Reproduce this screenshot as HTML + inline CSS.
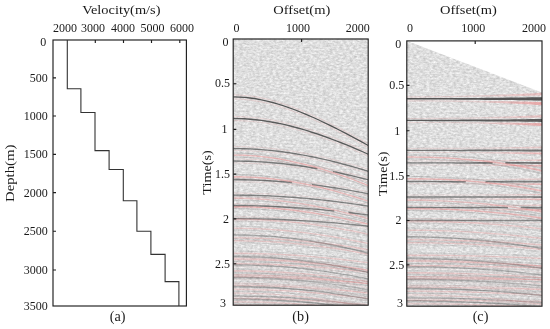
<!DOCTYPE html>
<html><head><meta charset="utf-8"><title>Velocity model and gathers</title>
<style>html,body{margin:0;padding:0;background:#fff;width:550px;height:329px;overflow:hidden}svg{display:block}</style>
</head><body>
<svg width="550" height="329" viewBox="0 0 550 329">
<defs>
<filter id="nz" x="0" y="0" width="100%" height="100%" color-interpolation-filters="sRGB">
<feTurbulence type="fractalNoise" baseFrequency="0.3 0.55" numOctaves="3" seed="3"/>
<feColorMatrix type="matrix" values="0.282 0 0 0 0.730  0.282 0 0 0 0.730  0.282 0 0 0 0.730  0 0 0 0 1"/>
</filter>
<linearGradient id="pg" gradientUnits="userSpaceOnUse" x1="478" y1="0" x2="542" y2="0"><stop offset="0" stop-color="#f07070" stop-opacity="0"/><stop offset="1" stop-color="#f07070" stop-opacity="1"/></linearGradient>
</defs>
<rect width="550" height="329" fill="#fff"/>
<clipPath id="cb"><rect x="233.3" y="38.8" width="134.7" height="266.4"/></clipPath>
<g clip-path="url(#cb)">
<rect x="233.3" y="38.8" width="134.7" height="266.4" filter="url(#nz)"/>
<polygon points="233.3,94.4 238.9,94.5 244.5,94.9 250.1,95.5 255.8,96.3 261.4,97.3 267,98.5 272.6,100 278.2,101.6 283.8,103.4 289.4,105.3 295,107.4 300.6,109.6 306.3,111.9 311.9,114.4 317.5,116.9 323.1,119.5 328.7,122.2 334.3,125 339.9,127.8 345.6,130.8 351.2,133.7 356.8,136.7 362.4,139.8 368,142.9 368,144 362.4,140.9 356.8,137.8 351.2,134.8 345.6,131.9 339.9,128.9 334.3,126.1 328.7,123.3 323.1,120.6 317.5,118 311.9,115.5 306.3,113 300.6,110.7 295,108.5 289.4,106.4 283.8,104.5 278.2,102.7 272.6,101.1 267,99.6 261.4,98.4 255.8,97.4 250.1,96.6 244.5,96 238.9,95.6 233.3,95.5" fill="rgba(238,118,118,0.16)"/>
<polygon points="233.3,98.4 238.9,98.5 244.5,98.9 250.1,99.5 255.8,100.3 261.4,101.3 267,102.5 272.6,104 278.2,105.6 283.8,107.4 289.4,109.3 295,111.4 300.6,113.6 306.3,115.9 311.9,118.4 317.5,120.9 323.1,123.5 328.7,126.2 334.3,129 339.9,131.8 345.6,134.8 351.2,137.7 356.8,140.7 362.4,143.8 368,146.9 368,148 362.4,144.9 356.8,141.8 351.2,138.8 345.6,135.9 339.9,132.9 334.3,130.1 328.7,127.3 323.1,124.6 317.5,122 311.9,119.5 306.3,117 300.6,114.7 295,112.5 289.4,110.4 283.8,108.5 278.2,106.7 272.6,105.1 267,103.6 261.4,102.4 255.8,101.4 250.1,100.6 244.5,100 238.9,99.6 233.3,99.5" fill="rgba(238,118,118,0.16)"/>
<polygon points="233.3,96.2 238.9,96.4 244.5,96.7 250.1,97.3 255.8,98.1 261.4,99.2 267,100.4 272.6,101.8 278.2,103.4 283.8,105.2 289.4,107.2 295,109.2 300.6,111.4 306.3,113.8 311.9,116.2 317.5,118.7 323.1,121.4 328.7,124.1 334.3,126.8 339.9,129.7 345.6,132.6 351.2,135.6 356.8,138.6 362.4,141.6 368,144.7 368,146.1 362.4,143 356.8,140 351.2,137 345.6,134 339.9,131.1 334.3,128.2 328.7,125.5 323.1,122.8 317.5,120.1 311.9,117.6 306.3,115.2 300.6,112.8 295,110.6 289.4,108.6 283.8,106.6 278.2,104.8 272.6,103.2 267,101.8 261.4,100.6 255.8,99.5 250.1,98.7 244.5,98.1 238.9,97.8 233.3,97.6" fill="rgba(60,60,60,0.85)"/>
<polygon points="233.3,116 238.9,116.1 244.5,116.3 250.1,116.7 255.8,117.2 261.4,117.9 267,118.7 272.6,119.6 278.2,120.7 283.8,121.9 289.4,123.2 295,124.7 300.6,126.2 306.3,127.9 311.9,129.6 317.5,131.5 323.1,133.4 328.7,135.4 334.3,137.5 339.9,139.7 345.6,142 351.2,144.3 356.8,146.6 362.4,149.1 368,151.6 368,152.7 362.4,150.2 356.8,147.7 351.2,145.4 345.6,143.1 339.9,140.8 334.3,138.6 328.7,136.5 323.1,134.5 317.5,132.6 311.9,130.7 306.3,129 300.6,127.3 295,125.8 289.4,124.3 283.8,123 278.2,121.8 272.6,120.7 267,119.8 261.4,119 255.8,118.3 250.1,117.8 244.5,117.4 238.9,117.2 233.3,117.1" fill="rgba(238,118,118,0.15)"/>
<polygon points="233.3,120 238.9,120.1 244.5,120.3 250.1,120.7 255.8,121.2 261.4,121.9 267,122.7 272.6,123.6 278.2,124.7 283.8,125.9 289.4,127.2 295,128.7 300.6,130.2 306.3,131.9 311.9,133.6 317.5,135.5 323.1,137.4 328.7,139.4 334.3,141.5 339.9,143.7 345.6,146 351.2,148.3 356.8,150.6 362.4,153.1 368,155.6 368,156.7 362.4,154.2 356.8,151.7 351.2,149.4 345.6,147.1 339.9,144.8 334.3,142.6 328.7,140.5 323.1,138.5 317.5,136.6 311.9,134.7 306.3,133 300.6,131.3 295,129.8 289.4,128.3 283.8,127 278.2,125.8 272.6,124.7 267,123.8 261.4,123 255.8,122.3 250.1,121.8 244.5,121.4 238.9,121.2 233.3,121.1" fill="rgba(238,118,118,0.15)"/>
<polygon points="233.3,117.8 238.9,117.9 244.5,118.1 250.1,118.5 255.8,119 261.4,119.7 267,120.5 272.6,121.5 278.2,122.5 283.8,123.7 289.4,125.1 295,126.5 300.6,128.1 306.3,129.7 311.9,131.5 317.5,133.3 323.1,135.3 328.7,137.3 334.3,139.4 339.9,141.6 345.6,143.8 351.2,146.1 356.8,148.5 362.4,150.9 368,153.4 368,154.8 362.4,152.3 356.8,149.9 351.2,147.5 345.6,145.2 339.9,143 334.3,140.8 328.7,138.7 323.1,136.7 317.5,134.7 311.9,132.9 306.3,131.1 300.6,129.5 295,127.9 289.4,126.5 283.8,125.1 278.2,123.9 272.6,122.9 267,121.9 261.4,121.1 255.8,120.4 250.1,119.9 244.5,119.5 238.9,119.3 233.3,119.2" fill="rgba(60,60,60,0.81)"/>
<polygon points="233.3,146 238.9,146 244.5,146.1 250.1,146.4 255.8,146.7 261.4,147 267,147.5 272.6,148.1 278.2,148.7 283.8,149.4 289.4,150.2 295,151.1 300.6,152.1 306.3,153.1 311.9,154.2 317.5,155.4 323.1,156.6 328.7,157.9 334.3,159.3 339.9,160.7 345.6,162.2 351.2,163.7 356.8,165.3 362.4,167 368,168.7 368,169.8 362.4,168.1 356.8,166.4 351.2,164.8 345.6,163.3 339.9,161.8 334.3,160.4 328.7,159 323.1,157.7 317.5,156.5 311.9,155.3 306.3,154.2 300.6,153.2 295,152.2 289.4,151.3 283.8,150.5 278.2,149.8 272.6,149.2 267,148.6 261.4,148.1 255.8,147.8 250.1,147.5 244.5,147.2 238.9,147.1 233.3,147.1" fill="rgba(238,118,118,0.12)"/>
<polygon points="233.3,150 238.9,150 244.5,150.1 250.1,150.4 255.8,150.7 261.4,151 267,151.5 272.6,152.1 278.2,152.7 283.8,153.4 289.4,154.2 295,155.1 300.6,156.1 306.3,157.1 311.9,158.2 317.5,159.4 323.1,160.6 328.7,161.9 334.3,163.3 339.9,164.7 345.6,166.2 351.2,167.7 356.8,169.3 362.4,171 368,172.7 368,173.8 362.4,172.1 356.8,170.4 351.2,168.8 345.6,167.3 339.9,165.8 334.3,164.4 328.7,163 323.1,161.7 317.5,160.5 311.9,159.3 306.3,158.2 300.6,157.2 295,156.2 289.4,155.3 283.8,154.5 278.2,153.8 272.6,153.2 267,152.6 261.4,152.1 255.8,151.8 250.1,151.5 244.5,151.2 238.9,151.1 233.3,151.1" fill="rgba(238,118,118,0.12)"/>
<polygon points="233.3,147.8 238.9,147.9 244.5,148 250.1,148.2 255.8,148.5 261.4,148.9 267,149.4 272.6,149.9 278.2,150.6 283.8,151.3 289.4,152.1 295,153 300.6,153.9 306.3,154.9 311.9,156 317.5,157.2 323.1,158.4 328.7,159.7 334.3,161.1 339.9,162.5 345.6,164 351.2,165.6 356.8,167.2 362.4,168.8 368,170.5 368,171.9 362.4,170.2 356.8,168.6 351.2,167 345.6,165.4 339.9,163.9 334.3,162.5 328.7,161.1 323.1,159.8 317.5,158.6 311.9,157.4 306.3,156.3 300.6,155.3 295,154.4 289.4,153.5 283.8,152.7 278.2,152 272.6,151.3 267,150.8 261.4,150.3 255.8,149.9 250.1,149.6 244.5,149.4 238.9,149.3 233.3,149.2" fill="rgba(60,60,60,0.65)"/>
<polygon points="233.3,158.5 238.9,158.5 244.5,158.6 250.1,158.8 255.8,159 261.4,159.3 267,159.7 272.6,160.2 278.2,160.7 283.8,161.3 289.4,161.9 295,162.6 300.6,163.4 306.3,164.3 311.9,165.2 317.5,166.1 323.1,167.1 328.7,168.2 334.3,169.4 339.9,170.5 345.6,171.8 351.2,173.1 356.8,174.4 362.4,175.8 368,177.2 368,178.3 362.4,176.9 356.8,175.5 351.2,174.2 345.6,172.9 339.9,171.6 334.3,170.5 328.7,169.3 323.1,168.2 317.5,167.2 311.9,166.3 306.3,165.4 300.6,164.5 295,163.7 289.4,163 283.8,162.4 278.2,161.8 272.6,161.3 267,160.8 261.4,160.4 255.8,160.1 250.1,159.9 244.5,159.7 238.9,159.6 233.3,159.6" fill="rgba(238,118,118,0.12)"/>
<polygon points="233.3,162.5 238.9,162.5 244.5,162.6 250.1,162.8 255.8,163 261.4,163.3 267,163.7 272.6,164.2 278.2,164.7 283.8,165.3 289.4,165.9 295,166.6 300.6,167.4 306.3,168.3 311.9,169.2 317.5,170.1 323.1,171.1 328.7,172.2 334.3,173.4 339.9,174.5 345.6,175.8 351.2,177.1 356.8,178.4 362.4,179.8 368,181.2 368,182.3 362.4,180.9 356.8,179.5 351.2,178.2 345.6,176.9 339.9,175.6 334.3,174.5 328.7,173.3 323.1,172.2 317.5,171.2 311.9,170.3 306.3,169.4 300.6,168.5 295,167.7 289.4,167 283.8,166.4 278.2,165.8 272.6,165.3 267,164.8 261.4,164.4 255.8,164.1 250.1,163.9 244.5,163.7 238.9,163.6 233.3,163.6" fill="rgba(238,118,118,0.12)"/>
<polygon points="233.3,160.3 238.9,160.4 244.5,160.5 250.1,160.6 255.8,160.9 261.4,161.2 267,161.6 272.6,162 278.2,162.5 283.8,163.1 289.4,163.8 295,164.5 300.6,165.3 306.3,166.1 311.9,167 317.5,168 317.5,169.4 311.9,168.4 306.3,167.5 300.6,166.7 295,165.9 289.4,165.2 283.8,164.5 278.2,163.9 272.6,163.4 267,163 261.4,162.6 255.8,162.3 250.1,162 244.5,161.9 238.9,161.8 233.3,161.7" fill="rgba(60,60,60,0.63)"/>
<polygon points="332.9,170.9 338.5,172.1 344.1,173.3 349.8,174.6 355.4,175.9 361,177.3 366.6,178.7 368,179.1 368,180.5 366.6,180.1 361,178.7 355.4,177.3 349.8,176 344.1,174.7 338.5,173.5 332.9,172.3" fill="rgba(60,60,60,0.63)"/>
<polygon points="233.3,177.2 238.9,177.2 244.5,177.3 250.1,177.4 255.8,177.6 261.4,177.8 267,178.1 272.6,178.4 278.2,178.8 283.8,179.2 289.4,179.7 295,180.2 300.6,180.8 306.3,181.4 311.9,182.1 317.5,182.8 323.1,183.6 328.7,184.4 334.3,185.2 339.9,186.1 345.6,187 351.2,188 356.8,189 362.4,190.1 368,191.2 368,192.3 362.4,191.2 356.8,190.1 351.2,189.1 345.6,188.1 339.9,187.2 334.3,186.3 328.7,185.5 323.1,184.7 317.5,183.9 311.9,183.2 306.3,182.5 300.6,181.9 295,181.3 289.4,180.8 283.8,180.3 278.2,179.9 272.6,179.5 267,179.2 261.4,178.9 255.8,178.7 250.1,178.5 244.5,178.4 238.9,178.3 233.3,178.3" fill="rgba(238,118,118,0.11)"/>
<polygon points="233.3,181.2 238.9,181.2 244.5,181.3 250.1,181.4 255.8,181.6 261.4,181.8 267,182.1 272.6,182.4 278.2,182.8 283.8,183.2 289.4,183.7 295,184.2 300.6,184.8 306.3,185.4 311.9,186.1 317.5,186.8 323.1,187.6 328.7,188.4 334.3,189.2 339.9,190.1 345.6,191 351.2,192 356.8,193 362.4,194.1 368,195.2 368,196.3 362.4,195.2 356.8,194.1 351.2,193.1 345.6,192.1 339.9,191.2 334.3,190.3 328.7,189.5 323.1,188.7 317.5,187.9 311.9,187.2 306.3,186.5 300.6,185.9 295,185.3 289.4,184.8 283.8,184.3 278.2,183.9 272.6,183.5 267,183.2 261.4,182.9 255.8,182.7 250.1,182.5 244.5,182.4 238.9,182.3 233.3,182.3" fill="rgba(238,118,118,0.11)"/>
<polygon points="233.3,179 238.9,179.1 244.5,179.1 250.1,179.3 255.8,179.4 261.4,179.7 267,180 272.6,180.3 278.2,180.7 283.8,181.1 289.4,181.6 292.2,181.8 292.2,183.2 289.4,183 283.8,182.5 278.2,182.1 272.6,181.7 267,181.4 261.4,181.1 255.8,180.8 250.1,180.7 244.5,180.5 238.9,180.5 233.3,180.4" fill="rgba(60,60,60,0.59)"/>
<polygon points="311.9,183.9 317.5,184.7 323.1,185.4 328.7,186.2 334.3,187.1 339.9,187.9 345.6,188.9 351.2,189.9 356.8,190.9 362.4,191.9 368,193 368,194.4 362.4,193.3 356.8,192.3 351.2,191.3 345.6,190.3 339.9,189.3 334.3,188.5 328.7,187.6 323.1,186.8 317.5,186.1 311.9,185.3" fill="rgba(60,60,60,0.59)"/>
<polygon points="233.3,192.6 238.9,192.6 244.5,192.7 250.1,192.8 255.8,192.9 261.4,193.1 267,193.3 272.6,193.5 278.2,193.8 283.8,194.2 289.4,194.5 295,195 300.6,195.4 306.3,195.9 311.9,196.4 317.5,197 323.1,197.6 328.7,198.2 334.3,198.9 339.9,199.6 345.6,200.3 351.2,201.1 356.8,201.9 362.4,202.7 368,203.6 368,204.7 362.4,203.8 356.8,203 351.2,202.2 345.6,201.4 339.9,200.7 334.3,200 328.7,199.3 323.1,198.7 317.5,198.1 311.9,197.5 306.3,197 300.6,196.5 295,196.1 289.4,195.6 283.8,195.3 278.2,194.9 272.6,194.6 267,194.4 261.4,194.2 255.8,194 250.1,193.9 244.5,193.8 238.9,193.7 233.3,193.7" fill="rgba(238,118,118,0.11)"/>
<polygon points="233.3,196.6 238.9,196.6 244.5,196.7 250.1,196.8 255.8,196.9 261.4,197.1 267,197.3 272.6,197.5 278.2,197.8 283.8,198.2 289.4,198.5 295,199 300.6,199.4 306.3,199.9 311.9,200.4 317.5,201 323.1,201.6 328.7,202.2 334.3,202.9 339.9,203.6 345.6,204.3 351.2,205.1 356.8,205.9 362.4,206.7 368,207.6 368,208.7 362.4,207.8 356.8,207 351.2,206.2 345.6,205.4 339.9,204.7 334.3,204 328.7,203.3 323.1,202.7 317.5,202.1 311.9,201.5 306.3,201 300.6,200.5 295,200.1 289.4,199.6 283.8,199.3 278.2,198.9 272.6,198.6 267,198.4 261.4,198.2 255.8,198 250.1,197.9 244.5,197.8 238.9,197.7 233.3,197.7" fill="rgba(238,118,118,0.11)"/>
<polygon points="233.3,194.4 238.9,194.4 244.5,194.5 250.1,194.6 255.8,194.7 261.4,194.9 267,195.1 272.6,195.4 278.2,195.7 283.8,196 289.4,196.4 295,196.8 300.6,197.3 306.3,197.7 311.9,198.3 317.5,198.8 323.1,199.4 328.7,200.1 334.3,200.7 339.9,201.4 345.6,202.2 351.2,202.9 356.8,203.7 362.4,204.6 368,205.4 368,206.8 362.4,206 356.8,205.1 351.2,204.3 345.6,203.6 339.9,202.8 334.3,202.1 328.7,201.5 323.1,200.8 317.5,200.2 311.9,199.7 306.3,199.1 300.6,198.7 295,198.2 289.4,197.8 283.8,197.4 278.2,197.1 272.6,196.8 267,196.5 261.4,196.3 255.8,196.1 250.1,196 244.5,195.9 238.9,195.8 233.3,195.8" fill="rgba(60,60,60,0.59)"/>
<polygon points="233.3,203.1 238.9,203.1 244.5,203.2 250.1,203.3 255.8,203.4 261.4,203.5 267,203.7 272.6,203.9 278.2,204.2 283.8,204.5 289.4,204.8 295,205.1 300.6,205.5 306.3,205.9 311.9,206.3 317.5,206.8 323.1,207.3 328.7,207.9 334.3,208.4 339.9,209 345.6,209.6 351.2,210.3 356.8,211 362.4,211.7 368,212.4 368,213.5 362.4,212.8 356.8,212.1 351.2,211.4 345.6,210.7 339.9,210.1 334.3,209.5 328.7,209 323.1,208.4 317.5,207.9 311.9,207.4 306.3,207 300.6,206.6 295,206.2 289.4,205.9 283.8,205.6 278.2,205.3 272.6,205 267,204.8 261.4,204.6 255.8,204.5 250.1,204.4 244.5,204.3 238.9,204.2 233.3,204.2" fill="rgba(238,118,118,0.11)"/>
<polygon points="233.3,207.1 238.9,207.1 244.5,207.2 250.1,207.3 255.8,207.4 261.4,207.5 267,207.7 272.6,207.9 278.2,208.2 283.8,208.5 289.4,208.8 295,209.1 300.6,209.5 306.3,209.9 311.9,210.3 317.5,210.8 323.1,211.3 328.7,211.9 334.3,212.4 339.9,213 345.6,213.6 351.2,214.3 356.8,215 362.4,215.7 368,216.4 368,217.5 362.4,216.8 356.8,216.1 351.2,215.4 345.6,214.7 339.9,214.1 334.3,213.5 328.7,213 323.1,212.4 317.5,211.9 311.9,211.4 306.3,211 300.6,210.6 295,210.2 289.4,209.9 283.8,209.6 278.2,209.3 272.6,209 267,208.8 261.4,208.6 255.8,208.5 250.1,208.4 244.5,208.3 238.9,208.2 233.3,208.2" fill="rgba(238,118,118,0.11)"/>
<polygon points="233.3,205 238.9,205 244.5,205 250.1,205.1 255.8,205.2 261.4,205.4 267,205.6 272.6,205.8 278.2,206 283.8,206.3 289.4,206.6 295,207 300.6,207.3 306.3,207.8 311.9,208.2 317.5,208.7 323.1,209.2 328.7,209.7 334.3,210.3 334.3,211.7 328.7,211.1 323.1,210.6 317.5,210.1 311.9,209.6 306.3,209.2 300.6,208.7 295,208.4 289.4,208 283.8,207.7 278.2,207.4 272.6,207.2 267,207 261.4,206.8 255.8,206.6 250.1,206.5 244.5,206.4 238.9,206.4 233.3,206.4" fill="rgba(60,60,60,0.59)"/>
<polygon points="348.4,211.8 354,212.5 359.6,213.2 365.2,213.9 368,214.3 368,215.7 365.2,215.3 359.6,214.6 354,213.9 348.4,213.2" fill="rgba(60,60,60,0.59)"/>
<polygon points="233.3,216.1 238.9,216.1 244.5,216.1 250.1,216.2 255.8,216.3 261.4,216.4 267,216.6 272.6,216.7 278.2,216.9 283.8,217.2 289.4,217.4 295,217.7 300.6,218 306.3,218.3 311.9,218.7 317.5,219.1 323.1,219.5 328.7,219.9 334.3,220.4 339.9,220.9 345.6,221.4 351.2,221.9 356.8,222.5 362.4,223.1 368,223.7 368,224.8 362.4,224.2 356.8,223.6 351.2,223 345.6,222.5 339.9,222 334.3,221.5 328.7,221 323.1,220.6 317.5,220.2 311.9,219.8 306.3,219.4 300.6,219.1 295,218.8 289.4,218.5 283.8,218.3 278.2,218 272.6,217.8 267,217.7 261.4,217.5 255.8,217.4 250.1,217.3 244.5,217.2 238.9,217.2 233.3,217.2" fill="rgba(238,118,118,0.10)"/>
<polygon points="233.3,220.1 238.9,220.1 244.5,220.1 250.1,220.2 255.8,220.3 261.4,220.4 267,220.6 272.6,220.7 278.2,220.9 283.8,221.2 289.4,221.4 295,221.7 300.6,222 306.3,222.3 311.9,222.7 317.5,223.1 323.1,223.5 328.7,223.9 334.3,224.4 339.9,224.9 345.6,225.4 351.2,225.9 356.8,226.5 362.4,227.1 368,227.7 368,228.8 362.4,228.2 356.8,227.6 351.2,227 345.6,226.5 339.9,226 334.3,225.5 328.7,225 323.1,224.6 317.5,224.2 311.9,223.8 306.3,223.4 300.6,223.1 295,222.8 289.4,222.5 283.8,222.3 278.2,222 272.6,221.8 267,221.7 261.4,221.5 255.8,221.4 250.1,221.3 244.5,221.2 238.9,221.2 233.3,221.2" fill="rgba(238,118,118,0.10)"/>
<polygon points="233.3,217.9 238.9,217.9 244.5,218 250.1,218 255.8,218.1 261.4,218.3 267,218.4 272.6,218.6 278.2,218.8 283.8,219 289.4,219.3 295,219.5 300.6,219.9 306.3,220.2 311.9,220.5 317.5,220.9 323.1,221.3 328.7,221.8 334.3,222.2 339.9,222.7 345.6,223.2 351.2,223.8 356.8,224.3 362.4,224.9 368,225.5 368,226.9 362.4,226.3 356.8,225.7 351.2,225.2 345.6,224.6 339.9,224.1 334.3,223.6 328.7,223.2 323.1,222.7 317.5,222.3 311.9,221.9 306.3,221.6 300.6,221.3 295,220.9 289.4,220.7 283.8,220.4 278.2,220.2 272.6,220 267,219.8 261.4,219.7 255.8,219.5 250.1,219.4 244.5,219.4 238.9,219.3 233.3,219.3" fill="rgba(60,60,60,0.54)"/>
<polygon points="233.3,152.5 238.9,152.6 244.5,152.8 250.1,153.1 255.8,153.5 261.4,154 267,154.7 272.6,155.4 278.2,156.3 283.8,157.3 289.4,158.4 295,159.5 300.6,160.8 306.3,162.2 311.9,163.7 317.5,165.3 323.1,166.9 328.7,168.7 334.3,170.5 339.9,172.4 345.6,174.4 351.2,176.4 356.8,178.5 362.4,180.7 368,182.9 368,184 362.4,181.8 356.8,179.6 351.2,177.5 345.6,175.5 339.9,173.5 334.3,171.6 328.7,169.8 323.1,168 317.5,166.4 311.9,164.8 306.3,163.3 300.6,161.9 295,160.6 289.4,159.5 283.8,158.4 278.2,157.4 272.6,156.5 267,155.8 261.4,155.1 255.8,154.6 250.1,154.2 244.5,153.9 238.9,153.7 233.3,153.6" fill="rgba(60,60,60,0.17)"/>
<polygon points="233.3,156.5 238.9,156.6 244.5,156.8 250.1,157.1 255.8,157.5 261.4,158 267,158.7 272.6,159.4 278.2,160.3 283.8,161.3 289.4,162.4 295,163.5 300.6,164.8 306.3,166.2 311.9,167.7 317.5,169.3 323.1,170.9 328.7,172.7 334.3,174.5 339.9,176.4 345.6,178.4 351.2,180.4 356.8,182.5 362.4,184.7 368,186.9 368,188 362.4,185.8 356.8,183.6 351.2,181.5 345.6,179.5 339.9,177.5 334.3,175.6 328.7,173.8 323.1,172 317.5,170.4 311.9,168.8 306.3,167.3 300.6,165.9 295,164.6 289.4,163.5 283.8,162.4 278.2,161.4 272.6,160.5 267,159.8 261.4,159.1 255.8,158.6 250.1,158.2 244.5,157.9 238.9,157.7 233.3,157.6" fill="rgba(60,60,60,0.17)"/>
<polygon points="233.3,154.4 238.9,154.4 244.5,154.6 250.1,154.9 255.8,155.3 261.4,155.9 267,156.5 272.6,157.3 278.2,158.1 283.8,159.1 289.4,160.2 295,161.4 300.6,162.7 306.3,164.1 311.9,165.5 317.5,167.1 323.1,168.8 328.7,170.5 334.3,172.3 339.9,174.2 345.6,176.2 351.2,178.2 356.8,180.4 362.4,182.5 368,184.8 368,186.2 362.4,183.9 356.8,181.8 351.2,179.6 345.6,177.6 339.9,175.6 334.3,173.7 328.7,171.9 323.1,170.2 317.5,168.5 311.9,166.9 306.3,165.5 300.6,164.1 295,162.8 289.4,161.6 283.8,160.5 278.2,159.5 272.6,158.7 267,157.9 261.4,157.3 255.8,156.7 250.1,156.3 244.5,156 238.9,155.8 233.3,155.8" fill="rgba(238,118,118,0.38)"/>
<polygon points="233.3,174.1 238.9,174.2 244.5,174.3 250.1,174.5 255.8,174.9 261.4,175.3 267,175.8 272.6,176.4 278.2,177.1 283.8,177.8 289.4,178.7 295,179.6 300.6,180.6 306.3,181.7 311.9,182.9 317.5,184.2 323.1,185.5 328.7,186.9 334.3,188.4 339.9,189.9 345.6,191.5 351.2,193.2 356.8,194.9 362.4,196.7 368,198.6 368,199.7 362.4,197.8 356.8,196 351.2,194.3 345.6,192.6 339.9,191 334.3,189.5 328.7,188 323.1,186.6 317.5,185.3 311.9,184 306.3,182.8 300.6,181.7 295,180.7 289.4,179.8 283.8,178.9 278.2,178.2 272.6,177.5 267,176.9 261.4,176.4 255.8,176 250.1,175.6 244.5,175.4 238.9,175.3 233.3,175.2" fill="rgba(60,60,60,0.17)"/>
<polygon points="233.3,178.1 238.9,178.2 244.5,178.3 250.1,178.5 255.8,178.9 261.4,179.3 267,179.8 272.6,180.4 278.2,181.1 283.8,181.8 289.4,182.7 295,183.6 300.6,184.6 306.3,185.7 311.9,186.9 317.5,188.2 323.1,189.5 328.7,190.9 334.3,192.4 339.9,193.9 345.6,195.5 351.2,197.2 356.8,198.9 362.4,200.7 368,202.6 368,203.7 362.4,201.8 356.8,200 351.2,198.3 345.6,196.6 339.9,195 334.3,193.5 328.7,192 323.1,190.6 317.5,189.3 311.9,188 306.3,186.8 300.6,185.7 295,184.7 289.4,183.8 283.8,182.9 278.2,182.2 272.6,181.5 267,180.9 261.4,180.4 255.8,180 250.1,179.6 244.5,179.4 238.9,179.3 233.3,179.2" fill="rgba(60,60,60,0.17)"/>
<polygon points="233.3,176 238.9,176 244.5,176.2 250.1,176.4 255.8,176.7 261.4,177.1 267,177.6 272.6,178.2 278.2,178.9 283.8,179.7 289.4,180.5 295,181.5 300.6,182.5 306.3,183.6 311.9,184.8 317.5,186 323.1,187.4 328.7,188.8 334.3,190.2 339.9,191.8 345.6,193.4 351.2,195.1 356.8,196.8 362.4,198.6 368,200.4 368,201.8 362.4,200 356.8,198.2 351.2,196.5 345.6,194.8 339.9,193.2 334.3,191.6 328.7,190.2 323.1,188.8 317.5,187.4 311.9,186.2 306.3,185 300.6,183.9 295,182.9 289.4,181.9 283.8,181.1 278.2,180.3 272.6,179.6 267,179 261.4,178.5 255.8,178.1 250.1,177.8 244.5,177.6 238.9,177.4 233.3,177.4" fill="rgba(238,118,118,0.38)"/>
<polygon points="233.3,204.1 238.9,204.1 244.5,204.2 250.1,204.4 255.8,204.6 261.4,204.9 267,205.2 272.6,205.7 278.2,206.1 283.8,206.7 289.4,207.3 295,207.9 300.6,208.6 306.3,209.4 311.9,210.2 317.5,211.1 323.1,212.1 328.7,213.1 334.3,214.1 339.9,215.2 345.6,216.4 351.2,217.6 356.8,218.9 362.4,220.2 368,221.6 368,222.7 362.4,221.3 356.8,220 351.2,218.7 345.6,217.5 339.9,216.3 334.3,215.2 328.7,214.2 323.1,213.2 317.5,212.2 311.9,211.3 306.3,210.5 300.6,209.7 295,209 289.4,208.4 283.8,207.8 278.2,207.2 272.6,206.8 267,206.3 261.4,206 255.8,205.7 250.1,205.5 244.5,205.3 238.9,205.2 233.3,205.2" fill="rgba(60,60,60,0.17)"/>
<polygon points="233.3,208.1 238.9,208.1 244.5,208.2 250.1,208.4 255.8,208.6 261.4,208.9 267,209.2 272.6,209.7 278.2,210.1 283.8,210.7 289.4,211.3 295,211.9 300.6,212.6 306.3,213.4 311.9,214.2 317.5,215.1 323.1,216.1 328.7,217.1 334.3,218.1 339.9,219.2 345.6,220.4 351.2,221.6 356.8,222.9 362.4,224.2 368,225.6 368,226.7 362.4,225.3 356.8,224 351.2,222.7 345.6,221.5 339.9,220.3 334.3,219.2 328.7,218.2 323.1,217.2 317.5,216.2 311.9,215.3 306.3,214.5 300.6,213.7 295,213 289.4,212.4 283.8,211.8 278.2,211.2 272.6,210.8 267,210.3 261.4,210 255.8,209.7 250.1,209.5 244.5,209.3 238.9,209.2 233.3,209.2" fill="rgba(60,60,60,0.17)"/>
<polygon points="233.3,206 238.9,206 244.5,206.1 250.1,206.2 255.8,206.5 261.4,206.7 267,207.1 272.6,207.5 278.2,208 283.8,208.5 289.4,209.1 295,209.8 300.6,210.5 306.3,211.3 311.9,212.1 317.5,213 323.1,213.9 328.7,214.9 334.3,216 339.9,217.1 345.6,218.3 351.2,219.5 356.8,220.7 362.4,222.1 368,223.4 368,224.8 362.4,223.5 356.8,222.1 351.2,220.9 345.6,219.7 339.9,218.5 334.3,217.4 328.7,216.3 323.1,215.3 317.5,214.4 311.9,213.5 306.3,212.7 300.6,211.9 295,211.2 289.4,210.5 283.8,209.9 278.2,209.4 272.6,208.9 267,208.5 261.4,208.1 255.8,207.9 250.1,207.6 244.5,207.5 238.9,207.4 233.3,207.4" fill="rgba(238,118,118,0.38)"/>
<polygon points="233.3,216.6 238.9,216.6 244.5,216.7 250.1,216.9 255.8,217 261.4,217.3 267,217.6 272.6,217.9 278.2,218.3 283.8,218.8 289.4,219.3 295,219.9 300.6,220.5 306.3,221.1 311.9,221.9 317.5,222.6 323.1,223.4 328.7,224.3 334.3,225.2 339.9,226.2 345.6,227.2 351.2,228.2 356.8,229.3 362.4,230.4 368,231.6 368,232.7 362.4,231.5 356.8,230.4 351.2,229.3 345.6,228.3 339.9,227.3 334.3,226.3 328.7,225.4 323.1,224.5 317.5,223.7 311.9,223 306.3,222.2 300.6,221.6 295,221 289.4,220.4 283.8,219.9 278.2,219.4 272.6,219 267,218.7 261.4,218.4 255.8,218.1 250.1,218 244.5,217.8 238.9,217.7 233.3,217.7" fill="rgba(60,60,60,0.11)"/>
<polygon points="233.3,220.6 238.9,220.6 244.5,220.7 250.1,220.9 255.8,221 261.4,221.3 267,221.6 272.6,221.9 278.2,222.3 283.8,222.8 289.4,223.3 295,223.9 300.6,224.5 306.3,225.1 311.9,225.9 317.5,226.6 323.1,227.4 328.7,228.3 334.3,229.2 339.9,230.2 345.6,231.2 351.2,232.2 356.8,233.3 362.4,234.4 368,235.6 368,236.7 362.4,235.5 356.8,234.4 351.2,233.3 345.6,232.3 339.9,231.3 334.3,230.3 328.7,229.4 323.1,228.5 317.5,227.7 311.9,227 306.3,226.2 300.6,225.6 295,225 289.4,224.4 283.8,223.9 278.2,223.4 272.6,223 267,222.7 261.4,222.4 255.8,222.1 250.1,222 244.5,221.8 238.9,221.7 233.3,221.7" fill="rgba(60,60,60,0.11)"/>
<polygon points="233.3,218.5 238.9,218.5 244.5,218.6 250.1,218.7 255.8,218.9 261.4,219.1 267,219.4 272.6,219.8 278.2,220.2 283.8,220.6 289.4,221.2 295,221.7 300.6,222.3 306.3,223 311.9,223.7 317.5,224.5 323.1,225.3 328.7,226.1 334.3,227 339.9,228 345.6,229 351.2,230.1 356.8,231.1 362.4,232.3 368,233.5 368,234.9 362.4,233.7 356.8,232.5 351.2,231.5 345.6,230.4 339.9,229.4 334.3,228.4 328.7,227.5 323.1,226.7 317.5,225.9 311.9,225.1 306.3,224.4 300.6,223.7 295,223.1 289.4,222.6 283.8,222 278.2,221.6 272.6,221.2 267,220.8 261.4,220.5 255.8,220.3 250.1,220.1 244.5,220 238.9,219.9 233.3,219.9" fill="rgba(238,118,118,0.24)"/>
<polygon points="233.3,235.3 238.9,235.4 244.5,235.4 250.1,235.5 255.8,235.7 261.4,235.9 267,236.1 272.6,236.4 278.2,236.7 283.8,237 289.4,237.4 295,237.9 300.6,238.3 306.3,238.8 311.9,239.4 317.5,240 323.1,240.6 328.7,241.3 334.3,242 339.9,242.8 345.6,243.6 351.2,244.4 356.8,245.2 362.4,246.1 368,247.1 368,248.2 362.4,247.2 356.8,246.3 351.2,245.5 345.6,244.7 339.9,243.9 334.3,243.1 328.7,242.4 323.1,241.7 317.5,241.1 311.9,240.5 306.3,239.9 300.6,239.4 295,239 289.4,238.5 283.8,238.1 278.2,237.8 272.6,237.5 267,237.2 261.4,237 255.8,236.8 250.1,236.6 244.5,236.5 238.9,236.5 233.3,236.4" fill="rgba(60,60,60,0.11)"/>
<polygon points="233.3,239.3 238.9,239.4 244.5,239.4 250.1,239.5 255.8,239.7 261.4,239.9 267,240.1 272.6,240.4 278.2,240.7 283.8,241 289.4,241.4 295,241.9 300.6,242.3 306.3,242.8 311.9,243.4 317.5,244 323.1,244.6 328.7,245.3 334.3,246 339.9,246.8 345.6,247.6 351.2,248.4 356.8,249.2 362.4,250.1 368,251.1 368,252.2 362.4,251.2 356.8,250.3 351.2,249.5 345.6,248.7 339.9,247.9 334.3,247.1 328.7,246.4 323.1,245.7 317.5,245.1 311.9,244.5 306.3,243.9 300.6,243.4 295,243 289.4,242.5 283.8,242.1 278.2,241.8 272.6,241.5 267,241.2 261.4,241 255.8,240.8 250.1,240.6 244.5,240.5 238.9,240.5 233.3,240.4" fill="rgba(60,60,60,0.11)"/>
<polygon points="233.3,237.2 238.9,237.2 244.5,237.3 250.1,237.4 255.8,237.5 261.4,237.7 267,237.9 272.6,238.2 278.2,238.5 283.8,238.9 289.4,239.3 295,239.7 300.6,240.2 306.3,240.7 311.9,241.3 317.5,241.8 323.1,242.5 328.7,243.2 334.3,243.9 339.9,244.6 345.6,245.4 351.2,246.2 356.8,247.1 362.4,248 368,248.9 368,250.3 362.4,249.4 356.8,248.5 351.2,247.6 345.6,246.8 339.9,246 334.3,245.3 328.7,244.6 323.1,243.9 317.5,243.2 311.9,242.7 306.3,242.1 300.6,241.6 295,241.1 289.4,240.7 283.8,240.3 278.2,239.9 272.6,239.6 267,239.3 261.4,239.1 255.8,238.9 250.1,238.8 244.5,238.7 238.9,238.6 233.3,238.6" fill="rgba(238,118,118,0.24)"/>
<polygon points="233.3,250.7 238.9,250.7 244.5,250.8 250.1,250.9 255.8,251 261.4,251.1 267,251.3 272.6,251.6 278.2,251.8 283.8,252.1 289.4,252.4 295,252.8 300.6,253.2 306.3,253.6 311.9,254 317.5,254.5 323.1,255 328.7,255.6 334.3,256.2 339.9,256.8 345.6,257.4 351.2,258.1 356.8,258.8 362.4,259.5 368,260.3 368,261.4 362.4,260.6 356.8,259.9 351.2,259.2 345.6,258.5 339.9,257.9 334.3,257.3 328.7,256.7 323.1,256.1 317.5,255.6 311.9,255.1 306.3,254.7 300.6,254.3 295,253.9 289.4,253.5 283.8,253.2 278.2,252.9 272.6,252.7 267,252.4 261.4,252.2 255.8,252.1 250.1,252 244.5,251.9 238.9,251.8 233.3,251.8" fill="rgba(60,60,60,0.11)"/>
<polygon points="233.3,254.7 238.9,254.7 244.5,254.8 250.1,254.9 255.8,255 261.4,255.1 267,255.3 272.6,255.6 278.2,255.8 283.8,256.1 289.4,256.4 295,256.8 300.6,257.2 306.3,257.6 311.9,258 317.5,258.5 323.1,259 328.7,259.6 334.3,260.2 339.9,260.8 345.6,261.4 351.2,262.1 356.8,262.8 362.4,263.5 368,264.3 368,265.4 362.4,264.6 356.8,263.9 351.2,263.2 345.6,262.5 339.9,261.9 334.3,261.3 328.7,260.7 323.1,260.1 317.5,259.6 311.9,259.1 306.3,258.7 300.6,258.3 295,257.9 289.4,257.5 283.8,257.2 278.2,256.9 272.6,256.7 267,256.4 261.4,256.2 255.8,256.1 250.1,256 244.5,255.9 238.9,255.8 233.3,255.8" fill="rgba(60,60,60,0.11)"/>
<polygon points="233.3,252.6 238.9,252.6 244.5,252.6 250.1,252.7 255.8,252.8 261.4,253 267,253.2 272.6,253.4 278.2,253.7 283.8,253.9 289.4,254.3 295,254.6 300.6,255 306.3,255.4 311.9,255.9 317.5,256.4 323.1,256.9 328.7,257.4 334.3,258 339.9,258.6 345.6,259.3 351.2,259.9 356.8,260.6 362.4,261.4 368,262.1 368,263.5 362.4,262.8 356.8,262 351.2,261.3 345.6,260.7 339.9,260 334.3,259.4 328.7,258.8 323.1,258.3 317.5,257.8 311.9,257.3 306.3,256.8 300.6,256.4 295,256 289.4,255.7 283.8,255.3 278.2,255.1 272.6,254.8 267,254.6 261.4,254.4 255.8,254.2 250.1,254.1 244.5,254 238.9,254 233.3,254" fill="rgba(238,118,118,0.24)"/>
<polygon points="233.3,261.2 238.9,261.3 244.5,261.3 250.1,261.4 255.8,261.5 261.4,261.6 267,261.8 272.6,262 278.2,262.2 283.8,262.4 289.4,262.7 295,263 300.6,263.3 306.3,263.7 311.9,264.1 317.5,264.5 323.1,265 328.7,265.4 334.3,265.9 339.9,266.5 345.6,267 351.2,267.6 356.8,268.2 362.4,268.9 368,269.5 368,270.6 362.4,270 356.8,269.3 351.2,268.7 345.6,268.1 339.9,267.6 334.3,267 328.7,266.5 323.1,266.1 317.5,265.6 311.9,265.2 306.3,264.8 300.6,264.4 295,264.1 289.4,263.8 283.8,263.5 278.2,263.3 272.6,263.1 267,262.9 261.4,262.7 255.8,262.6 250.1,262.5 244.5,262.4 238.9,262.4 233.3,262.4" fill="rgba(60,60,60,0.11)"/>
<polygon points="233.3,265.2 238.9,265.3 244.5,265.3 250.1,265.4 255.8,265.5 261.4,265.6 267,265.8 272.6,266 278.2,266.2 283.8,266.4 289.4,266.7 295,267 300.6,267.3 306.3,267.7 311.9,268.1 317.5,268.5 323.1,269 328.7,269.4 334.3,269.9 339.9,270.5 345.6,271 351.2,271.6 356.8,272.2 362.4,272.9 368,273.5 368,274.6 362.4,274 356.8,273.3 351.2,272.7 345.6,272.1 339.9,271.6 334.3,271 328.7,270.5 323.1,270.1 317.5,269.6 311.9,269.2 306.3,268.8 300.6,268.4 295,268.1 289.4,267.8 283.8,267.5 278.2,267.3 272.6,267.1 267,266.9 261.4,266.7 255.8,266.6 250.1,266.5 244.5,266.4 238.9,266.4 233.3,266.4" fill="rgba(60,60,60,0.11)"/>
<polygon points="233.3,263.1 238.9,263.1 244.5,263.2 250.1,263.2 255.8,263.3 261.4,263.5 267,263.6 272.6,263.8 278.2,264 283.8,264.3 289.4,264.6 295,264.9 300.6,265.2 306.3,265.6 311.9,265.9 317.5,266.4 323.1,266.8 328.7,267.3 334.3,267.8 339.9,268.3 345.6,268.9 351.2,269.5 356.8,270.1 362.4,270.7 368,271.4 368,272.8 362.4,272.1 356.8,271.5 351.2,270.9 345.6,270.3 339.9,269.7 334.3,269.2 328.7,268.7 323.1,268.2 317.5,267.8 311.9,267.3 306.3,267 300.6,266.6 295,266.3 289.4,266 283.8,265.7 278.2,265.4 272.6,265.2 267,265 261.4,264.9 255.8,264.7 250.1,264.6 244.5,264.6 238.9,264.5 233.3,264.5" fill="rgba(238,118,118,0.24)"/>
<polygon points="233.3,274.2 238.9,274.2 244.5,274.3 250.1,274.3 255.8,274.4 261.4,274.5 267,274.6 272.6,274.8 278.2,275 283.8,275.2 289.4,275.4 295,275.7 300.6,275.9 306.3,276.2 311.9,276.6 317.5,276.9 323.1,277.3 328.7,277.7 334.3,278.1 339.9,278.5 345.6,279 351.2,279.5 356.8,280 362.4,280.5 368,281.1 368,282.2 362.4,281.6 356.8,281.1 351.2,280.6 345.6,280.1 339.9,279.6 334.3,279.2 328.7,278.8 323.1,278.4 317.5,278 311.9,277.7 306.3,277.3 300.6,277 295,276.8 289.4,276.5 283.8,276.3 278.2,276.1 272.6,275.9 267,275.7 261.4,275.6 255.8,275.5 250.1,275.4 244.5,275.4 238.9,275.3 233.3,275.3" fill="rgba(60,60,60,0.10)"/>
<polygon points="233.3,278.2 238.9,278.2 244.5,278.3 250.1,278.3 255.8,278.4 261.4,278.5 267,278.6 272.6,278.8 278.2,279 283.8,279.2 289.4,279.4 295,279.7 300.6,279.9 306.3,280.2 311.9,280.6 317.5,280.9 323.1,281.3 328.7,281.7 334.3,282.1 339.9,282.5 345.6,283 351.2,283.5 356.8,284 362.4,284.5 368,285.1 368,286.2 362.4,285.6 356.8,285.1 351.2,284.6 345.6,284.1 339.9,283.6 334.3,283.2 328.7,282.8 323.1,282.4 317.5,282 311.9,281.7 306.3,281.3 300.6,281 295,280.8 289.4,280.5 283.8,280.3 278.2,280.1 272.6,279.9 267,279.7 261.4,279.6 255.8,279.5 250.1,279.4 244.5,279.4 238.9,279.3 233.3,279.3" fill="rgba(60,60,60,0.10)"/>
<polygon points="233.3,276.1 238.9,276.1 244.5,276.1 250.1,276.2 255.8,276.3 261.4,276.4 267,276.5 272.6,276.7 278.2,276.8 283.8,277 289.4,277.3 295,277.5 300.6,277.8 306.3,278.1 311.9,278.4 317.5,278.8 323.1,279.1 328.7,279.5 334.3,280 339.9,280.4 345.6,280.9 351.2,281.3 356.8,281.9 362.4,282.4 368,282.9 368,284.3 362.4,283.8 356.8,283.3 351.2,282.7 345.6,282.3 339.9,281.8 334.3,281.4 328.7,280.9 323.1,280.5 317.5,280.2 311.9,279.8 306.3,279.5 300.6,279.2 295,278.9 289.4,278.7 283.8,278.4 278.2,278.2 272.6,278.1 267,277.9 261.4,277.8 255.8,277.7 250.1,277.6 244.5,277.5 238.9,277.5 233.3,277.5" fill="rgba(238,118,118,0.23)"/>
<polygon points="233.3,195.7 238.9,195.8 244.5,195.9 250.1,196.1 255.8,196.3 261.4,196.7 267,197.1 272.6,197.6 278.2,198.1 283.8,198.8 289.4,199.5 295,200.2 300.6,201.1 306.3,202 311.9,203 317.5,204 323.1,205.1 328.7,206.3 334.3,207.5 339.9,208.8 345.6,210.2 351.2,211.6 356.8,213.1 362.4,214.6 368,216.2 368,217.3 362.4,215.7 356.8,214.2 351.2,212.7 345.6,211.3 339.9,209.9 334.3,208.6 328.7,207.4 323.1,206.2 317.5,205.1 311.9,204.1 306.3,203.1 300.6,202.2 295,201.3 289.4,200.6 283.8,199.9 278.2,199.2 272.6,198.7 267,198.2 261.4,197.8 255.8,197.4 250.1,197.2 244.5,197 238.9,196.9 233.3,196.8" fill="rgba(60,60,60,0.14)"/>
<polygon points="233.3,199.7 238.9,199.8 244.5,199.9 250.1,200.1 255.8,200.3 261.4,200.7 267,201.1 272.6,201.6 278.2,202.1 283.8,202.8 289.4,203.5 295,204.2 300.6,205.1 306.3,206 311.9,207 317.5,208 323.1,209.1 328.7,210.3 334.3,211.5 339.9,212.8 345.6,214.2 351.2,215.6 356.8,217.1 362.4,218.6 368,220.2 368,221.3 362.4,219.7 356.8,218.2 351.2,216.7 345.6,215.3 339.9,213.9 334.3,212.6 328.7,211.4 323.1,210.2 317.5,209.1 311.9,208.1 306.3,207.1 300.6,206.2 295,205.3 289.4,204.6 283.8,203.9 278.2,203.2 272.6,202.7 267,202.2 261.4,201.8 255.8,201.4 250.1,201.2 244.5,201 238.9,200.9 233.3,200.8" fill="rgba(60,60,60,0.14)"/>
<polygon points="233.3,197.6 238.9,197.6 244.5,197.7 250.1,197.9 255.8,198.2 261.4,198.5 267,198.9 272.6,199.4 278.2,200 283.8,200.6 289.4,201.3 295,202.1 300.6,202.9 306.3,203.8 311.9,204.8 317.5,205.9 323.1,207 328.7,208.1 334.3,209.4 339.9,210.7 345.6,212 351.2,213.4 356.8,214.9 362.4,216.4 368,218 368,219.4 362.4,217.8 356.8,216.3 351.2,214.8 345.6,213.4 339.9,212.1 334.3,210.8 328.7,209.5 323.1,208.4 317.5,207.3 311.9,206.2 306.3,205.2 300.6,204.3 295,203.5 289.4,202.7 283.8,202 278.2,201.4 272.6,200.8 267,200.3 261.4,199.9 255.8,199.6 250.1,199.3 244.5,199.1 238.9,199 233.3,199" fill="rgba(238,118,118,0.31)"/>
<polygon points="233.3,225.7 238.9,225.7 244.5,225.8 250.1,225.9 255.8,226.1 261.4,226.4 267,226.7 272.6,227 278.2,227.5 283.8,227.9 289.4,228.4 295,229 300.6,229.6 306.3,230.3 311.9,231 317.5,231.8 323.1,232.6 328.7,233.5 334.3,234.4 339.9,235.4 345.6,236.4 351.2,237.5 356.8,238.6 362.4,239.8 368,241 368,242.1 362.4,240.9 356.8,239.7 351.2,238.6 345.6,237.5 339.9,236.5 334.3,235.5 328.7,234.6 323.1,233.7 317.5,232.9 311.9,232.1 306.3,231.4 300.6,230.7 295,230.1 289.4,229.5 283.8,229 278.2,228.6 272.6,228.1 267,227.8 261.4,227.5 255.8,227.2 250.1,227 244.5,226.9 238.9,226.8 233.3,226.8" fill="rgba(60,60,60,0.11)"/>
<polygon points="233.3,229.7 238.9,229.7 244.5,229.8 250.1,229.9 255.8,230.1 261.4,230.4 267,230.7 272.6,231 278.2,231.5 283.8,231.9 289.4,232.4 295,233 300.6,233.6 306.3,234.3 311.9,235 317.5,235.8 323.1,236.6 328.7,237.5 334.3,238.4 339.9,239.4 345.6,240.4 351.2,241.5 356.8,242.6 362.4,243.8 368,245 368,246.1 362.4,244.9 356.8,243.7 351.2,242.6 345.6,241.5 339.9,240.5 334.3,239.5 328.7,238.6 323.1,237.7 317.5,236.9 311.9,236.1 306.3,235.4 300.6,234.7 295,234.1 289.4,233.5 283.8,233 278.2,232.6 272.6,232.1 267,231.8 261.4,231.5 255.8,231.2 250.1,231 244.5,230.9 238.9,230.8 233.3,230.8" fill="rgba(60,60,60,0.11)"/>
<polygon points="233.3,227.6 238.9,227.6 244.5,227.7 250.1,227.8 255.8,228 261.4,228.2 267,228.5 272.6,228.9 278.2,229.3 283.8,229.8 289.4,230.3 295,230.9 300.6,231.5 306.3,232.2 311.9,232.9 317.5,233.7 323.1,234.5 328.7,235.4 334.3,236.3 339.9,237.3 345.6,238.3 351.2,239.4 356.8,240.5 362.4,241.6 368,242.8 368,244.2 362.4,243 356.8,241.9 351.2,240.8 345.6,239.7 339.9,238.7 334.3,237.7 328.7,236.8 323.1,235.9 317.5,235.1 311.9,234.3 306.3,233.6 300.6,232.9 295,232.3 289.4,231.7 283.8,231.2 278.2,230.7 272.6,230.3 267,229.9 261.4,229.6 255.8,229.4 250.1,229.2 244.5,229.1 238.9,229 233.3,228.9" fill="rgba(238,118,118,0.24)"/>
<polygon points="233.3,238.2 238.9,238.2 244.5,238.3 250.1,238.4 255.8,238.6 261.4,238.8 267,239.1 272.6,239.4 278.2,239.7 283.8,240.1 289.4,240.6 295,241.1 300.6,241.6 306.3,242.2 311.9,242.9 317.5,243.5 323.1,244.3 328.7,245 334.3,245.8 339.9,246.7 345.6,247.6 351.2,248.5 356.8,249.5 362.4,250.5 368,251.6 368,252.7 362.4,251.6 356.8,250.6 351.2,249.6 345.6,248.7 339.9,247.8 334.3,246.9 328.7,246.1 323.1,245.4 317.5,244.6 311.9,244 306.3,243.3 300.6,242.7 295,242.2 289.4,241.7 283.8,241.2 278.2,240.8 272.6,240.5 267,240.2 261.4,239.9 255.8,239.7 250.1,239.5 244.5,239.4 238.9,239.3 233.3,239.3" fill="rgba(60,60,60,0.11)"/>
<polygon points="233.3,242.2 238.9,242.2 244.5,242.3 250.1,242.4 255.8,242.6 261.4,242.8 267,243.1 272.6,243.4 278.2,243.7 283.8,244.1 289.4,244.6 295,245.1 300.6,245.6 306.3,246.2 311.9,246.9 317.5,247.5 323.1,248.3 328.7,249 334.3,249.8 339.9,250.7 345.6,251.6 351.2,252.5 356.8,253.5 362.4,254.5 368,255.6 368,256.7 362.4,255.6 356.8,254.6 351.2,253.6 345.6,252.7 339.9,251.8 334.3,250.9 328.7,250.1 323.1,249.4 317.5,248.6 311.9,248 306.3,247.3 300.6,246.7 295,246.2 289.4,245.7 283.8,245.2 278.2,244.8 272.6,244.5 267,244.2 261.4,243.9 255.8,243.7 250.1,243.5 244.5,243.4 238.9,243.3 233.3,243.3" fill="rgba(60,60,60,0.11)"/>
<polygon points="233.3,240.1 238.9,240.1 244.5,240.2 250.1,240.3 255.8,240.4 261.4,240.7 267,240.9 272.6,241.2 278.2,241.6 283.8,242 289.4,242.4 295,242.9 300.6,243.5 306.3,244.1 311.9,244.7 317.5,245.4 323.1,246.1 328.7,246.9 334.3,247.7 339.9,248.5 345.6,249.4 351.2,250.4 356.8,251.3 362.4,252.4 368,253.4 368,254.8 362.4,253.8 356.8,252.7 351.2,251.8 345.6,250.8 339.9,249.9 334.3,249.1 328.7,248.3 323.1,247.5 317.5,246.8 311.9,246.1 306.3,245.5 300.6,244.9 295,244.3 289.4,243.8 283.8,243.4 278.2,243 272.6,242.6 267,242.3 261.4,242.1 255.8,241.8 250.1,241.7 244.5,241.6 238.9,241.5 233.3,241.5" fill="rgba(238,118,118,0.24)"/>
<polygon points="233.3,256.9 238.9,256.9 244.5,257 250.1,257.1 255.8,257.2 261.4,257.4 267,257.6 272.6,257.9 278.2,258.1 283.8,258.5 289.4,258.8 295,259.2 300.6,259.7 306.3,260.1 311.9,260.6 317.5,261.2 323.1,261.8 328.7,262.4 334.3,263 339.9,263.7 345.6,264.4 351.2,265.2 356.8,266 362.4,266.8 368,267.6 368,268.7 362.4,267.9 356.8,267.1 351.2,266.3 345.6,265.5 339.9,264.8 334.3,264.1 328.7,263.5 323.1,262.9 317.5,262.3 311.9,261.7 306.3,261.2 300.6,260.8 295,260.3 289.4,259.9 283.8,259.6 278.2,259.2 272.6,259 267,258.7 261.4,258.5 255.8,258.3 250.1,258.2 244.5,258.1 238.9,258 233.3,258" fill="rgba(60,60,60,0.11)"/>
<polygon points="233.3,260.9 238.9,260.9 244.5,261 250.1,261.1 255.8,261.2 261.4,261.4 267,261.6 272.6,261.9 278.2,262.1 283.8,262.5 289.4,262.8 295,263.2 300.6,263.7 306.3,264.1 311.9,264.6 317.5,265.2 323.1,265.8 328.7,266.4 334.3,267 339.9,267.7 345.6,268.4 351.2,269.2 356.8,270 362.4,270.8 368,271.6 368,272.7 362.4,271.9 356.8,271.1 351.2,270.3 345.6,269.5 339.9,268.8 334.3,268.1 328.7,267.5 323.1,266.9 317.5,266.3 311.9,265.7 306.3,265.2 300.6,264.8 295,264.3 289.4,263.9 283.8,263.6 278.2,263.2 272.6,263 267,262.7 261.4,262.5 255.8,262.3 250.1,262.2 244.5,262.1 238.9,262 233.3,262" fill="rgba(60,60,60,0.11)"/>
<polygon points="233.3,258.8 238.9,258.8 244.5,258.9 250.1,259 255.8,259.1 261.4,259.3 267,259.5 272.6,259.7 278.2,260 283.8,260.3 289.4,260.7 295,261.1 300.6,261.5 306.3,262 311.9,262.5 317.5,263 323.1,263.6 328.7,264.2 334.3,264.9 339.9,265.5 345.6,266.3 351.2,267 356.8,267.8 362.4,268.6 368,269.5 368,270.9 362.4,270 356.8,269.2 351.2,268.4 345.6,267.7 339.9,266.9 334.3,266.3 328.7,265.6 323.1,265 317.5,264.4 311.9,263.9 306.3,263.4 300.6,262.9 295,262.5 289.4,262.1 283.8,261.7 278.2,261.4 272.6,261.1 267,260.9 261.4,260.7 255.8,260.5 250.1,260.4 244.5,260.3 238.9,260.2 233.3,260.2" fill="rgba(238,118,118,0.24)"/>
<polygon points="233.3,272.3 238.9,272.3 244.5,272.4 250.1,272.5 255.8,272.6 261.4,272.7 267,272.9 272.6,273.1 278.2,273.3 283.8,273.6 289.4,273.9 295,274.2 300.6,274.6 306.3,275 311.9,275.4 317.5,275.8 323.1,276.3 328.7,276.8 334.3,277.3 339.9,277.9 345.6,278.5 351.2,279.1 356.8,279.8 362.4,280.5 368,281.2 368,282.3 362.4,281.6 356.8,280.9 351.2,280.2 345.6,279.6 339.9,279 334.3,278.4 328.7,277.9 323.1,277.4 317.5,276.9 311.9,276.5 306.3,276.1 300.6,275.7 295,275.3 289.4,275 283.8,274.7 278.2,274.4 272.6,274.2 267,274 261.4,273.8 255.8,273.7 250.1,273.6 244.5,273.5 238.9,273.4 233.3,273.4" fill="rgba(60,60,60,0.10)"/>
<polygon points="233.3,276.3 238.9,276.3 244.5,276.4 250.1,276.5 255.8,276.6 261.4,276.7 267,276.9 272.6,277.1 278.2,277.3 283.8,277.6 289.4,277.9 295,278.2 300.6,278.6 306.3,279 311.9,279.4 317.5,279.8 323.1,280.3 328.7,280.8 334.3,281.3 339.9,281.9 345.6,282.5 351.2,283.1 356.8,283.8 362.4,284.5 368,285.2 368,286.3 362.4,285.6 356.8,284.9 351.2,284.2 345.6,283.6 339.9,283 334.3,282.4 328.7,281.9 323.1,281.4 317.5,280.9 311.9,280.5 306.3,280.1 300.6,279.7 295,279.3 289.4,279 283.8,278.7 278.2,278.4 272.6,278.2 267,278 261.4,277.8 255.8,277.7 250.1,277.6 244.5,277.5 238.9,277.4 233.3,277.4" fill="rgba(60,60,60,0.10)"/>
<polygon points="233.3,274.2 238.9,274.2 244.5,274.2 250.1,274.3 255.8,274.4 261.4,274.6 267,274.7 272.6,274.9 278.2,275.2 283.8,275.4 289.4,275.7 295,276.1 300.6,276.4 306.3,276.8 311.9,277.2 317.5,277.7 323.1,278.2 328.7,278.7 334.3,279.2 339.9,279.8 345.6,280.4 351.2,281 356.8,281.6 362.4,282.3 368,283 368,284.4 362.4,283.7 356.8,283 351.2,282.4 345.6,281.8 339.9,281.2 334.3,280.6 328.7,280.1 323.1,279.6 317.5,279.1 311.9,278.6 306.3,278.2 300.6,277.8 295,277.5 289.4,277.1 283.8,276.8 278.2,276.6 272.6,276.3 267,276.1 261.4,276 255.8,275.8 250.1,275.7 244.5,275.6 238.9,275.6 233.3,275.6" fill="rgba(238,118,118,0.23)"/>
<polygon points="233.3,282.9 238.9,282.9 244.5,282.9 250.1,283 255.8,283.1 261.4,283.2 267,283.3 272.6,283.5 278.2,283.7 283.8,284 289.4,284.2 295,284.5 300.6,284.8 306.3,285.1 311.9,285.5 317.5,285.9 323.1,286.3 328.7,286.8 334.3,287.2 339.9,287.7 345.6,288.3 351.2,288.8 356.8,289.4 362.4,290 368,290.6 368,291.7 362.4,291.1 356.8,290.5 351.2,289.9 345.6,289.4 339.9,288.8 334.3,288.3 328.7,287.9 323.1,287.4 317.5,287 311.9,286.6 306.3,286.2 300.6,285.9 295,285.6 289.4,285.3 283.8,285.1 278.2,284.8 272.6,284.6 267,284.4 261.4,284.3 255.8,284.2 250.1,284.1 244.5,284 238.9,284 233.3,284" fill="rgba(60,60,60,0.09)"/>
<polygon points="233.3,286.9 238.9,286.9 244.5,286.9 250.1,287 255.8,287.1 261.4,287.2 267,287.3 272.6,287.5 278.2,287.7 283.8,288 289.4,288.2 295,288.5 300.6,288.8 306.3,289.1 311.9,289.5 317.5,289.9 323.1,290.3 328.7,290.8 334.3,291.2 339.9,291.7 345.6,292.3 351.2,292.8 356.8,293.4 362.4,294 368,294.6 368,295.7 362.4,295.1 356.8,294.5 351.2,293.9 345.6,293.4 339.9,292.8 334.3,292.3 328.7,291.9 323.1,291.4 317.5,291 311.9,290.6 306.3,290.2 300.6,289.9 295,289.6 289.4,289.3 283.8,289.1 278.2,288.8 272.6,288.6 267,288.4 261.4,288.3 255.8,288.2 250.1,288.1 244.5,288 238.9,288 233.3,288" fill="rgba(60,60,60,0.09)"/>
<polygon points="233.3,284.7 238.9,284.7 244.5,284.8 250.1,284.8 255.8,284.9 261.4,285 267,285.2 272.6,285.4 278.2,285.6 283.8,285.8 289.4,286.1 295,286.3 300.6,286.7 306.3,287 311.9,287.4 317.5,287.8 323.1,288.2 328.7,288.6 334.3,289.1 339.9,289.6 345.6,290.1 351.2,290.6 356.8,291.2 362.4,291.8 368,292.4 368,293.8 362.4,293.2 356.8,292.6 351.2,292 345.6,291.5 339.9,291 334.3,290.5 328.7,290 323.1,289.6 317.5,289.2 311.9,288.8 306.3,288.4 300.6,288.1 295,287.7 289.4,287.5 283.8,287.2 278.2,287 272.6,286.8 267,286.6 261.4,286.4 255.8,286.3 250.1,286.2 244.5,286.2 238.9,286.1 233.3,286.1" fill="rgba(238,118,118,0.21)"/>
<polygon points="233.3,295.8 238.9,295.8 244.5,295.9 250.1,295.9 255.8,296 261.4,296.1 267,296.2 272.6,296.4 278.2,296.5 283.8,296.7 289.4,297 295,297.2 300.6,297.5 306.3,297.7 311.9,298 317.5,298.4 323.1,298.7 328.7,299.1 334.3,299.5 339.9,299.9 345.6,300.3 351.2,300.8 356.8,301.3 362.4,301.8 368,302.3 368,303.4 362.4,302.9 356.8,302.4 351.2,301.9 345.6,301.4 339.9,301 334.3,300.6 328.7,300.2 323.1,299.8 317.5,299.5 311.9,299.1 306.3,298.8 300.6,298.6 295,298.3 289.4,298.1 283.8,297.8 278.2,297.6 272.6,297.5 267,297.3 261.4,297.2 255.8,297.1 250.1,297 244.5,297 238.9,296.9 233.3,296.9" fill="rgba(60,60,60,0.08)"/>
<polygon points="233.3,299.8 238.9,299.8 244.5,299.9 250.1,299.9 255.8,300 261.4,300.1 267,300.2 272.6,300.4 278.2,300.5 283.8,300.7 289.4,301 295,301.2 300.6,301.5 306.3,301.7 311.9,302 317.5,302.4 323.1,302.7 328.7,303.1 334.3,303.5 339.9,303.9 345.6,304.3 351.2,304.8 356.8,305.3 362.4,305.8 368,306.3 368,307.4 362.4,306.9 356.8,306.4 351.2,305.9 345.6,305.4 339.9,305 334.3,304.6 328.7,304.2 323.1,303.8 317.5,303.5 311.9,303.1 306.3,302.8 300.6,302.6 295,302.3 289.4,302.1 283.8,301.8 278.2,301.6 272.6,301.5 267,301.3 261.4,301.2 255.8,301.1 250.1,301 244.5,301 238.9,300.9 233.3,300.9" fill="rgba(60,60,60,0.08)"/>
<polygon points="233.3,297.7 238.9,297.7 244.5,297.7 250.1,297.8 255.8,297.8 261.4,297.9 267,298.1 272.6,298.2 278.2,298.4 283.8,298.6 289.4,298.8 295,299 300.6,299.3 306.3,299.6 311.9,299.9 317.5,300.2 323.1,300.6 328.7,300.9 334.3,301.3 339.9,301.8 345.6,302.2 351.2,302.7 356.8,303.1 362.4,303.6 368,304.2 368,305.6 362.4,305 356.8,304.5 351.2,304.1 345.6,303.6 339.9,303.2 334.3,302.7 328.7,302.3 323.1,302 317.5,301.6 311.9,301.3 306.3,301 300.6,300.7 295,300.4 289.4,300.2 283.8,300 278.2,299.8 272.6,299.6 267,299.5 261.4,299.3 255.8,299.2 250.1,299.2 244.5,299.1 238.9,299.1 233.3,299.1" fill="rgba(238,118,118,0.19)"/>
<polygon points="233.3,255.7 238.9,255.7 244.5,255.8 250.1,255.9 255.8,256 261.4,256.2 267,256.5 272.6,256.7 278.2,257.1 283.8,257.4 289.4,257.8 295,258.3 300.6,258.8 306.3,259.3 311.9,259.9 317.5,260.5 323.1,261.2 328.7,261.9 334.3,262.6 339.9,263.4 345.6,264.2 351.2,265.1 356.8,266 362.4,266.9 368,267.9 368,269 362.4,268 356.8,267.1 351.2,266.2 345.6,265.3 339.9,264.5 334.3,263.7 328.7,263 323.1,262.3 317.5,261.6 311.9,261 306.3,260.4 300.6,259.9 295,259.4 289.4,258.9 283.8,258.5 278.2,258.2 272.6,257.8 267,257.6 261.4,257.3 255.8,257.1 250.1,257 244.5,256.9 238.9,256.8 233.3,256.8" fill="rgba(60,60,60,0.06)"/>
<polygon points="233.3,259.7 238.9,259.7 244.5,259.8 250.1,259.9 255.8,260 261.4,260.2 267,260.5 272.6,260.7 278.2,261.1 283.8,261.4 289.4,261.8 295,262.3 300.6,262.8 306.3,263.3 311.9,263.9 317.5,264.5 323.1,265.2 328.7,265.9 334.3,266.6 339.9,267.4 345.6,268.2 351.2,269.1 356.8,270 362.4,270.9 368,271.9 368,273 362.4,272 356.8,271.1 351.2,270.2 345.6,269.3 339.9,268.5 334.3,267.7 328.7,267 323.1,266.3 317.5,265.6 311.9,265 306.3,264.4 300.6,263.9 295,263.4 289.4,262.9 283.8,262.5 278.2,262.2 272.6,261.8 267,261.6 261.4,261.3 255.8,261.1 250.1,261 244.5,260.9 238.9,260.8 233.3,260.8" fill="rgba(60,60,60,0.06)"/>
<polygon points="233.3,257.5 238.9,257.5 244.5,257.6 250.1,257.7 255.8,257.9 261.4,258.1 267,258.3 272.6,258.6 278.2,258.9 283.8,259.3 289.4,259.7 295,260.1 300.6,260.6 306.3,261.2 311.9,261.7 317.5,262.4 323.1,263 328.7,263.7 334.3,264.5 339.9,265.2 345.6,266.1 351.2,266.9 356.8,267.8 362.4,268.8 368,269.7 368,271.1 362.4,270.2 356.8,269.2 351.2,268.3 345.6,267.5 339.9,266.6 334.3,265.9 328.7,265.1 323.1,264.4 317.5,263.8 311.9,263.1 306.3,262.6 300.6,262 295,261.5 289.4,261.1 283.8,260.7 278.2,260.3 272.6,260 267,259.7 261.4,259.5 255.8,259.3 250.1,259.1 244.5,259 238.9,258.9 233.3,258.9" fill="rgba(238,118,118,0.14)"/>
<polygon points="233.3,268.2 238.9,268.2 244.5,268.3 250.1,268.4 255.8,268.5 261.4,268.7 267,268.9 272.6,269.1 278.2,269.4 283.8,269.7 289.4,270.1 295,270.5 300.6,271 306.3,271.4 311.9,272 317.5,272.5 323.1,273.1 328.7,273.7 334.3,274.4 339.9,275.1 345.6,275.8 351.2,276.6 356.8,277.4 362.4,278.2 368,279.1 368,280.2 362.4,279.3 356.8,278.5 351.2,277.7 345.6,276.9 339.9,276.2 334.3,275.5 328.7,274.8 323.1,274.2 317.5,273.6 311.9,273.1 306.3,272.5 300.6,272.1 295,271.6 289.4,271.2 283.8,270.8 278.2,270.5 272.6,270.2 267,270 261.4,269.8 255.8,269.6 250.1,269.5 244.5,269.4 238.9,269.3 233.3,269.3" fill="rgba(60,60,60,0.11)"/>
<polygon points="233.3,272.2 238.9,272.2 244.5,272.3 250.1,272.4 255.8,272.5 261.4,272.7 267,272.9 272.6,273.1 278.2,273.4 283.8,273.7 289.4,274.1 295,274.5 300.6,275 306.3,275.4 311.9,276 317.5,276.5 323.1,277.1 328.7,277.7 334.3,278.4 339.9,279.1 345.6,279.8 351.2,280.6 356.8,281.4 362.4,282.2 368,283.1 368,284.2 362.4,283.3 356.8,282.5 351.2,281.7 345.6,280.9 339.9,280.2 334.3,279.5 328.7,278.8 323.1,278.2 317.5,277.6 311.9,277.1 306.3,276.5 300.6,276.1 295,275.6 289.4,275.2 283.8,274.8 278.2,274.5 272.6,274.2 267,274 261.4,273.8 255.8,273.6 250.1,273.5 244.5,273.4 238.9,273.3 233.3,273.3" fill="rgba(60,60,60,0.11)"/>
<polygon points="233.3,270 238.9,270 244.5,270.1 250.1,270.2 255.8,270.3 261.4,270.5 267,270.7 272.6,271 278.2,271.3 283.8,271.6 289.4,272 295,272.4 300.6,272.8 306.3,273.3 311.9,273.8 317.5,274.4 323.1,275 328.7,275.6 334.3,276.2 339.9,276.9 345.6,277.7 351.2,278.4 356.8,279.3 362.4,280.1 368,281 368,282.4 362.4,281.5 356.8,280.7 351.2,279.8 345.6,279.1 339.9,278.3 334.3,277.6 328.7,277 323.1,276.4 317.5,275.8 311.9,275.2 306.3,274.7 300.6,274.2 295,273.8 289.4,273.4 283.8,273 278.2,272.7 272.6,272.4 267,272.1 261.4,271.9 255.8,271.7 250.1,271.6 244.5,271.5 238.9,271.4 233.3,271.4" fill="rgba(238,118,118,0.24)"/>
<polygon points="233.3,286.9 238.9,286.9 244.5,287 250.1,287 255.8,287.2 261.4,287.3 267,287.5 272.6,287.7 278.2,287.9 283.8,288.2 289.4,288.5 295,288.8 300.6,289.2 306.3,289.6 311.9,290 317.5,290.5 323.1,291 328.7,291.5 334.3,292.1 339.9,292.6 345.6,293.2 351.2,293.9 356.8,294.6 362.4,295.3 368,296 368,297.1 362.4,296.4 356.8,295.7 351.2,295 345.6,294.3 339.9,293.7 334.3,293.2 328.7,292.6 323.1,292.1 317.5,291.6 311.9,291.1 306.3,290.7 300.6,290.3 295,289.9 289.4,289.6 283.8,289.3 278.2,289 272.6,288.8 267,288.6 261.4,288.4 255.8,288.3 250.1,288.1 244.5,288.1 238.9,288 233.3,288" fill="rgba(60,60,60,0.10)"/>
<polygon points="233.3,290.9 238.9,290.9 244.5,291 250.1,291 255.8,291.2 261.4,291.3 267,291.5 272.6,291.7 278.2,291.9 283.8,292.2 289.4,292.5 295,292.8 300.6,293.2 306.3,293.6 311.9,294 317.5,294.5 323.1,295 328.7,295.5 334.3,296.1 339.9,296.6 345.6,297.2 351.2,297.9 356.8,298.6 362.4,299.3 368,300 368,301.1 362.4,300.4 356.8,299.7 351.2,299 345.6,298.3 339.9,297.7 334.3,297.2 328.7,296.6 323.1,296.1 317.5,295.6 311.9,295.1 306.3,294.7 300.6,294.3 295,293.9 289.4,293.6 283.8,293.3 278.2,293 272.6,292.8 267,292.6 261.4,292.4 255.8,292.3 250.1,292.1 244.5,292.1 238.9,292 233.3,292" fill="rgba(60,60,60,0.10)"/>
<polygon points="233.3,288.8 238.9,288.8 244.5,288.8 250.1,288.9 255.8,289 261.4,289.2 267,289.3 272.6,289.5 278.2,289.8 283.8,290 289.4,290.4 295,290.7 300.6,291.1 306.3,291.5 311.9,291.9 317.5,292.3 323.1,292.8 328.7,293.4 334.3,293.9 339.9,294.5 345.6,295.1 351.2,295.7 356.8,296.4 362.4,297.1 368,297.8 368,299.2 362.4,298.5 356.8,297.8 351.2,297.1 345.6,296.5 339.9,295.9 334.3,295.3 328.7,294.8 323.1,294.2 317.5,293.7 311.9,293.3 306.3,292.9 300.6,292.5 295,292.1 289.4,291.8 283.8,291.4 278.2,291.2 272.6,290.9 267,290.7 261.4,290.6 255.8,290.4 250.1,290.3 244.5,290.2 238.9,290.2 233.3,290.1" fill="rgba(238,118,118,0.22)"/>
<polygon points="233.3,302.3 238.9,302.3 244.5,302.3 250.1,302.4 255.8,302.5 261.4,302.6 267,302.8 272.6,303 278.2,303.2 283.8,303.4 289.4,303.6 295,303.9 300.6,304.2 306.3,304.6 311.9,304.9 317.5,305.3 323.1,305.8 328.7,306.2 334.3,306.7 339.9,307.2 345.6,307.7 351.2,308.2 356.8,308.8 362.4,309.4 368,310 368,311.1 362.4,310.5 356.8,309.9 351.2,309.3 345.6,308.8 339.9,308.3 334.3,307.8 328.7,307.3 323.1,306.9 317.5,306.4 311.9,306 306.3,305.7 300.6,305.3 295,305 289.4,304.7 283.8,304.5 278.2,304.3 272.6,304.1 267,303.9 261.4,303.7 255.8,303.6 250.1,303.5 244.5,303.4 238.9,303.4 233.3,303.4" fill="rgba(60,60,60,0.09)"/>
<polygon points="233.3,306.3 238.9,306.3 244.5,306.3 250.1,306.4 255.8,306.5 261.4,306.6 267,306.8 272.6,307 278.2,307.2 283.8,307.4 289.4,307.6 295,307.9 300.6,308.2 306.3,308.6 311.9,308.9 317.5,309.3 323.1,309.8 328.7,310.2 334.3,310.7 339.9,311.2 345.6,311.7 351.2,312.2 356.8,312.8 362.4,313.4 368,314 368,315.1 362.4,314.5 356.8,313.9 351.2,313.3 345.6,312.8 339.9,312.3 334.3,311.8 328.7,311.3 323.1,310.9 317.5,310.4 311.9,310 306.3,309.7 300.6,309.3 295,309 289.4,308.7 283.8,308.5 278.2,308.3 272.6,308.1 267,307.9 261.4,307.7 255.8,307.6 250.1,307.5 244.5,307.4 238.9,307.4 233.3,307.4" fill="rgba(60,60,60,0.09)"/>
<polygon points="233.3,304.1 238.9,304.2 244.5,304.2 250.1,304.3 255.8,304.4 261.4,304.5 267,304.6 272.6,304.8 278.2,305 283.8,305.2 289.4,305.5 295,305.8 300.6,306.1 306.3,306.4 311.9,306.8 317.5,307.2 323.1,307.6 328.7,308 334.3,308.5 339.9,309 345.6,309.5 351.2,310.1 356.8,310.6 362.4,311.2 368,311.9 368,313.3 362.4,312.6 356.8,312 351.2,311.5 345.6,310.9 339.9,310.4 334.3,309.9 328.7,309.4 323.1,309 317.5,308.6 311.9,308.2 306.3,307.8 300.6,307.5 295,307.2 289.4,306.9 283.8,306.6 278.2,306.4 272.6,306.2 267,306 261.4,305.9 255.8,305.8 250.1,305.7 244.5,305.6 238.9,305.6 233.3,305.5" fill="rgba(238,118,118,0.19)"/>
<polygon points="233.3,312.8 238.9,312.8 244.5,312.9 250.1,312.9 255.8,313 261.4,313.1 267,313.3 272.6,313.4 278.2,313.6 283.8,313.8 289.4,314 295,314.3 300.6,314.6 306.3,314.8 311.9,315.2 317.5,315.5 323.1,315.9 328.7,316.3 334.3,316.7 339.9,317.1 345.6,317.6 351.2,318.1 356.8,318.6 362.4,319.1 368,319.7 368,320.8 362.4,320.2 356.8,319.7 351.2,319.2 345.6,318.7 339.9,318.2 334.3,317.8 328.7,317.4 323.1,317 317.5,316.6 311.9,316.3 306.3,315.9 300.6,315.7 295,315.4 289.4,315.1 283.8,314.9 278.2,314.7 272.6,314.5 267,314.4 261.4,314.2 255.8,314.1 250.1,314 244.5,314 238.9,313.9 233.3,313.9" fill="rgba(60,60,60,0.08)"/>
<polygon points="233.3,316.8 238.9,316.8 244.5,316.9 250.1,316.9 255.8,317 261.4,317.1 267,317.3 272.6,317.4 278.2,317.6 283.8,317.8 289.4,318 295,318.3 300.6,318.6 306.3,318.8 311.9,319.2 317.5,319.5 323.1,319.9 328.7,320.3 334.3,320.7 339.9,321.1 345.6,321.6 351.2,322.1 356.8,322.6 362.4,323.1 368,323.7 368,324.8 362.4,324.2 356.8,323.7 351.2,323.2 345.6,322.7 339.9,322.2 334.3,321.8 328.7,321.4 323.1,321 317.5,320.6 311.9,320.3 306.3,319.9 300.6,319.7 295,319.4 289.4,319.1 283.8,318.9 278.2,318.7 272.6,318.5 267,318.4 261.4,318.2 255.8,318.1 250.1,318 244.5,318 238.9,317.9 233.3,317.9" fill="rgba(60,60,60,0.08)"/>
<polygon points="233.3,314.7 238.9,314.7 244.5,314.7 250.1,314.8 255.8,314.9 261.4,315 267,315.1 272.6,315.3 278.2,315.4 283.8,315.6 289.4,315.9 295,316.1 300.6,316.4 306.3,316.7 311.9,317 317.5,317.4 323.1,317.7 328.7,318.1 334.3,318.5 339.9,319 345.6,319.5 351.2,319.9 356.8,320.4 362.4,321 368,321.5 368,322.9 362.4,322.4 356.8,321.8 351.2,321.3 345.6,320.9 339.9,320.4 334.3,319.9 328.7,319.5 323.1,319.1 317.5,318.8 311.9,318.4 306.3,318.1 300.6,317.8 295,317.5 289.4,317.3 283.8,317 278.2,316.8 272.6,316.7 267,316.5 261.4,316.4 255.8,316.3 250.1,316.2 244.5,316.1 238.9,316.1 233.3,316.1" fill="rgba(238,118,118,0.18)"/>
<polygon points="233.3,280.7 238.9,280.7 244.5,280.8 250.1,280.8 255.8,281 261.4,281.1 267,281.3 272.6,281.5 278.2,281.8 283.8,282.1 289.4,282.4 295,282.8 300.6,283.2 306.3,283.6 311.9,284.1 317.5,284.6 323.1,285.1 328.7,285.7 334.3,286.3 339.9,286.9 345.6,287.6 351.2,288.3 356.8,289 362.4,289.8 368,290.6 368,291.7 362.4,290.9 356.8,290.1 351.2,289.4 345.6,288.7 339.9,288 334.3,287.4 328.7,286.8 323.1,286.2 317.5,285.7 311.9,285.2 306.3,284.7 300.6,284.3 295,283.9 289.4,283.5 283.8,283.2 278.2,282.9 272.6,282.6 267,282.4 261.4,282.2 255.8,282.1 250.1,281.9 244.5,281.9 238.9,281.8 233.3,281.8" fill="rgba(60,60,60,0.05)"/>
<polygon points="233.3,284.7 238.9,284.7 244.5,284.8 250.1,284.8 255.8,285 261.4,285.1 267,285.3 272.6,285.5 278.2,285.8 283.8,286.1 289.4,286.4 295,286.8 300.6,287.2 306.3,287.6 311.9,288.1 317.5,288.6 323.1,289.1 328.7,289.7 334.3,290.3 339.9,290.9 345.6,291.6 351.2,292.3 356.8,293 362.4,293.8 368,294.6 368,295.7 362.4,294.9 356.8,294.1 351.2,293.4 345.6,292.7 339.9,292 334.3,291.4 328.7,290.8 323.1,290.2 317.5,289.7 311.9,289.2 306.3,288.7 300.6,288.3 295,287.9 289.4,287.5 283.8,287.2 278.2,286.9 272.6,286.6 267,286.4 261.4,286.2 255.8,286.1 250.1,285.9 244.5,285.9 238.9,285.8 233.3,285.8" fill="rgba(60,60,60,0.05)"/>
<polygon points="233.3,282.5 238.9,282.6 244.5,282.6 250.1,282.7 255.8,282.8 261.4,283 267,283.2 272.6,283.4 278.2,283.7 283.8,284 289.4,284.3 295,284.7 300.6,285.1 306.3,285.5 311.9,286 317.5,286.5 323.1,287 328.7,287.6 334.3,288.2 339.9,288.8 345.6,289.5 351.2,290.2 356.8,290.9 362.4,291.7 368,292.4 368,293.8 362.4,293.1 356.8,292.3 351.2,291.6 345.6,290.9 339.9,290.2 334.3,289.6 328.7,289 323.1,288.4 317.5,287.9 311.9,287.4 306.3,286.9 300.6,286.5 295,286.1 289.4,285.7 283.8,285.4 278.2,285.1 272.6,284.8 267,284.6 261.4,284.4 255.8,284.2 250.1,284.1 244.5,284 238.9,284 233.3,283.9" fill="rgba(238,118,118,0.11)"/>
<polygon points="233.3,299.4 238.9,299.4 244.5,299.5 250.1,299.5 255.8,299.6 261.4,299.8 267,299.9 272.6,300.1 278.2,300.4 283.8,300.6 289.4,300.9 295,301.2 300.6,301.5 306.3,301.9 311.9,302.3 317.5,302.7 323.1,303.2 328.7,303.6 334.3,304.1 339.9,304.7 345.6,305.2 351.2,305.8 356.8,306.5 362.4,307.1 368,307.8 368,308.9 362.4,308.2 356.8,307.6 351.2,306.9 345.6,306.3 339.9,305.8 334.3,305.2 328.7,304.7 323.1,304.3 317.5,303.8 311.9,303.4 306.3,303 300.6,302.6 295,302.3 289.4,302 283.8,301.7 278.2,301.5 272.6,301.2 267,301 261.4,300.9 255.8,300.7 250.1,300.6 244.5,300.6 238.9,300.5 233.3,300.5" fill="rgba(60,60,60,0.08)"/>
<polygon points="233.3,303.4 238.9,303.4 244.5,303.5 250.1,303.5 255.8,303.6 261.4,303.8 267,303.9 272.6,304.1 278.2,304.4 283.8,304.6 289.4,304.9 295,305.2 300.6,305.5 306.3,305.9 311.9,306.3 317.5,306.7 323.1,307.2 328.7,307.6 334.3,308.1 339.9,308.7 345.6,309.2 351.2,309.8 356.8,310.5 362.4,311.1 368,311.8 368,312.9 362.4,312.2 356.8,311.6 351.2,310.9 345.6,310.3 339.9,309.8 334.3,309.2 328.7,308.7 323.1,308.3 317.5,307.8 311.9,307.4 306.3,307 300.6,306.6 295,306.3 289.4,306 283.8,305.7 278.2,305.5 272.6,305.2 267,305 261.4,304.9 255.8,304.7 250.1,304.6 244.5,304.6 238.9,304.5 233.3,304.5" fill="rgba(60,60,60,0.08)"/>
<polygon points="233.3,301.3 238.9,301.3 244.5,301.3 250.1,301.4 255.8,301.5 261.4,301.6 267,301.8 272.6,302 278.2,302.2 283.8,302.5 289.4,302.7 295,303 300.6,303.4 306.3,303.7 311.9,304.1 317.5,304.6 323.1,305 328.7,305.5 334.3,306 339.9,306.5 345.6,307.1 351.2,307.7 356.8,308.3 362.4,309 368,309.6 368,311 362.4,310.4 356.8,309.7 351.2,309.1 345.6,308.5 339.9,307.9 334.3,307.4 328.7,306.9 323.1,306.4 317.5,306 311.9,305.5 306.3,305.1 300.6,304.8 295,304.4 289.4,304.1 283.8,303.9 278.2,303.6 272.6,303.4 267,303.2 261.4,303 255.8,302.9 250.1,302.8 244.5,302.7 238.9,302.7 233.3,302.7" fill="rgba(238,118,118,0.19)"/>
<polygon points="233.3,314.8 238.9,314.8 244.5,314.9 250.1,314.9 255.8,315 261.4,315.1 267,315.3 272.6,315.4 278.2,315.6 283.8,315.8 289.4,316.1 295,316.3 300.6,316.6 306.3,316.9 311.9,317.3 317.5,317.6 323.1,318 328.7,318.4 334.3,318.9 339.9,319.3 345.6,319.8 351.2,320.3 356.8,320.9 362.4,321.4 368,322 368,323.1 362.4,322.5 356.8,322 351.2,321.4 345.6,320.9 339.9,320.4 334.3,320 328.7,319.5 323.1,319.1 317.5,318.7 311.9,318.4 306.3,318 300.6,317.7 295,317.4 289.4,317.2 283.8,316.9 278.2,316.7 272.6,316.5 267,316.4 261.4,316.2 255.8,316.1 250.1,316 244.5,316 238.9,315.9 233.3,315.9" fill="rgba(60,60,60,0.07)"/>
<polygon points="233.3,318.8 238.9,318.8 244.5,318.9 250.1,318.9 255.8,319 261.4,319.1 267,319.3 272.6,319.4 278.2,319.6 283.8,319.8 289.4,320.1 295,320.3 300.6,320.6 306.3,320.9 311.9,321.3 317.5,321.6 323.1,322 328.7,322.4 334.3,322.9 339.9,323.3 345.6,323.8 351.2,324.3 356.8,324.9 362.4,325.4 368,326 368,327.1 362.4,326.5 356.8,326 351.2,325.4 345.6,324.9 339.9,324.4 334.3,324 328.7,323.5 323.1,323.1 317.5,322.7 311.9,322.4 306.3,322 300.6,321.7 295,321.4 289.4,321.2 283.8,320.9 278.2,320.7 272.6,320.5 267,320.4 261.4,320.2 255.8,320.1 250.1,320 244.5,320 238.9,319.9 233.3,319.9" fill="rgba(60,60,60,0.07)"/>
<polygon points="233.3,316.7 238.9,316.7 244.5,316.7 250.1,316.8 255.8,316.9 261.4,317 267,317.1 272.6,317.3 278.2,317.5 283.8,317.7 289.4,317.9 295,318.2 300.6,318.5 306.3,318.8 311.9,319.1 317.5,319.5 323.1,319.9 328.7,320.3 334.3,320.7 339.9,321.2 345.6,321.7 351.2,322.2 356.8,322.7 362.4,323.3 368,323.8 368,325.2 362.4,324.7 356.8,324.1 351.2,323.6 345.6,323.1 339.9,322.6 334.3,322.1 328.7,321.7 323.1,321.3 317.5,320.9 311.9,320.5 306.3,320.2 300.6,319.9 295,319.6 289.4,319.3 283.8,319.1 278.2,318.9 272.6,318.7 267,318.5 261.4,318.4 255.8,318.3 250.1,318.2 244.5,318.1 238.9,318.1 233.3,318.1" fill="rgba(238,118,118,0.17)"/>
<polygon points="233.3,232.3 238.9,232.3 244.5,232.4 250.1,232.6 255.8,232.8 261.4,233.1 267,233.5 272.6,233.9 278.2,234.4 283.8,235 289.4,235.6 295,236.3 300.6,237 306.3,237.8 311.9,238.7 317.5,239.6 323.1,240.6 328.7,241.7 334.3,242.8 339.9,244 345.6,245.2 351.2,246.5 356.8,247.8 362.4,249.2 368,250.6 368,251.7 362.4,250.3 356.8,248.9 351.2,247.6 345.6,246.3 339.9,245.1 334.3,243.9 328.7,242.8 323.1,241.7 317.5,240.7 311.9,239.8 306.3,238.9 300.6,238.1 295,237.4 289.4,236.7 283.8,236.1 278.2,235.5 272.6,235 267,234.6 261.4,234.2 255.8,233.9 250.1,233.7 244.5,233.5 238.9,233.4 233.3,233.4" fill="rgba(238,118,118,0.06)"/>
<polygon points="233.3,236.3 238.9,236.3 244.5,236.4 250.1,236.6 255.8,236.8 261.4,237.1 267,237.5 272.6,237.9 278.2,238.4 283.8,239 289.4,239.6 295,240.3 300.6,241 306.3,241.8 311.9,242.7 317.5,243.6 323.1,244.6 328.7,245.7 334.3,246.8 339.9,248 345.6,249.2 351.2,250.5 356.8,251.8 362.4,253.2 368,254.6 368,255.7 362.4,254.3 356.8,252.9 351.2,251.6 345.6,250.3 339.9,249.1 334.3,247.9 328.7,246.8 323.1,245.7 317.5,244.7 311.9,243.8 306.3,242.9 300.6,242.1 295,241.4 289.4,240.7 283.8,240.1 278.2,239.5 272.6,239 267,238.6 261.4,238.2 255.8,237.9 250.1,237.7 244.5,237.5 238.9,237.4 233.3,237.4" fill="rgba(238,118,118,0.06)"/>
<polygon points="233.3,234.1 238.9,234.2 244.5,234.3 250.1,234.4 255.8,234.7 261.4,235 267,235.3 272.6,235.7 278.2,236.2 283.8,236.8 289.4,237.4 295,238.1 300.6,238.9 306.3,239.7 311.9,240.5 317.5,241.5 323.1,242.5 328.7,243.5 334.3,244.6 339.9,245.8 345.6,247 351.2,248.3 356.8,249.6 362.4,251 368,252.5 368,253.9 362.4,252.4 356.8,251 351.2,249.7 345.6,248.4 339.9,247.2 334.3,246 328.7,244.9 323.1,243.9 317.5,242.9 311.9,241.9 306.3,241.1 300.6,240.3 295,239.5 289.4,238.8 283.8,238.2 278.2,237.6 272.6,237.1 267,236.7 261.4,236.4 255.8,236.1 250.1,235.8 244.5,235.7 238.9,235.6 233.3,235.5" fill="rgba(60,60,60,0.34)"/>
<polygon points="233.3,262.2 238.9,262.3 244.5,262.3 250.1,262.5 255.8,262.6 261.4,262.9 267,263.1 272.6,263.5 278.2,263.8 283.8,264.3 289.4,264.7 295,265.3 300.6,265.8 306.3,266.5 311.9,267.1 317.5,267.8 323.1,268.6 328.7,269.4 334.3,270.3 339.9,271.2 345.6,272.1 351.2,273.1 356.8,274.1 362.4,275.2 368,276.3 368,277.4 362.4,276.3 356.8,275.2 351.2,274.2 345.6,273.2 339.9,272.3 334.3,271.4 328.7,270.5 323.1,269.7 317.5,268.9 311.9,268.2 306.3,267.6 300.6,266.9 295,266.4 289.4,265.8 283.8,265.4 278.2,264.9 272.6,264.6 267,264.2 261.4,264 255.8,263.7 250.1,263.6 244.5,263.4 238.9,263.4 233.3,263.3" fill="rgba(238,118,118,0.06)"/>
<polygon points="233.3,266.2 238.9,266.3 244.5,266.3 250.1,266.5 255.8,266.6 261.4,266.9 267,267.1 272.6,267.5 278.2,267.8 283.8,268.3 289.4,268.7 295,269.3 300.6,269.8 306.3,270.5 311.9,271.1 317.5,271.8 323.1,272.6 328.7,273.4 334.3,274.3 339.9,275.2 345.6,276.1 351.2,277.1 356.8,278.1 362.4,279.2 368,280.3 368,281.4 362.4,280.3 356.8,279.2 351.2,278.2 345.6,277.2 339.9,276.3 334.3,275.4 328.7,274.5 323.1,273.7 317.5,272.9 311.9,272.2 306.3,271.6 300.6,270.9 295,270.4 289.4,269.8 283.8,269.4 278.2,268.9 272.6,268.6 267,268.2 261.4,268 255.8,267.7 250.1,267.6 244.5,267.4 238.9,267.4 233.3,267.3" fill="rgba(238,118,118,0.06)"/>
<polygon points="233.3,264.1 238.9,264.1 244.5,264.2 250.1,264.3 255.8,264.5 261.4,264.7 267,265 272.6,265.3 278.2,265.7 283.8,266.1 289.4,266.6 295,267.1 300.6,267.7 306.3,268.3 311.9,269 317.5,269.7 323.1,270.4 328.7,271.3 334.3,272.1 339.9,273 345.6,273.9 351.2,274.9 356.8,276 362.4,277 368,278.2 368,279.6 362.4,278.4 356.8,277.4 351.2,276.3 345.6,275.3 339.9,274.4 334.3,273.5 328.7,272.7 323.1,271.8 317.5,271.1 311.9,270.4 306.3,269.7 300.6,269.1 295,268.5 289.4,268 283.8,267.5 278.2,267.1 272.6,266.7 267,266.4 261.4,266.1 255.8,265.9 250.1,265.7 244.5,265.6 238.9,265.5 233.3,265.5" fill="rgba(60,60,60,0.32)"/>
<polygon points="233.3,274.8 238.9,274.8 244.5,274.8 250.1,274.9 255.8,275.1 261.4,275.3 267,275.5 272.6,275.8 278.2,276.2 283.8,276.5 289.4,277 295,277.4 300.6,277.9 306.3,278.5 311.9,279 317.5,279.7 323.1,280.3 328.7,281.1 334.3,281.8 339.9,282.6 345.6,283.4 351.2,284.3 356.8,285.2 362.4,286.2 368,287.2 368,288.3 362.4,287.3 356.8,286.3 351.2,285.4 345.6,284.5 339.9,283.7 334.3,282.9 328.7,282.2 323.1,281.4 317.5,280.8 311.9,280.1 306.3,279.6 300.6,279 295,278.5 289.4,278.1 283.8,277.6 278.2,277.3 272.6,276.9 267,276.6 261.4,276.4 255.8,276.2 250.1,276 244.5,275.9 238.9,275.9 233.3,275.9" fill="rgba(238,118,118,0.05)"/>
<polygon points="233.3,278.8 238.9,278.8 244.5,278.8 250.1,278.9 255.8,279.1 261.4,279.3 267,279.5 272.6,279.8 278.2,280.2 283.8,280.5 289.4,281 295,281.4 300.6,281.9 306.3,282.5 311.9,283 317.5,283.7 323.1,284.3 328.7,285.1 334.3,285.8 339.9,286.6 345.6,287.4 351.2,288.3 356.8,289.2 362.4,290.2 368,291.2 368,292.3 362.4,291.3 356.8,290.3 351.2,289.4 345.6,288.5 339.9,287.7 334.3,286.9 328.7,286.2 323.1,285.4 317.5,284.8 311.9,284.1 306.3,283.6 300.6,283 295,282.5 289.4,282.1 283.8,281.6 278.2,281.3 272.6,280.9 267,280.6 261.4,280.4 255.8,280.2 250.1,280 244.5,279.9 238.9,279.9 233.3,279.9" fill="rgba(238,118,118,0.05)"/>
<polygon points="233.3,276.6 238.9,276.6 244.5,276.7 250.1,276.8 255.8,277 261.4,277.2 267,277.4 272.6,277.7 278.2,278 283.8,278.4 289.4,278.8 295,279.3 300.6,279.8 306.3,280.3 311.9,280.9 317.5,281.5 323.1,282.2 328.7,282.9 334.3,283.7 339.9,284.4 345.6,285.3 351.2,286.2 356.8,287.1 362.4,288 368,289 368,290.4 362.4,289.4 356.8,288.5 351.2,287.6 345.6,286.7 339.9,285.8 334.3,285.1 328.7,284.3 323.1,283.6 317.5,282.9 311.9,282.3 306.3,281.7 300.6,281.2 295,280.7 289.4,280.2 283.8,279.8 278.2,279.4 272.6,279.1 267,278.8 261.4,278.6 255.8,278.4 250.1,278.2 244.5,278.1 238.9,278 233.3,278" fill="rgba(60,60,60,0.28)"/>
<polygon points="233.3,293.5 238.9,293.5 244.5,293.5 250.1,293.6 255.8,293.8 261.4,293.9 267,294.1 272.6,294.3 278.2,294.6 283.8,294.9 289.4,295.2 295,295.6 300.6,296 306.3,296.5 311.9,296.9 317.5,297.5 323.1,298 328.7,298.6 334.3,299.2 339.9,299.8 345.6,300.5 351.2,301.2 356.8,302 362.4,302.7 368,303.6 368,304.7 362.4,303.8 356.8,303.1 351.2,302.3 345.6,301.6 339.9,300.9 334.3,300.3 328.7,299.7 323.1,299.1 317.5,298.6 311.9,298 306.3,297.6 300.6,297.1 295,296.7 289.4,296.3 283.8,296 278.2,295.7 272.6,295.4 267,295.2 261.4,295 255.8,294.9 250.1,294.7 244.5,294.6 238.9,294.6 233.3,294.6" fill="rgba(238,118,118,0.05)"/>
<polygon points="233.3,297.5 238.9,297.5 244.5,297.5 250.1,297.6 255.8,297.8 261.4,297.9 267,298.1 272.6,298.3 278.2,298.6 283.8,298.9 289.4,299.2 295,299.6 300.6,300 306.3,300.5 311.9,300.9 317.5,301.5 323.1,302 328.7,302.6 334.3,303.2 339.9,303.8 345.6,304.5 351.2,305.2 356.8,306 362.4,306.7 368,307.6 368,308.7 362.4,307.8 356.8,307.1 351.2,306.3 345.6,305.6 339.9,304.9 334.3,304.3 328.7,303.7 323.1,303.1 317.5,302.6 311.9,302 306.3,301.6 300.6,301.1 295,300.7 289.4,300.3 283.8,300 278.2,299.7 272.6,299.4 267,299.2 261.4,299 255.8,298.9 250.1,298.7 244.5,298.6 238.9,298.6 233.3,298.6" fill="rgba(238,118,118,0.05)"/>
<polygon points="233.3,295.3 238.9,295.3 244.5,295.4 250.1,295.5 255.8,295.6 261.4,295.8 267,296 272.6,296.2 278.2,296.5 283.8,296.8 289.4,297.1 295,297.5 300.6,297.9 306.3,298.3 311.9,298.8 317.5,299.3 323.1,299.8 328.7,300.4 334.3,301 339.9,301.7 345.6,302.4 351.2,303.1 356.8,303.8 362.4,304.6 368,305.4 368,306.8 362.4,306 356.8,305.2 351.2,304.5 345.6,303.8 339.9,303.1 334.3,302.4 328.7,301.8 323.1,301.2 317.5,300.7 311.9,300.2 306.3,299.7 300.6,299.3 295,298.9 289.4,298.5 283.8,298.2 278.2,297.9 272.6,297.6 267,297.4 261.4,297.2 255.8,297 250.1,296.9 244.5,296.8 238.9,296.7 233.3,296.7" fill="rgba(60,60,60,0.25)"/>
<polygon points="233.3,308.9 238.9,308.9 244.5,308.9 250.1,309 255.8,309.1 261.4,309.2 267,309.4 272.6,309.6 278.2,309.8 283.8,310.1 289.4,310.3 295,310.7 300.6,311 306.3,311.4 311.9,311.8 317.5,312.2 323.1,312.6 328.7,313.1 334.3,313.6 339.9,314.2 345.6,314.7 351.2,315.3 356.8,316 362.4,316.6 368,317.3 368,318.4 362.4,317.7 356.8,317.1 351.2,316.4 345.6,315.8 339.9,315.3 334.3,314.7 328.7,314.2 323.1,313.7 317.5,313.3 311.9,312.9 306.3,312.5 300.6,312.1 295,311.8 289.4,311.4 283.8,311.2 278.2,310.9 272.6,310.7 267,310.5 261.4,310.3 255.8,310.2 250.1,310.1 244.5,310 238.9,310 233.3,310" fill="rgba(238,118,118,0.04)"/>
<polygon points="233.3,312.9 238.9,312.9 244.5,312.9 250.1,313 255.8,313.1 261.4,313.2 267,313.4 272.6,313.6 278.2,313.8 283.8,314.1 289.4,314.3 295,314.7 300.6,315 306.3,315.4 311.9,315.8 317.5,316.2 323.1,316.6 328.7,317.1 334.3,317.6 339.9,318.2 345.6,318.7 351.2,319.3 356.8,320 362.4,320.6 368,321.3 368,322.4 362.4,321.7 356.8,321.1 351.2,320.4 345.6,319.8 339.9,319.3 334.3,318.7 328.7,318.2 323.1,317.7 317.5,317.3 311.9,316.9 306.3,316.5 300.6,316.1 295,315.8 289.4,315.4 283.8,315.2 278.2,314.9 272.6,314.7 267,314.5 261.4,314.3 255.8,314.2 250.1,314.1 244.5,314 238.9,314 233.3,314" fill="rgba(238,118,118,0.04)"/>
<polygon points="233.3,310.7 238.9,310.7 244.5,310.8 250.1,310.8 255.8,310.9 261.4,311.1 267,311.2 272.6,311.4 278.2,311.7 283.8,311.9 289.4,312.2 295,312.5 300.6,312.8 306.3,313.2 311.9,313.6 317.5,314 323.1,314.5 328.7,315 334.3,315.5 339.9,316 345.6,316.6 351.2,317.2 356.8,317.8 362.4,318.5 368,319.1 368,320.5 362.4,319.9 356.8,319.2 351.2,318.6 345.6,318 339.9,317.4 334.3,316.9 328.7,316.4 323.1,315.9 317.5,315.4 311.9,315 306.3,314.6 300.6,314.2 295,313.9 289.4,313.6 283.8,313.3 278.2,313.1 272.6,312.8 267,312.6 261.4,312.5 255.8,312.3 250.1,312.2 244.5,312.2 238.9,312.1 233.3,312.1" fill="rgba(60,60,60,0.22)"/>
<polygon points="233.3,253.9 238.9,253.9 244.5,254 250.1,254.1 255.8,254.3 261.4,254.6 267,254.9 272.6,255.3 278.2,255.7 283.8,256.2 289.4,256.7 295,257.3 300.6,258 306.3,258.7 311.9,259.4 317.5,260.2 323.1,261.1 328.7,262 334.3,263 339.9,264 345.6,265.1 351.2,266.2 356.8,267.3 362.4,268.5 368,269.8 368,270.9 362.4,269.6 356.8,268.4 351.2,267.3 345.6,266.2 339.9,265.1 334.3,264.1 328.7,263.1 323.1,262.2 317.5,261.3 311.9,260.5 306.3,259.8 300.6,259.1 295,258.4 289.4,257.8 283.8,257.3 278.2,256.8 272.6,256.4 267,256 261.4,255.7 255.8,255.4 250.1,255.2 244.5,255.1 238.9,255 233.3,255" fill="rgba(238,118,118,0.06)"/>
<polygon points="233.3,257.9 238.9,257.9 244.5,258 250.1,258.1 255.8,258.3 261.4,258.6 267,258.9 272.6,259.3 278.2,259.7 283.8,260.2 289.4,260.7 295,261.3 300.6,262 306.3,262.7 311.9,263.4 317.5,264.2 323.1,265.1 328.7,266 334.3,267 339.9,268 345.6,269.1 351.2,270.2 356.8,271.3 362.4,272.5 368,273.8 368,274.9 362.4,273.6 356.8,272.4 351.2,271.3 345.6,270.2 339.9,269.1 334.3,268.1 328.7,267.1 323.1,266.2 317.5,265.3 311.9,264.5 306.3,263.8 300.6,263.1 295,262.4 289.4,261.8 283.8,261.3 278.2,260.8 272.6,260.4 267,260 261.4,259.7 255.8,259.4 250.1,259.2 244.5,259.1 238.9,259 233.3,259" fill="rgba(238,118,118,0.06)"/>
<polygon points="233.3,255.7 238.9,255.7 244.5,255.8 250.1,256 255.8,256.2 261.4,256.4 267,256.8 272.6,257.1 278.2,257.5 283.8,258 289.4,258.6 295,259.2 300.6,259.8 306.3,260.5 311.9,261.3 317.5,262.1 323.1,262.9 328.7,263.9 334.3,264.8 339.9,265.8 345.6,266.9 351.2,268 356.8,269.2 362.4,270.4 368,271.7 368,273.1 362.4,271.8 356.8,270.6 351.2,269.4 345.6,268.3 339.9,267.2 334.3,266.2 328.7,265.3 323.1,264.3 317.5,263.5 311.9,262.7 306.3,261.9 300.6,261.2 295,260.6 289.4,260 283.8,259.4 278.2,258.9 272.6,258.5 267,258.2 261.4,257.8 255.8,257.6 250.1,257.4 244.5,257.2 238.9,257.1 233.3,257.1" fill="rgba(60,60,60,0.31)"/>
<polygon points="233.3,283.8 238.9,283.9 244.5,283.9 250.1,284 255.8,284.2 261.4,284.4 267,284.6 272.6,284.9 278.2,285.3 283.8,285.7 289.4,286.1 295,286.5 300.6,287 306.3,287.6 311.9,288.2 317.5,288.8 323.1,289.5 328.7,290.2 334.3,291 339.9,291.8 345.6,292.7 351.2,293.5 356.8,294.5 362.4,295.4 368,296.4 368,297.5 362.4,296.5 356.8,295.6 351.2,294.6 345.6,293.8 339.9,292.9 334.3,292.1 328.7,291.3 323.1,290.6 317.5,289.9 311.9,289.3 306.3,288.7 300.6,288.1 295,287.6 289.4,287.2 283.8,286.8 278.2,286.4 272.6,286 267,285.7 261.4,285.5 255.8,285.3 250.1,285.1 244.5,285 238.9,285 233.3,284.9" fill="rgba(238,118,118,0.06)"/>
<polygon points="233.3,287.8 238.9,287.9 244.5,287.9 250.1,288 255.8,288.2 261.4,288.4 267,288.6 272.6,288.9 278.2,289.3 283.8,289.7 289.4,290.1 295,290.5 300.6,291 306.3,291.6 311.9,292.2 317.5,292.8 323.1,293.5 328.7,294.2 334.3,295 339.9,295.8 345.6,296.7 351.2,297.5 356.8,298.5 362.4,299.4 368,300.4 368,301.5 362.4,300.5 356.8,299.6 351.2,298.6 345.6,297.8 339.9,296.9 334.3,296.1 328.7,295.3 323.1,294.6 317.5,293.9 311.9,293.3 306.3,292.7 300.6,292.1 295,291.6 289.4,291.2 283.8,290.8 278.2,290.4 272.6,290 267,289.7 261.4,289.5 255.8,289.3 250.1,289.1 244.5,289 238.9,289 233.3,288.9" fill="rgba(238,118,118,0.06)"/>
<polygon points="233.3,285.7 238.9,285.7 244.5,285.8 250.1,285.9 255.8,286 261.4,286.3 267,286.5 272.6,286.8 278.2,287.1 283.8,287.5 289.4,287.9 295,288.4 300.6,288.9 306.3,289.5 311.9,290 317.5,290.7 323.1,291.4 328.7,292.1 334.3,292.9 339.9,293.7 345.6,294.5 351.2,295.4 356.8,296.3 362.4,297.3 368,298.3 368,299.7 362.4,298.7 356.8,297.7 351.2,296.8 345.6,295.9 339.9,295.1 334.3,294.3 328.7,293.5 323.1,292.8 317.5,292.1 311.9,291.4 306.3,290.9 300.6,290.3 295,289.8 289.4,289.3 283.8,288.9 278.2,288.5 272.6,288.2 267,287.9 261.4,287.7 255.8,287.4 250.1,287.3 244.5,287.2 238.9,287.1 233.3,287.1" fill="rgba(60,60,60,0.34)"/>
<polygon points="233.3,296.4 238.9,296.4 244.5,296.4 250.1,296.5 255.8,296.7 261.4,296.8 267,297.1 272.6,297.3 278.2,297.6 283.8,298 289.4,298.3 295,298.8 300.6,299.2 306.3,299.7 311.9,300.2 317.5,300.8 323.1,301.4 328.7,302.1 334.3,302.7 339.9,303.5 345.6,304.2 351.2,305 356.8,305.8 362.4,306.7 368,307.6 368,308.7 362.4,307.8 356.8,306.9 351.2,306.1 345.6,305.3 339.9,304.6 334.3,303.8 328.7,303.2 323.1,302.5 317.5,301.9 311.9,301.3 306.3,300.8 300.6,300.3 295,299.9 289.4,299.4 283.8,299.1 278.2,298.7 272.6,298.4 267,298.2 261.4,297.9 255.8,297.8 250.1,297.6 244.5,297.5 238.9,297.5 233.3,297.5" fill="rgba(238,118,118,0.06)"/>
<polygon points="233.3,300.4 238.9,300.4 244.5,300.4 250.1,300.5 255.8,300.7 261.4,300.8 267,301.1 272.6,301.3 278.2,301.6 283.8,302 289.4,302.3 295,302.8 300.6,303.2 306.3,303.7 311.9,304.2 317.5,304.8 323.1,305.4 328.7,306.1 334.3,306.7 339.9,307.5 345.6,308.2 351.2,309 356.8,309.8 362.4,310.7 368,311.6 368,312.7 362.4,311.8 356.8,310.9 351.2,310.1 345.6,309.3 339.9,308.6 334.3,307.8 328.7,307.2 323.1,306.5 317.5,305.9 311.9,305.3 306.3,304.8 300.6,304.3 295,303.9 289.4,303.4 283.8,303.1 278.2,302.7 272.6,302.4 267,302.2 261.4,301.9 255.8,301.8 250.1,301.6 244.5,301.5 238.9,301.5 233.3,301.5" fill="rgba(238,118,118,0.06)"/>
<polygon points="233.3,298.2 238.9,298.2 244.5,298.3 250.1,298.4 255.8,298.5 261.4,298.7 267,298.9 272.6,299.2 278.2,299.5 283.8,299.8 289.4,300.2 295,300.6 300.6,301.1 306.3,301.6 311.9,302.1 317.5,302.7 323.1,303.3 328.7,303.9 334.3,304.6 339.9,305.3 345.6,306.1 351.2,306.9 356.8,307.7 362.4,308.6 368,309.5 368,310.9 362.4,310 356.8,309.1 351.2,308.3 345.6,307.5 339.9,306.7 334.3,306 328.7,305.3 323.1,304.7 317.5,304.1 311.9,303.5 306.3,303 300.6,302.5 295,302 289.4,301.6 283.8,301.2 278.2,300.9 272.6,300.6 267,300.3 261.4,300.1 255.8,299.9 250.1,299.8 244.5,299.7 238.9,299.6 233.3,299.6" fill="rgba(60,60,60,0.34)"/>
<polygon points="233.3,315.1 238.9,315.1 244.5,315.1 250.1,315.2 255.8,315.3 261.4,315.5 267,315.7 272.6,315.9 278.2,316.1 283.8,316.4 289.4,316.7 295,317 300.6,317.4 306.3,317.8 311.9,318.3 317.5,318.7 323.1,319.2 328.7,319.8 334.3,320.3 339.9,320.9 345.6,321.6 351.2,322.2 356.8,322.9 362.4,323.6 368,324.4 368,325.5 362.4,324.7 356.8,324 351.2,323.3 345.6,322.7 339.9,322 334.3,321.4 328.7,320.9 323.1,320.3 317.5,319.8 311.9,319.4 306.3,318.9 300.6,318.5 295,318.1 289.4,317.8 283.8,317.5 278.2,317.2 272.6,317 267,316.8 261.4,316.6 255.8,316.4 250.1,316.3 244.5,316.2 238.9,316.2 233.3,316.2" fill="rgba(238,118,118,0.06)"/>
<polygon points="233.3,319.1 238.9,319.1 244.5,319.1 250.1,319.2 255.8,319.3 261.4,319.5 267,319.7 272.6,319.9 278.2,320.1 283.8,320.4 289.4,320.7 295,321 300.6,321.4 306.3,321.8 311.9,322.3 317.5,322.7 323.1,323.2 328.7,323.8 334.3,324.3 339.9,324.9 345.6,325.6 351.2,326.2 356.8,326.9 362.4,327.6 368,328.4 368,329.5 362.4,328.7 356.8,328 351.2,327.3 345.6,326.7 339.9,326 334.3,325.4 328.7,324.9 323.1,324.3 317.5,323.8 311.9,323.4 306.3,322.9 300.6,322.5 295,322.1 289.4,321.8 283.8,321.5 278.2,321.2 272.6,321 267,320.8 261.4,320.6 255.8,320.4 250.1,320.3 244.5,320.2 238.9,320.2 233.3,320.2" fill="rgba(238,118,118,0.06)"/>
<polygon points="233.3,316.9 238.9,316.9 244.5,317 250.1,317.1 255.8,317.2 261.4,317.3 267,317.5 272.6,317.7 278.2,318 283.8,318.2 289.4,318.6 295,318.9 300.6,319.3 306.3,319.7 311.9,320.1 317.5,320.6 323.1,321.1 328.7,321.6 334.3,322.2 339.9,322.8 345.6,323.4 351.2,324.1 356.8,324.8 362.4,325.5 368,326.2 368,327.6 362.4,326.9 356.8,326.2 351.2,325.5 345.6,324.8 339.9,324.2 334.3,323.6 328.7,323 323.1,322.5 317.5,322 311.9,321.5 306.3,321.1 300.6,320.7 295,320.3 289.4,320 283.8,319.6 278.2,319.4 272.6,319.1 267,318.9 261.4,318.7 255.8,318.6 250.1,318.5 244.5,318.4 238.9,318.3 233.3,318.3" fill="rgba(60,60,60,0.34)"/>
<polygon points="233.3,313.8 238.9,313.8 244.5,313.9 250.1,314 255.8,314.1 261.4,314.3 267,314.5 272.6,314.7 278.2,315 283.8,315.3 289.4,315.6 295,316 300.6,316.4 306.3,316.9 311.9,317.4 317.5,317.9 323.1,318.5 328.7,319.1 334.3,319.7 339.9,320.4 345.6,321.1 351.2,321.8 356.8,322.6 362.4,323.4 368,324.2 368,325.3 362.4,324.5 356.8,323.7 351.2,322.9 345.6,322.2 339.9,321.5 334.3,320.8 328.7,320.2 323.1,319.6 317.5,319 311.9,318.5 306.3,318 300.6,317.5 295,317.1 289.4,316.7 283.8,316.4 278.2,316.1 272.6,315.8 267,315.6 261.4,315.4 255.8,315.2 250.1,315.1 244.5,315 238.9,314.9 233.3,314.9" fill="rgba(238,118,118,0.04)"/>
<polygon points="233.3,317.8 238.9,317.8 244.5,317.9 250.1,318 255.8,318.1 261.4,318.3 267,318.5 272.6,318.7 278.2,319 283.8,319.3 289.4,319.6 295,320 300.6,320.4 306.3,320.9 311.9,321.4 317.5,321.9 323.1,322.5 328.7,323.1 334.3,323.7 339.9,324.4 345.6,325.1 351.2,325.8 356.8,326.6 362.4,327.4 368,328.2 368,329.3 362.4,328.5 356.8,327.7 351.2,326.9 345.6,326.2 339.9,325.5 334.3,324.8 328.7,324.2 323.1,323.6 317.5,323 311.9,322.5 306.3,322 300.6,321.5 295,321.1 289.4,320.7 283.8,320.4 278.2,320.1 272.6,319.8 267,319.6 261.4,319.4 255.8,319.2 250.1,319.1 244.5,319 238.9,318.9 233.3,318.9" fill="rgba(238,118,118,0.04)"/>
<polygon points="233.3,315.7 238.9,315.7 244.5,315.7 250.1,315.8 255.8,316 261.4,316.1 267,316.3 272.6,316.6 278.2,316.8 283.8,317.1 289.4,317.5 295,317.9 300.6,318.3 306.3,318.8 311.9,319.2 317.5,319.8 323.1,320.3 328.7,320.9 334.3,321.6 339.9,322.2 345.6,322.9 351.2,323.7 356.8,324.4 362.4,325.2 368,326.1 368,327.5 362.4,326.6 356.8,325.8 351.2,325.1 345.6,324.3 339.9,323.6 334.3,323 328.7,322.3 323.1,321.7 317.5,321.2 311.9,320.6 306.3,320.2 300.6,319.7 295,319.3 289.4,318.9 283.8,318.5 278.2,318.2 272.6,318 267,317.7 261.4,317.5 255.8,317.4 250.1,317.2 244.5,317.1 238.9,317.1 233.3,317.1" fill="rgba(60,60,60,0.22)"/>
<polygon points="233.3,275.5 238.9,275.5 244.5,275.6 250.1,275.7 255.8,275.9 261.4,276.1 267,276.4 272.6,276.7 278.2,277.1 283.8,277.5 289.4,278 295,278.5 300.6,279.1 306.3,279.7 311.9,280.4 317.5,281.1 323.1,281.8 328.7,282.6 334.3,283.5 339.9,284.4 345.6,285.3 351.2,286.3 356.8,287.4 362.4,288.4 368,289.6 368,290.7 362.4,289.5 356.8,288.5 351.2,287.4 345.6,286.4 339.9,285.5 334.3,284.6 328.7,283.7 323.1,282.9 317.5,282.2 311.9,281.5 306.3,280.8 300.6,280.2 295,279.6 289.4,279.1 283.8,278.6 278.2,278.2 272.6,277.8 267,277.5 261.4,277.2 255.8,277 250.1,276.8 244.5,276.7 238.9,276.6 233.3,276.6" fill="rgba(238,118,118,0.02)"/>
<polygon points="233.3,279.5 238.9,279.5 244.5,279.6 250.1,279.7 255.8,279.9 261.4,280.1 267,280.4 272.6,280.7 278.2,281.1 283.8,281.5 289.4,282 295,282.5 300.6,283.1 306.3,283.7 311.9,284.4 317.5,285.1 323.1,285.8 328.7,286.6 334.3,287.5 339.9,288.4 345.6,289.3 351.2,290.3 356.8,291.4 362.4,292.4 368,293.6 368,294.7 362.4,293.5 356.8,292.5 351.2,291.4 345.6,290.4 339.9,289.5 334.3,288.6 328.7,287.7 323.1,286.9 317.5,286.2 311.9,285.5 306.3,284.8 300.6,284.2 295,283.6 289.4,283.1 283.8,282.6 278.2,282.2 272.6,281.8 267,281.5 261.4,281.2 255.8,281 250.1,280.8 244.5,280.7 238.9,280.6 233.3,280.6" fill="rgba(238,118,118,0.02)"/>
<polygon points="233.3,277.3 238.9,277.3 244.5,277.4 250.1,277.5 255.8,277.7 261.4,277.9 267,278.2 272.6,278.6 278.2,278.9 283.8,279.4 289.4,279.8 295,280.3 300.6,280.9 306.3,281.5 311.9,282.2 317.5,282.9 323.1,283.7 328.7,284.5 334.3,285.3 339.9,286.2 345.6,287.2 351.2,288.2 356.8,289.2 362.4,290.3 368,291.4 368,292.8 362.4,291.7 356.8,290.6 351.2,289.6 345.6,288.6 339.9,287.6 334.3,286.7 328.7,285.9 323.1,285.1 317.5,284.3 311.9,283.6 306.3,282.9 300.6,282.3 295,281.7 289.4,281.2 283.8,280.8 278.2,280.3 272.6,280 267,279.6 261.4,279.3 255.8,279.1 250.1,278.9 244.5,278.8 238.9,278.7 233.3,278.7" fill="rgba(60,60,60,0.09)"/>
<polygon points="233.3,305.4 238.9,305.5 244.5,305.5 250.1,305.6 255.8,305.8 261.4,305.9 267,306.2 272.6,306.4 278.2,306.7 283.8,307.1 289.4,307.5 295,307.9 300.6,308.3 306.3,308.8 311.9,309.4 317.5,310 323.1,310.6 328.7,311.2 334.3,311.9 339.9,312.6 345.6,313.4 351.2,314.2 356.8,315.1 362.4,315.9 368,316.8 368,317.9 362.4,317 356.8,316.2 351.2,315.3 345.6,314.5 339.9,313.7 334.3,313 328.7,312.3 323.1,311.7 317.5,311.1 311.9,310.5 306.3,309.9 300.6,309.4 295,309 289.4,308.6 283.8,308.2 278.2,307.8 272.6,307.5 267,307.3 261.4,307 255.8,306.9 250.1,306.7 244.5,306.6 238.9,306.6 233.3,306.5" fill="rgba(238,118,118,0.04)"/>
<polygon points="233.3,309.4 238.9,309.5 244.5,309.5 250.1,309.6 255.8,309.8 261.4,309.9 267,310.2 272.6,310.4 278.2,310.7 283.8,311.1 289.4,311.5 295,311.9 300.6,312.3 306.3,312.8 311.9,313.4 317.5,314 323.1,314.6 328.7,315.2 334.3,315.9 339.9,316.6 345.6,317.4 351.2,318.2 356.8,319.1 362.4,319.9 368,320.8 368,321.9 362.4,321 356.8,320.2 351.2,319.3 345.6,318.5 339.9,317.7 334.3,317 328.7,316.3 323.1,315.7 317.5,315.1 311.9,314.5 306.3,313.9 300.6,313.4 295,313 289.4,312.6 283.8,312.2 278.2,311.8 272.6,311.5 267,311.3 261.4,311 255.8,310.9 250.1,310.7 244.5,310.6 238.9,310.6 233.3,310.5" fill="rgba(238,118,118,0.04)"/>
<polygon points="233.3,307.3 238.9,307.3 244.5,307.4 250.1,307.5 255.8,307.6 261.4,307.8 267,308 272.6,308.3 278.2,308.6 283.8,308.9 289.4,309.3 295,309.7 300.6,310.2 306.3,310.7 311.9,311.2 317.5,311.8 323.1,312.4 328.7,313.1 334.3,313.8 339.9,314.5 345.6,315.3 351.2,316.1 356.8,316.9 362.4,317.8 368,318.7 368,320.1 362.4,319.2 356.8,318.3 351.2,317.5 345.6,316.7 339.9,315.9 334.3,315.2 328.7,314.5 323.1,313.8 317.5,313.2 311.9,312.6 306.3,312.1 300.6,311.6 295,311.1 289.4,310.7 283.8,310.3 278.2,310 272.6,309.7 267,309.4 261.4,309.2 255.8,309 250.1,308.9 244.5,308.8 238.9,308.7 233.3,308.7" fill="rgba(60,60,60,0.22)"/>
<polygon points="233.3,268.8 238.9,268.8 244.5,268.9 250.1,269.1 255.8,269.3 261.4,269.6 267,269.9 272.6,270.3 278.2,270.7 283.8,271.2 289.4,271.8 295,272.4 300.6,273.1 306.3,273.8 311.9,274.6 317.5,275.4 323.1,276.3 328.7,277.3 334.3,278.3 339.9,279.3 345.6,280.5 351.2,281.6 356.8,282.8 362.4,284.1 368,285.4 368,286.5 362.4,285.2 356.8,283.9 351.2,282.7 345.6,281.6 339.9,280.4 334.3,279.4 328.7,278.4 323.1,277.4 317.5,276.5 311.9,275.7 306.3,274.9 300.6,274.2 295,273.5 289.4,272.9 283.8,272.3 278.2,271.8 272.6,271.4 267,271 261.4,270.7 255.8,270.4 250.1,270.2 244.5,270 238.9,269.9 233.3,269.9" fill="rgba(60,60,60,0.03)"/>
<polygon points="233.3,272.8 238.9,272.8 244.5,272.9 250.1,273.1 255.8,273.3 261.4,273.6 267,273.9 272.6,274.3 278.2,274.7 283.8,275.2 289.4,275.8 295,276.4 300.6,277.1 306.3,277.8 311.9,278.6 317.5,279.4 323.1,280.3 328.7,281.3 334.3,282.3 339.9,283.3 345.6,284.5 351.2,285.6 356.8,286.8 362.4,288.1 368,289.4 368,290.5 362.4,289.2 356.8,287.9 351.2,286.7 345.6,285.6 339.9,284.4 334.3,283.4 328.7,282.4 323.1,281.4 317.5,280.5 311.9,279.7 306.3,278.9 300.6,278.2 295,277.5 289.4,276.9 283.8,276.3 278.2,275.8 272.6,275.4 267,275 261.4,274.7 255.8,274.4 250.1,274.2 244.5,274 238.9,273.9 233.3,273.9" fill="rgba(60,60,60,0.03)"/>
<polygon points="233.3,270.7 238.9,270.7 244.5,270.8 250.1,270.9 255.8,271.1 261.4,271.4 267,271.7 272.6,272.1 278.2,272.6 283.8,273.1 289.4,273.6 295,274.2 300.6,274.9 306.3,275.6 311.9,276.4 317.5,277.3 323.1,278.2 328.7,279.1 334.3,280.1 339.9,281.2 345.6,282.3 351.2,283.5 356.8,284.7 362.4,285.9 368,287.3 368,288.7 362.4,287.3 356.8,286.1 351.2,284.9 345.6,283.7 339.9,282.6 334.3,281.5 328.7,280.5 323.1,279.6 317.5,278.7 311.9,277.8 306.3,277 300.6,276.3 295,275.6 289.4,275 283.8,274.5 278.2,274 272.6,273.5 267,273.1 261.4,272.8 255.8,272.5 250.1,272.3 244.5,272.2 238.9,272.1 233.3,272.1" fill="rgba(238,118,118,0.07)"/>
<polygon points="233.3,290.4 238.9,290.4 244.5,290.5 250.1,290.6 255.8,290.8 261.4,291.1 267,291.3 272.6,291.7 278.2,292.1 283.8,292.5 289.4,293 295,293.5 300.6,294.1 306.3,294.8 311.9,295.5 317.5,296.2 323.1,297 328.7,297.8 334.3,298.7 339.9,299.6 345.6,300.6 351.2,301.7 356.8,302.7 362.4,303.8 368,305 368,306.1 362.4,304.9 356.8,303.8 351.2,302.8 345.6,301.7 339.9,300.7 334.3,299.8 328.7,298.9 323.1,298.1 317.5,297.3 311.9,296.6 306.3,295.9 300.6,295.2 295,294.6 289.4,294.1 283.8,293.6 278.2,293.2 272.6,292.8 267,292.4 261.4,292.2 255.8,291.9 250.1,291.7 244.5,291.6 238.9,291.5 233.3,291.5" fill="rgba(60,60,60,0.08)"/>
<polygon points="233.3,294.4 238.9,294.4 244.5,294.5 250.1,294.6 255.8,294.8 261.4,295.1 267,295.3 272.6,295.7 278.2,296.1 283.8,296.5 289.4,297 295,297.5 300.6,298.1 306.3,298.8 311.9,299.5 317.5,300.2 323.1,301 328.7,301.8 334.3,302.7 339.9,303.6 345.6,304.6 351.2,305.7 356.8,306.7 362.4,307.8 368,309 368,310.1 362.4,308.9 356.8,307.8 351.2,306.8 345.6,305.7 339.9,304.7 334.3,303.8 328.7,302.9 323.1,302.1 317.5,301.3 311.9,300.6 306.3,299.9 300.6,299.2 295,298.6 289.4,298.1 283.8,297.6 278.2,297.2 272.6,296.8 267,296.4 261.4,296.2 255.8,295.9 250.1,295.7 244.5,295.6 238.9,295.5 233.3,295.5" fill="rgba(60,60,60,0.08)"/>
<polygon points="233.3,292.3 238.9,292.3 244.5,292.4 250.1,292.5 255.8,292.7 261.4,292.9 267,293.2 272.6,293.5 278.2,293.9 283.8,294.4 289.4,294.9 295,295.4 300.6,296 306.3,296.6 311.9,297.3 317.5,298.1 323.1,298.8 328.7,299.7 334.3,300.6 339.9,301.5 345.6,302.5 351.2,303.5 356.8,304.6 362.4,305.7 368,306.8 368,308.2 362.4,307.1 356.8,306 351.2,304.9 345.6,303.9 339.9,302.9 334.3,302 328.7,301.1 323.1,300.2 317.5,299.5 311.9,298.7 306.3,298 300.6,297.4 295,296.8 289.4,296.3 283.8,295.8 278.2,295.3 272.6,294.9 267,294.6 261.4,294.3 255.8,294.1 250.1,293.9 244.5,293.8 238.9,293.7 233.3,293.7" fill="rgba(238,118,118,0.17)"/>
<polygon points="233.3,312 238.9,312 244.5,312.1 250.1,312.2 255.8,312.4 261.4,312.6 267,312.8 272.6,313.1 278.2,313.5 283.8,313.9 289.4,314.3 295,314.8 300.6,315.3 306.3,315.9 311.9,316.5 317.5,317.2 323.1,317.9 328.7,318.6 334.3,319.4 339.9,320.2 345.6,321.1 351.2,322 356.8,323 362.4,324 368,325 368,326.1 362.4,325.1 356.8,324.1 351.2,323.1 345.6,322.2 339.9,321.3 334.3,320.5 328.7,319.7 323.1,319 317.5,318.3 311.9,317.6 306.3,317 300.6,316.4 295,315.9 289.4,315.4 283.8,315 278.2,314.6 272.6,314.2 267,313.9 261.4,313.7 255.8,313.5 250.1,313.3 244.5,313.2 238.9,313.1 233.3,313.1" fill="rgba(60,60,60,0.08)"/>
<polygon points="233.3,316 238.9,316 244.5,316.1 250.1,316.2 255.8,316.4 261.4,316.6 267,316.8 272.6,317.1 278.2,317.5 283.8,317.9 289.4,318.3 295,318.8 300.6,319.3 306.3,319.9 311.9,320.5 317.5,321.2 323.1,321.9 328.7,322.6 334.3,323.4 339.9,324.2 345.6,325.1 351.2,326 356.8,327 362.4,328 368,329 368,330.1 362.4,329.1 356.8,328.1 351.2,327.1 345.6,326.2 339.9,325.3 334.3,324.5 328.7,323.7 323.1,323 317.5,322.3 311.9,321.6 306.3,321 300.6,320.4 295,319.9 289.4,319.4 283.8,319 278.2,318.6 272.6,318.2 267,317.9 261.4,317.7 255.8,317.5 250.1,317.3 244.5,317.2 238.9,317.1 233.3,317.1" fill="rgba(60,60,60,0.08)"/>
<polygon points="233.3,313.9 238.9,313.9 244.5,314 250.1,314.1 255.8,314.2 261.4,314.4 267,314.7 272.6,315 278.2,315.3 283.8,315.7 289.4,316.2 295,316.6 300.6,317.2 306.3,317.7 311.9,318.4 317.5,319 323.1,319.7 328.7,320.5 334.3,321.3 339.9,322.1 345.6,323 351.2,323.9 356.8,324.8 362.4,325.8 368,326.9 368,328.3 362.4,327.2 356.8,326.2 351.2,325.3 345.6,324.4 339.9,323.5 334.3,322.7 328.7,321.9 323.1,321.1 317.5,320.4 311.9,319.8 306.3,319.1 300.6,318.6 295,318 289.4,317.6 283.8,317.1 278.2,316.7 272.6,316.4 267,316.1 261.4,315.8 255.8,315.6 250.1,315.5 244.5,315.4 238.9,315.3 233.3,315.3" fill="rgba(238,118,118,0.17)"/>
</g>
<clipPath id="cc"><rect x="406.5" y="40.8" width="135.5" height="265.2"/></clipPath>
<g clip-path="url(#cc)">
<rect x="406.5" y="40.8" width="135.5" height="265.2" filter="url(#nz)"/>
<polygon points="406.5,96.3 412.1,96.3 417.8,96.3 423.4,96.2 429.1,96.2 434.7,96.1 440.4,96.1 446,96 451.7,95.9 457.3,95.8 463,95.7 468.6,95.6 474.2,95.4 479.9,95.3 485.5,95.1 491.2,94.9 496.8,94.8 502.5,94.6 508.1,94.4 513.8,94.1 519.4,93.9 525.1,93.6 530.7,93.4 536.4,93.1 542,92.7 542,95.4 536.4,95.6 530.7,95.7 525.1,95.9 519.4,96 513.8,96.2 508.1,96.3 502.5,96.4 496.8,96.5 491.2,96.6 485.5,96.7 479.9,96.8 474.2,96.9 468.6,97 463,97 457.3,97.1 451.7,97.2 446,97.2 440.4,97.3 434.7,97.3 429.1,97.3 423.4,97.4 417.8,97.4 412.1,97.4 406.5,97.4" fill="rgba(238,118,118,0.16)"/>
<polygon points="406.5,100.3 412.1,100.3 417.8,100.3 423.4,100.3 429.1,100.3 434.7,100.4 440.4,100.4 446,100.5 451.7,100.5 457.3,100.6 463,100.6 468.6,100.7 474.2,100.8 479.9,100.9 485.5,101 491.2,101.1 496.8,101.2 502.5,101.3 508.1,101.4 513.8,101.5 519.4,101.7 525.1,101.8 530.7,102 536.4,102.1 542,102.3 542,104.9 536.4,104.6 530.7,104.3 525.1,104 519.4,103.8 513.8,103.5 508.1,103.3 502.5,103.1 496.8,102.9 491.2,102.7 485.5,102.6 479.9,102.4 474.2,102.3 468.6,102.1 463,102 457.3,101.9 451.7,101.8 446,101.7 440.4,101.6 434.7,101.5 429.1,101.5 423.4,101.4 417.8,101.4 412.1,101.4 406.5,101.4" fill="rgba(238,118,118,0.16)"/>
<polygon points="406.5,100.2 412.1,100.2 417.8,100.2 423.4,100.2 429.1,100.2 434.7,100.3 440.4,100.3 446,100.3 451.7,100.4 457.3,100.4 463,100.5 468.6,100.6 474.2,100.6 479.9,100.7 485.5,100.8 491.2,100.9 496.8,101 502.5,101.1 508.1,101.2 513.8,101.3 519.4,101.4 525.1,101.6 530.7,101.7 536.4,101.9 542,102 542,105.2 536.4,104.9 530.7,104.6 525.1,104.3 519.4,104 513.8,103.7 508.1,103.5 502.5,103.3 496.8,103.1 491.2,102.9 485.5,102.7 479.9,102.6 474.2,102.4 468.6,102.3 463,102.1 457.3,102 451.7,101.9 446,101.8 440.4,101.7 434.7,101.7 429.1,101.6 423.4,101.6 417.8,101.5 412.1,101.5 406.5,101.5" fill="url(#pg)" fill-opacity="0.42"/>
<polygon points="406.5,96.3 412.1,96.3 417.8,96.3 423.4,96.2 429.1,96.2 434.7,96.1 440.4,96.1 446,96 451.7,95.9 457.3,95.8 463,95.7 468.6,95.6 474.2,95.4 479.9,95.3 485.5,95.1 491.2,94.9 496.8,94.8 502.5,94.6 508.1,94.4 513.8,94.1 519.4,93.9 525.1,93.6 530.7,93.4 536.4,93.1 542,92.7 542,95.4 536.4,95.6 530.7,95.7 525.1,95.9 519.4,96 513.8,96.2 508.1,96.3 502.5,96.4 496.8,96.5 491.2,96.6 485.5,96.7 479.9,96.8 474.2,96.9 468.6,97 463,97 457.3,97.1 451.7,97.2 446,97.2 440.4,97.3 434.7,97.3 429.1,97.3 423.4,97.4 417.8,97.4 412.1,97.4 406.5,97.4" fill="url(#pg)" fill-opacity="0.19"/>
<polygon points="406.5,98.1 412.1,98.1 417.8,98.1 423.4,98.1 429.1,98.1 434.7,98.1 440.4,98.1 446,98.1 451.7,98 457.3,98 463,98 468.6,97.9 474.2,97.9 479.9,97.9 485.5,97.8 491.2,97.8 496.8,97.7 502.5,97.7 508.1,97.6 513.8,97.5 519.4,97.5 525.1,97.4 530.7,97.3 536.4,97.3 542,97.2 542,100.5 536.4,100.4 530.7,100.3 525.1,100.3 519.4,100.2 513.8,100.1 508.1,100.1 502.5,100 496.8,100 491.2,99.9 485.5,99.9 479.9,99.8 474.2,99.8 468.6,99.7 463,99.7 457.3,99.7 451.7,99.6 446,99.6 440.4,99.6 434.7,99.6 429.1,99.6 423.4,99.6 417.8,99.5 412.1,99.5 406.5,99.5" fill="rgba(60,60,60,0.85)"/>
<polygon points="406.5,117.9 412.1,117.9 417.8,117.9 423.4,117.9 429.1,117.8 434.7,117.8 440.4,117.8 446,117.7 451.7,117.6 457.3,117.6 463,117.5 468.6,117.4 474.2,117.3 479.9,117.2 485.5,117.1 491.2,117 496.8,116.8 502.5,116.7 508.1,116.5 513.8,116.3 519.4,116.1 525.1,115.9 530.7,115.6 536.4,115.4 542,115.1 542,117.4 536.4,117.6 530.7,117.7 525.1,117.8 519.4,118 513.8,118.1 508.1,118.2 502.5,118.3 496.8,118.4 491.2,118.5 485.5,118.5 479.9,118.6 474.2,118.7 468.6,118.7 463,118.8 457.3,118.8 451.7,118.8 446,118.9 440.4,118.9 434.7,118.9 429.1,119 423.4,119 417.8,119 412.1,119 406.5,119" fill="rgba(238,118,118,0.15)"/>
<polygon points="406.5,121.9 412.1,121.9 417.8,121.9 423.4,121.9 429.1,121.9 434.7,121.9 440.4,122 446,122 451.7,122 457.3,122.1 463,122.1 468.6,122.2 474.2,122.2 479.9,122.3 485.5,122.3 491.2,122.4 496.8,122.5 502.5,122.6 508.1,122.7 513.8,122.8 519.4,122.9 525.1,123 530.7,123.2 536.4,123.3 542,123.5 542,125.8 536.4,125.5 530.7,125.2 525.1,125 519.4,124.8 513.8,124.6 508.1,124.4 502.5,124.2 496.8,124.1 491.2,123.9 485.5,123.8 479.9,123.7 474.2,123.6 468.6,123.5 463,123.4 457.3,123.3 451.7,123.2 446,123.2 440.4,123.1 434.7,123.1 429.1,123.1 423.4,123 417.8,123 412.1,123 406.5,123" fill="rgba(238,118,118,0.15)"/>
<polygon points="406.5,121.8 412.1,121.8 417.8,121.8 423.4,121.8 429.1,121.8 434.7,121.8 440.4,121.9 446,121.9 451.7,121.9 457.3,121.9 463,122 468.6,122 474.2,122.1 479.9,122.1 485.5,122.2 491.2,122.3 496.8,122.3 502.5,122.4 508.1,122.5 513.8,122.6 519.4,122.7 525.1,122.8 530.7,123 536.4,123.1 542,123.3 542,126.1 536.4,125.7 530.7,125.5 525.1,125.2 519.4,125 513.8,124.7 508.1,124.5 502.5,124.4 496.8,124.2 491.2,124.1 485.5,123.9 479.9,123.8 474.2,123.7 468.6,123.6 463,123.5 457.3,123.4 451.7,123.4 446,123.3 440.4,123.2 434.7,123.2 429.1,123.2 423.4,123.1 417.8,123.1 412.1,123.1 406.5,123.1" fill="url(#pg)" fill-opacity="0.40"/>
<polygon points="406.5,117.9 412.1,117.9 417.8,117.9 423.4,117.9 429.1,117.8 434.7,117.8 440.4,117.8 446,117.7 451.7,117.6 457.3,117.6 463,117.5 468.6,117.4 474.2,117.3 479.9,117.2 485.5,117.1 491.2,117 496.8,116.8 502.5,116.7 508.1,116.5 513.8,116.3 519.4,116.1 525.1,115.9 530.7,115.6 536.4,115.4 542,115.1 542,117.4 536.4,117.6 530.7,117.7 525.1,117.8 519.4,118 513.8,118.1 508.1,118.2 502.5,118.3 496.8,118.4 491.2,118.5 485.5,118.5 479.9,118.6 474.2,118.7 468.6,118.7 463,118.8 457.3,118.8 451.7,118.8 446,118.9 440.4,118.9 434.7,118.9 429.1,119 423.4,119 417.8,119 412.1,119 406.5,119" fill="url(#pg)" fill-opacity="0.18"/>
<polygon points="406.5,119.7 412.1,119.7 417.8,119.7 423.4,119.7 429.1,119.7 434.7,119.7 440.4,119.7 446,119.7 451.7,119.7 457.3,119.7 463,119.6 468.6,119.6 474.2,119.6 479.9,119.6 485.5,119.5 491.2,119.5 496.8,119.4 502.5,119.4 508.1,119.4 513.8,119.3 519.4,119.3 525.1,119.2 530.7,119.1 536.4,119 542,119 542,121.9 536.4,121.8 530.7,121.8 525.1,121.7 519.4,121.6 513.8,121.6 508.1,121.5 502.5,121.5 496.8,121.4 491.2,121.4 485.5,121.4 479.9,121.3 474.2,121.3 468.6,121.3 463,121.2 457.3,121.2 451.7,121.2 446,121.2 440.4,121.2 434.7,121.2 429.1,121.2 423.4,121.1 417.8,121.1 412.1,121.1 406.5,121.1" fill="rgba(60,60,60,0.81)"/>
<polygon points="406.5,147.9 412.1,147.9 417.8,147.9 423.4,147.8 429.1,147.8 434.7,147.8 440.4,147.8 446,147.8 451.7,147.7 457.3,147.7 463,147.7 468.6,147.6 474.2,147.6 479.9,147.5 485.5,147.5 491.2,147.4 496.8,147.3 502.5,147.3 508.1,147.2 513.8,147.1 519.4,147 525.1,146.9 530.7,146.8 536.4,146.7 542,146.6 542,148.2 536.4,148.3 530.7,148.4 525.1,148.4 519.4,148.5 513.8,148.5 508.1,148.6 502.5,148.6 496.8,148.7 491.2,148.7 485.5,148.7 479.9,148.8 474.2,148.8 468.6,148.8 463,148.8 457.3,148.9 451.7,148.9 446,148.9 440.4,148.9 434.7,148.9 429.1,148.9 423.4,149 417.8,149 412.1,149 406.5,149" fill="rgba(238,118,118,0.12)"/>
<polygon points="406.5,151.9 412.1,151.9 417.8,151.9 423.4,151.9 429.1,151.9 434.7,151.9 440.4,151.9 446,151.9 451.7,151.9 457.3,151.9 463,152 468.6,152 474.2,152 479.9,152.1 485.5,152.1 491.2,152.1 496.8,152.2 502.5,152.2 508.1,152.2 513.8,152.3 519.4,152.3 525.1,152.4 530.7,152.5 536.4,152.5 542,152.6 542,154.3 536.4,154.1 530.7,154 525.1,153.9 519.4,153.8 513.8,153.7 508.1,153.6 502.5,153.6 496.8,153.5 491.2,153.4 485.5,153.4 479.9,153.3 474.2,153.2 468.6,153.2 463,153.2 457.3,153.1 451.7,153.1 446,153.1 440.4,153 434.7,153 429.1,153 423.4,153 417.8,153 412.1,153 406.5,153" fill="rgba(238,118,118,0.12)"/>
<polygon points="406.5,151.8 412.1,151.8 417.8,151.8 423.4,151.8 429.1,151.8 434.7,151.8 440.4,151.8 446,151.8 451.7,151.8 457.3,151.8 463,151.9 468.6,151.9 474.2,151.9 479.9,151.9 485.5,152 491.2,152 496.8,152 502.5,152.1 508.1,152.1 513.8,152.2 519.4,152.2 525.1,152.3 530.7,152.3 536.4,152.4 542,152.4 542,154.4 536.4,154.3 530.7,154.2 525.1,154.1 519.4,154 513.8,153.9 508.1,153.8 502.5,153.7 496.8,153.6 491.2,153.5 485.5,153.5 479.9,153.4 474.2,153.4 468.6,153.3 463,153.3 457.3,153.2 451.7,153.2 446,153.2 440.4,153.1 434.7,153.1 429.1,153.1 423.4,153.1 417.8,153.1 412.1,153.1 406.5,153.1" fill="url(#pg)" fill-opacity="0.32"/>
<polygon points="406.5,147.9 412.1,147.9 417.8,147.9 423.4,147.8 429.1,147.8 434.7,147.8 440.4,147.8 446,147.8 451.7,147.7 457.3,147.7 463,147.7 468.6,147.6 474.2,147.6 479.9,147.5 485.5,147.5 491.2,147.4 496.8,147.3 502.5,147.3 508.1,147.2 513.8,147.1 519.4,147 525.1,146.9 530.7,146.8 536.4,146.7 542,146.6 542,148.2 536.4,148.3 530.7,148.4 525.1,148.4 519.4,148.5 513.8,148.5 508.1,148.6 502.5,148.6 496.8,148.7 491.2,148.7 485.5,148.7 479.9,148.8 474.2,148.8 468.6,148.8 463,148.8 457.3,148.9 451.7,148.9 446,148.9 440.4,148.9 434.7,148.9 429.1,148.9 423.4,149 417.8,149 412.1,149 406.5,149" fill="url(#pg)" fill-opacity="0.14"/>
<polygon points="406.5,149.7 412.1,149.7 417.8,149.7 423.4,149.7 429.1,149.7 434.7,149.7 440.4,149.7 446,149.7 451.7,149.7 457.3,149.7 463,149.7 468.6,149.6 474.2,149.6 479.9,149.6 485.5,149.6 491.2,149.6 496.8,149.6 502.5,149.5 508.1,149.5 513.8,149.5 519.4,149.5 525.1,149.4 530.7,149.4 536.4,149.4 542,149.4 542,151.5 536.4,151.4 530.7,151.4 525.1,151.4 519.4,151.3 513.8,151.3 508.1,151.3 502.5,151.3 496.8,151.3 491.2,151.2 485.5,151.2 479.9,151.2 474.2,151.2 468.6,151.2 463,151.2 457.3,151.2 451.7,151.1 446,151.1 440.4,151.1 434.7,151.1 429.1,151.1 423.4,151.1 417.8,151.1 412.1,151.1 406.5,151.1" fill="rgba(60,60,60,0.65)"/>
<polygon points="406.5,160.4 412.1,160.4 417.8,160.4 423.4,160.4 429.1,160.3 434.7,160.3 440.4,160.3 446,160.3 451.7,160.3 457.3,160.2 463,160.2 468.6,160.2 474.2,160.1 479.9,160.1 485.5,160 491.2,160 496.8,159.9 502.5,159.9 508.1,159.8 513.8,159.7 519.4,159.7 525.1,159.6 530.7,159.5 536.4,159.4 542,159.3 542,160.9 536.4,160.9 530.7,161 525.1,161 519.4,161.1 513.8,161.1 508.1,161.2 502.5,161.2 496.8,161.2 491.2,161.3 485.5,161.3 479.9,161.3 474.2,161.3 468.6,161.4 463,161.4 457.3,161.4 451.7,161.4 446,161.4 440.4,161.4 434.7,161.4 429.1,161.5 423.4,161.5 417.8,161.5 412.1,161.5 406.5,161.5" fill="rgba(238,118,118,0.12)"/>
<polygon points="406.5,164.4 412.1,164.4 417.8,164.4 423.4,164.4 429.1,164.4 434.7,164.4 440.4,164.4 446,164.4 451.7,164.4 457.3,164.4 463,164.5 468.6,164.5 474.2,164.5 479.9,164.5 485.5,164.6 491.2,164.6 496.8,164.6 502.5,164.6 508.1,164.7 513.8,164.7 519.4,164.8 525.1,164.8 530.7,164.9 536.4,164.9 542,165 542,166.5 536.4,166.4 530.7,166.3 525.1,166.2 519.4,166.2 513.8,166.1 508.1,166 502.5,166 496.8,165.9 491.2,165.8 485.5,165.8 479.9,165.7 474.2,165.7 468.6,165.7 463,165.6 457.3,165.6 451.7,165.6 446,165.5 440.4,165.5 434.7,165.5 429.1,165.5 423.4,165.5 417.8,165.5 412.1,165.5 406.5,165.5" fill="rgba(238,118,118,0.12)"/>
<polygon points="406.5,164.3 412.1,164.3 417.8,164.3 423.4,164.3 429.1,164.3 434.7,164.3 440.4,164.3 446,164.3 451.7,164.3 457.3,164.3 463,164.3 468.6,164.4 474.2,164.4 479.9,164.4 485.5,164.4 491.2,164.5 496.8,164.5 502.5,164.5 508.1,164.5 513.8,164.6 519.4,164.6 525.1,164.7 530.7,164.7 536.4,164.8 542,164.8 542,166.7 536.4,166.6 530.7,166.5 525.1,166.4 519.4,166.3 513.8,166.2 508.1,166.2 502.5,166.1 496.8,166 491.2,166 485.5,165.9 479.9,165.9 474.2,165.8 468.6,165.8 463,165.7 457.3,165.7 451.7,165.7 446,165.7 440.4,165.6 434.7,165.6 429.1,165.6 423.4,165.6 417.8,165.6 412.1,165.6 406.5,165.6" fill="url(#pg)" fill-opacity="0.31"/>
<polygon points="406.5,160.4 412.1,160.4 417.8,160.4 423.4,160.4 429.1,160.3 434.7,160.3 440.4,160.3 446,160.3 451.7,160.3 457.3,160.2 463,160.2 468.6,160.2 474.2,160.1 479.9,160.1 485.5,160 491.2,160 496.8,159.9 502.5,159.9 508.1,159.8 513.8,159.7 519.4,159.7 525.1,159.6 530.7,159.5 536.4,159.4 542,159.3 542,160.9 536.4,160.9 530.7,161 525.1,161 519.4,161.1 513.8,161.1 508.1,161.2 502.5,161.2 496.8,161.2 491.2,161.3 485.5,161.3 479.9,161.3 474.2,161.3 468.6,161.4 463,161.4 457.3,161.4 451.7,161.4 446,161.4 440.4,161.4 434.7,161.4 429.1,161.5 423.4,161.5 417.8,161.5 412.1,161.5 406.5,161.5" fill="url(#pg)" fill-opacity="0.14"/>
<polygon points="406.5,162.2 412.1,162.2 417.8,162.2 423.4,162.2 429.1,162.2 434.7,162.2 440.4,162.2 446,162.2 451.7,162.2 457.3,162.2 463,162.2 468.6,162.2 474.2,162.2 479.9,162.1 485.5,162.1 491.2,162.1 492.6,162.1 492.6,163.7 491.2,163.7 485.5,163.7 479.9,163.7 474.2,163.7 468.6,163.7 463,163.7 457.3,163.7 451.7,163.6 446,163.6 440.4,163.6 434.7,163.6 429.1,163.6 423.4,163.6 417.8,163.6 412.1,163.6 406.5,163.6" fill="rgba(60,60,60,0.63)"/>
<polygon points="505.3,162.1 510.9,162.1 516.6,162 522.2,162 527.9,162 533.5,162 539.2,161.9 542,161.9 542,163.9 539.2,163.9 533.5,163.9 527.9,163.8 522.2,163.8 516.6,163.8 510.9,163.8 505.3,163.8" fill="rgba(60,60,60,0.63)"/>
<polygon points="406.5,179.1 412.1,179.1 417.8,179.1 423.4,179.1 429.1,179.1 434.7,179.1 440.4,179.1 446,179 451.7,179 457.3,179 463,179 468.6,179 474.2,178.9 479.9,178.9 485.5,178.9 491.2,178.8 496.8,178.8 502.5,178.8 508.1,178.7 513.8,178.7 519.4,178.6 525.1,178.6 530.7,178.5 536.4,178.4 542,178.4 542,179.8 536.4,179.8 530.7,179.9 525.1,179.9 519.4,179.9 513.8,179.9 508.1,180 502.5,180 496.8,180 491.2,180 485.5,180.1 479.9,180.1 474.2,180.1 468.6,180.1 463,180.1 457.3,180.1 451.7,180.2 446,180.2 440.4,180.2 434.7,180.2 429.1,180.2 423.4,180.2 417.8,180.2 412.1,180.2 406.5,180.2" fill="rgba(238,118,118,0.11)"/>
<polygon points="406.5,183.1 412.1,183.1 417.8,183.1 423.4,183.1 429.1,183.1 434.7,183.1 440.4,183.1 446,183.1 451.7,183.1 457.3,183.1 463,183.2 468.6,183.2 474.2,183.2 479.9,183.2 485.5,183.2 491.2,183.2 496.8,183.3 502.5,183.3 508.1,183.3 513.8,183.3 519.4,183.4 525.1,183.4 530.7,183.4 536.4,183.5 542,183.5 542,184.9 536.4,184.8 530.7,184.8 525.1,184.7 519.4,184.7 513.8,184.6 508.1,184.6 502.5,184.5 496.8,184.5 491.2,184.4 485.5,184.4 479.9,184.4 474.2,184.4 468.6,184.3 463,184.3 457.3,184.3 451.7,184.3 446,184.2 440.4,184.2 434.7,184.2 429.1,184.2 423.4,184.2 417.8,184.2 412.1,184.2 406.5,184.2" fill="rgba(238,118,118,0.11)"/>
<polygon points="406.5,183 412.1,183 417.8,183 423.4,183 429.1,183 434.7,183 440.4,183 446,183 451.7,183 457.3,183 463,183 468.6,183.1 474.2,183.1 479.9,183.1 485.5,183.1 491.2,183.1 496.8,183.1 502.5,183.2 508.1,183.2 513.8,183.2 519.4,183.2 525.1,183.3 530.7,183.3 536.4,183.3 542,183.4 542,185 536.4,185 530.7,184.9 525.1,184.8 519.4,184.8 513.8,184.7 508.1,184.7 502.5,184.6 496.8,184.6 491.2,184.6 485.5,184.5 479.9,184.5 474.2,184.5 468.6,184.4 463,184.4 457.3,184.4 451.7,184.4 446,184.4 440.4,184.3 434.7,184.3 429.1,184.3 423.4,184.3 417.8,184.3 412.1,184.3 406.5,184.3" fill="url(#pg)" fill-opacity="0.29"/>
<polygon points="406.5,179.1 412.1,179.1 417.8,179.1 423.4,179.1 429.1,179.1 434.7,179.1 440.4,179.1 446,179 451.7,179 457.3,179 463,179 468.6,179 474.2,178.9 479.9,178.9 485.5,178.9 491.2,178.8 496.8,178.8 502.5,178.8 508.1,178.7 513.8,178.7 519.4,178.6 525.1,178.6 530.7,178.5 536.4,178.4 542,178.4 542,179.8 536.4,179.8 530.7,179.9 525.1,179.9 519.4,179.9 513.8,179.9 508.1,180 502.5,180 496.8,180 491.2,180 485.5,180.1 479.9,180.1 474.2,180.1 468.6,180.1 463,180.1 457.3,180.1 451.7,180.2 446,180.2 440.4,180.2 434.7,180.2 429.1,180.2 423.4,180.2 417.8,180.2 412.1,180.2 406.5,180.2" fill="url(#pg)" fill-opacity="0.13"/>
<polygon points="406.5,180.9 412.1,180.9 417.8,180.9 423.4,180.9 429.1,180.9 434.7,180.9 440.4,180.9 446,180.9 451.7,180.9 457.3,180.9 463,180.9 465.8,180.9 465.8,182.4 463,182.4 457.3,182.4 451.7,182.4 446,182.4 440.4,182.4 434.7,182.3 429.1,182.3 423.4,182.3 417.8,182.3 412.1,182.3 406.5,182.3" fill="rgba(60,60,60,0.59)"/>
<polygon points="485.5,180.9 491.2,180.9 496.8,180.9 502.5,180.8 508.1,180.8 513.8,180.8 519.4,180.8 525.1,180.8 530.7,180.8 536.4,180.8 542,180.7 542,182.5 536.4,182.5 530.7,182.5 525.1,182.5 519.4,182.5 513.8,182.5 508.1,182.4 502.5,182.4 496.8,182.4 491.2,182.4 485.5,182.4" fill="rgba(60,60,60,0.59)"/>
<polygon points="406.5,194.5 412.1,194.5 417.8,194.5 423.4,194.5 429.1,194.5 434.7,194.5 440.4,194.5 446,194.4 451.7,194.4 457.3,194.4 463,194.4 468.6,194.4 474.2,194.4 479.9,194.3 485.5,194.3 491.2,194.3 496.8,194.3 502.5,194.2 508.1,194.2 513.8,194.2 519.4,194.1 525.1,194.1 530.7,194 536.4,194 542,194 542,195.3 536.4,195.3 530.7,195.3 525.1,195.4 519.4,195.4 513.8,195.4 508.1,195.4 502.5,195.4 496.8,195.5 491.2,195.5 485.5,195.5 479.9,195.5 474.2,195.5 468.6,195.5 463,195.5 457.3,195.5 451.7,195.5 446,195.6 440.4,195.6 434.7,195.6 429.1,195.6 423.4,195.6 417.8,195.6 412.1,195.6 406.5,195.6" fill="rgba(238,118,118,0.11)"/>
<polygon points="406.5,198.5 412.1,198.5 417.8,198.5 423.4,198.5 429.1,198.5 434.7,198.5 440.4,198.5 446,198.5 451.7,198.5 457.3,198.5 463,198.5 468.6,198.5 474.2,198.5 479.9,198.6 485.5,198.6 491.2,198.6 496.8,198.6 502.5,198.6 508.1,198.6 513.8,198.7 519.4,198.7 525.1,198.7 530.7,198.7 536.4,198.8 542,198.8 542,200.1 536.4,200.1 530.7,200 525.1,200 519.4,199.9 513.8,199.9 508.1,199.9 502.5,199.8 496.8,199.8 491.2,199.8 485.5,199.7 479.9,199.7 474.2,199.7 468.6,199.7 463,199.7 457.3,199.6 451.7,199.6 446,199.6 440.4,199.6 434.7,199.6 429.1,199.6 423.4,199.6 417.8,199.6 412.1,199.6 406.5,199.6" fill="rgba(238,118,118,0.11)"/>
<polygon points="406.5,198.4 412.1,198.4 417.8,198.4 423.4,198.4 429.1,198.4 434.7,198.4 440.4,198.4 446,198.4 451.7,198.4 457.3,198.4 463,198.4 468.6,198.4 474.2,198.4 479.9,198.4 485.5,198.5 491.2,198.5 496.8,198.5 502.5,198.5 508.1,198.5 513.8,198.5 519.4,198.6 525.1,198.6 530.7,198.6 536.4,198.6 542,198.6 542,200.2 536.4,200.2 530.7,200.1 525.1,200.1 519.4,200.1 513.8,200 508.1,200 502.5,200 496.8,199.9 491.2,199.9 485.5,199.9 479.9,199.8 474.2,199.8 468.6,199.8 463,199.8 457.3,199.8 451.7,199.7 446,199.7 440.4,199.7 434.7,199.7 429.1,199.7 423.4,199.7 417.8,199.7 412.1,199.7 406.5,199.7" fill="url(#pg)" fill-opacity="0.29"/>
<polygon points="406.5,194.5 412.1,194.5 417.8,194.5 423.4,194.5 429.1,194.5 434.7,194.5 440.4,194.5 446,194.4 451.7,194.4 457.3,194.4 463,194.4 468.6,194.4 474.2,194.4 479.9,194.3 485.5,194.3 491.2,194.3 496.8,194.3 502.5,194.2 508.1,194.2 513.8,194.2 519.4,194.1 525.1,194.1 530.7,194 536.4,194 542,194 542,195.3 536.4,195.3 530.7,195.3 525.1,195.4 519.4,195.4 513.8,195.4 508.1,195.4 502.5,195.4 496.8,195.5 491.2,195.5 485.5,195.5 479.9,195.5 474.2,195.5 468.6,195.5 463,195.5 457.3,195.5 451.7,195.5 446,195.6 440.4,195.6 434.7,195.6 429.1,195.6 423.4,195.6 417.8,195.6 412.1,195.6 406.5,195.6" fill="url(#pg)" fill-opacity="0.13"/>
<polygon points="406.5,196.3 412.1,196.3 417.8,196.3 423.4,196.3 429.1,196.3 434.7,196.3 440.4,196.3 446,196.3 451.7,196.3 457.3,196.3 463,196.3 468.6,196.3 474.2,196.3 479.9,196.3 485.5,196.3 491.2,196.3 496.8,196.3 502.5,196.3 508.1,196.3 513.8,196.2 519.4,196.2 525.1,196.2 530.7,196.2 536.4,196.2 542,196.2 542,197.9 536.4,197.9 530.7,197.8 525.1,197.8 519.4,197.8 513.8,197.8 508.1,197.8 502.5,197.8 496.8,197.8 491.2,197.8 485.5,197.8 479.9,197.8 474.2,197.8 468.6,197.8 463,197.8 457.3,197.7 451.7,197.7 446,197.7 440.4,197.7 434.7,197.7 429.1,197.7 423.4,197.7 417.8,197.7 412.1,197.7 406.5,197.7" fill="rgba(60,60,60,0.59)"/>
<polygon points="406.5,205 412.1,205 417.8,205 423.4,205 429.1,205 434.7,205 440.4,205 446,205 451.7,205 457.3,205 463,204.9 468.6,204.9 474.2,204.9 479.9,204.9 485.5,204.9 491.2,204.8 496.8,204.8 502.5,204.8 508.1,204.8 513.8,204.7 519.4,204.7 525.1,204.7 530.7,204.6 536.4,204.6 542,204.6 542,205.9 536.4,205.9 530.7,205.9 525.1,205.9 519.4,205.9 513.8,206 508.1,206 502.5,206 496.8,206 491.2,206 485.5,206 479.9,206 474.2,206.1 468.6,206.1 463,206.1 457.3,206.1 451.7,206.1 446,206.1 440.4,206.1 434.7,206.1 429.1,206.1 423.4,206.1 417.8,206.1 412.1,206.1 406.5,206.1" fill="rgba(238,118,118,0.11)"/>
<polygon points="406.5,209 412.1,209 417.8,209 423.4,209 429.1,209 434.7,209 440.4,209 446,209 451.7,209 457.3,209 463,209.1 468.6,209.1 474.2,209.1 479.9,209.1 485.5,209.1 491.2,209.1 496.8,209.1 502.5,209.1 508.1,209.1 513.8,209.2 519.4,209.2 525.1,209.2 530.7,209.2 536.4,209.2 542,209.3 542,210.6 536.4,210.5 530.7,210.5 525.1,210.4 519.4,210.4 513.8,210.4 508.1,210.3 502.5,210.3 496.8,210.3 491.2,210.3 485.5,210.3 479.9,210.2 474.2,210.2 468.6,210.2 463,210.2 457.3,210.2 451.7,210.2 446,210.1 440.4,210.1 434.7,210.1 429.1,210.1 423.4,210.1 417.8,210.1 412.1,210.1 406.5,210.1" fill="rgba(238,118,118,0.11)"/>
<polygon points="406.5,208.9 412.1,208.9 417.8,208.9 423.4,208.9 429.1,208.9 434.7,208.9 440.4,208.9 446,208.9 451.7,208.9 457.3,208.9 463,208.9 468.6,208.9 474.2,209 479.9,209 485.5,209 491.2,209 496.8,209 502.5,209 508.1,209 513.8,209 519.4,209.1 525.1,209.1 530.7,209.1 536.4,209.1 542,209.1 542,210.7 536.4,210.6 530.7,210.6 525.1,210.6 519.4,210.5 513.8,210.5 508.1,210.5 502.5,210.4 496.8,210.4 491.2,210.4 485.5,210.4 479.9,210.3 474.2,210.3 468.6,210.3 463,210.3 457.3,210.3 451.7,210.3 446,210.3 440.4,210.2 434.7,210.2 429.1,210.2 423.4,210.2 417.8,210.2 412.1,210.2 406.5,210.2" fill="url(#pg)" fill-opacity="0.29"/>
<polygon points="406.5,205 412.1,205 417.8,205 423.4,205 429.1,205 434.7,205 440.4,205 446,205 451.7,205 457.3,205 463,204.9 468.6,204.9 474.2,204.9 479.9,204.9 485.5,204.9 491.2,204.8 496.8,204.8 502.5,204.8 508.1,204.8 513.8,204.7 519.4,204.7 525.1,204.7 530.7,204.6 536.4,204.6 542,204.6 542,205.9 536.4,205.9 530.7,205.9 525.1,205.9 519.4,205.9 513.8,206 508.1,206 502.5,206 496.8,206 491.2,206 485.5,206 479.9,206 474.2,206.1 468.6,206.1 463,206.1 457.3,206.1 451.7,206.1 446,206.1 440.4,206.1 434.7,206.1 429.1,206.1 423.4,206.1 417.8,206.1 412.1,206.1 406.5,206.1" fill="url(#pg)" fill-opacity="0.13"/>
<polygon points="406.5,206.9 412.1,206.9 417.8,206.9 423.4,206.9 429.1,206.9 434.7,206.9 440.4,206.9 446,206.9 451.7,206.8 457.3,206.8 463,206.8 468.6,206.8 474.2,206.8 479.9,206.8 485.5,206.8 491.2,206.8 496.8,206.8 502.5,206.8 508.1,206.8 508.1,208.3 502.5,208.3 496.8,208.3 491.2,208.3 485.5,208.3 479.9,208.3 474.2,208.3 468.6,208.3 463,208.3 457.3,208.3 451.7,208.3 446,208.3 440.4,208.3 434.7,208.3 429.1,208.3 423.4,208.3 417.8,208.3 412.1,208.3 406.5,208.3" fill="rgba(60,60,60,0.59)"/>
<polygon points="520.8,206.8 526.5,206.8 532.1,206.8 537.8,206.7 542,206.7 542,208.4 537.8,208.4 532.1,208.4 526.5,208.4 520.8,208.3" fill="rgba(60,60,60,0.59)"/>
<polygon points="406.5,218 412.1,218 417.8,218 423.4,218 429.1,218 434.7,218 440.4,218 446,218 451.7,217.9 457.3,217.9 463,217.9 468.6,217.9 474.2,217.9 479.9,217.9 485.5,217.9 491.2,217.9 496.8,217.9 502.5,217.9 508.1,217.8 513.8,217.8 519.4,217.8 525.1,217.8 530.7,217.8 536.4,217.8 542,217.8 542,218.9 536.4,219 530.7,219 525.1,219 519.4,219 513.8,219 508.1,219 502.5,219 496.8,219 491.2,219 485.5,219 479.9,219 474.2,219 468.6,219 463,219 457.3,219.1 451.7,219.1 446,219.1 440.4,219.1 434.7,219.1 429.1,219.1 423.4,219.1 417.8,219.1 412.1,219.1 406.5,219.1" fill="rgba(238,118,118,0.10)"/>
<polygon points="406.5,222 412.1,222 417.8,222 423.4,222 429.1,222 434.7,222 440.4,222 446,222 451.7,222 457.3,222 463,222 468.6,222 474.2,222 479.9,222 485.5,222 491.2,222 496.8,222 502.5,222 508.1,222 513.8,222 519.4,222.1 525.1,222.1 530.7,222.1 536.4,222.1 542,222.1 542,223.3 536.4,223.3 530.7,223.3 525.1,223.2 519.4,223.2 513.8,223.2 508.1,223.2 502.5,223.2 496.8,223.2 491.2,223.2 485.5,223.1 479.9,223.1 474.2,223.1 468.6,223.1 463,223.1 457.3,223.1 451.7,223.1 446,223.1 440.4,223.1 434.7,223.1 429.1,223.1 423.4,223.1 417.8,223.1 412.1,223.1 406.5,223.1" fill="rgba(238,118,118,0.10)"/>
<polygon points="406.5,219.8 412.1,219.8 417.8,219.8 423.4,219.8 429.1,219.8 434.7,219.8 440.4,219.8 446,219.8 451.7,219.8 457.3,219.8 463,219.8 468.6,219.8 474.2,219.8 479.9,219.8 485.5,219.8 491.2,219.8 496.8,219.8 502.5,219.8 508.1,219.8 513.8,219.8 519.4,219.8 525.1,219.8 530.7,219.8 536.4,219.8 542,219.8 542,221.3 536.4,221.3 530.7,221.3 525.1,221.3 519.4,221.3 513.8,221.3 508.1,221.3 502.5,221.2 496.8,221.2 491.2,221.2 485.5,221.2 479.9,221.2 474.2,221.2 468.6,221.2 463,221.2 457.3,221.2 451.7,221.2 446,221.2 440.4,221.2 434.7,221.2 429.1,221.2 423.4,221.2 417.8,221.2 412.1,221.2 406.5,221.2" fill="rgba(60,60,60,0.54)"/>
<polygon points="406.5,154.4 412.1,154.4 417.8,154.5 423.4,154.6 429.1,154.7 434.7,154.9 440.4,155.1 446,155.4 451.7,155.7 457.3,156 463,156.4 468.6,156.8 474.2,157.3 479.9,157.8 485.5,158.4 491.2,159 496.8,159.7 502.5,160.4 508.1,161.2 513.8,162 519.4,163 525.1,164 530.7,165 536.4,166.2 542,167.4 542,168.9 536.4,167.6 530.7,166.5 525.1,165.4 519.4,164.4 513.8,163.4 508.1,162.5 502.5,161.7 496.8,161 491.2,160.3 485.5,159.6 479.9,159 474.2,158.5 468.6,158 463,157.6 457.3,157.2 451.7,156.8 446,156.5 440.4,156.3 434.7,156 429.1,155.8 423.4,155.7 417.8,155.6 412.1,155.5 406.5,155.5" fill="rgba(60,60,60,0.17)"/>
<polygon points="406.5,158.4 412.1,158.5 417.8,158.5 423.4,158.6 429.1,158.8 434.7,159 440.4,159.2 446,159.5 451.7,159.8 457.3,160.2 463,160.7 468.6,161.1 474.2,161.7 479.9,162.3 485.5,162.9 491.2,163.6 496.8,164.3 502.5,165.2 508.1,166.1 513.8,167 519.4,168 525.1,169.1 530.7,170.3 536.4,171.5 542,172.8 542,174.3 536.4,173 530.7,171.7 525.1,170.5 519.4,169.4 513.8,168.4 508.1,167.4 502.5,166.5 496.8,165.6 491.2,164.8 485.5,164.1 479.9,163.5 474.2,162.9 468.6,162.3 463,161.8 457.3,161.4 451.7,161 446,160.6 440.4,160.3 434.7,160.1 429.1,159.9 423.4,159.7 417.8,159.6 412.1,159.6 406.5,159.5" fill="rgba(60,60,60,0.17)"/>
<polygon points="406.5,156.3 412.1,156.3 417.8,156.4 423.4,156.5 429.1,156.6 434.7,156.8 440.4,157 446,157.3 451.7,157.6 457.3,158 463,158.4 468.6,158.8 474.2,159.3 479.9,159.9 485.5,160.5 491.2,161.1 496.8,161.8 502.5,162.6 508.1,163.4 513.8,164.3 519.4,165.3 525.1,166.3 530.7,167.5 536.4,168.6 542,169.9 542,171.8 536.4,170.5 530.7,169.3 525.1,168.2 519.4,167.1 513.8,166.1 508.1,165.1 502.5,164.3 496.8,163.5 491.2,162.7 485.5,162 479.9,161.4 474.2,160.9 468.6,160.3 463,159.9 457.3,159.4 451.7,159.1 446,158.7 440.4,158.5 434.7,158.2 429.1,158 423.4,157.9 417.8,157.8 412.1,157.7 406.5,157.7" fill="rgba(238,118,118,0.38)"/>
<polygon points="406.5,176 412.1,176 417.8,176.1 423.4,176.2 429.1,176.3 434.7,176.5 440.4,176.7 446,176.9 451.7,177.2 457.3,177.5 463,177.9 468.6,178.3 474.2,178.7 479.9,179.2 485.5,179.8 491.2,180.3 496.8,181 502.5,181.6 508.1,182.4 513.8,183.1 519.4,184 525.1,184.9 530.7,185.8 536.4,186.8 542,187.8 542,189.2 536.4,188.1 530.7,187.1 525.1,186.2 519.4,185.3 513.8,184.4 508.1,183.6 502.5,182.9 496.8,182.2 491.2,181.5 485.5,181 479.9,180.4 474.2,179.9 468.6,179.5 463,179 457.3,178.7 451.7,178.4 446,178.1 440.4,177.8 434.7,177.6 429.1,177.4 423.4,177.3 417.8,177.2 412.1,177.1 406.5,177.1" fill="rgba(60,60,60,0.17)"/>
<polygon points="406.5,180 412.1,180.1 417.8,180.1 423.4,180.2 429.1,180.4 434.7,180.5 440.4,180.8 446,181 451.7,181.3 457.3,181.7 463,182.1 468.6,182.5 474.2,183 479.9,183.5 485.5,184.1 491.2,184.7 496.8,185.4 502.5,186.1 508.1,186.9 513.8,187.8 519.4,188.6 525.1,189.6 530.7,190.6 536.4,191.6 542,192.8 542,194.1 536.4,193 530.7,191.9 525.1,190.9 519.4,189.9 513.8,189 508.1,188.2 502.5,187.4 496.8,186.6 491.2,185.9 485.5,185.3 479.9,184.7 474.2,184.2 468.6,183.7 463,183.2 457.3,182.8 451.7,182.5 446,182.1 440.4,181.9 434.7,181.6 429.1,181.5 423.4,181.3 417.8,181.2 412.1,181.2 406.5,181.1" fill="rgba(60,60,60,0.17)"/>
<polygon points="406.5,177.9 412.1,177.9 417.8,178 423.4,178.1 429.1,178.2 434.7,178.4 440.4,178.6 446,178.8 451.7,179.1 457.3,179.5 463,179.8 468.6,180.3 474.2,180.7 479.9,181.2 485.5,181.8 491.2,182.4 496.8,183 502.5,183.7 508.1,184.5 513.8,185.3 519.4,186.1 525.1,187 530.7,188 536.4,189 542,190.1 542,191.8 536.4,190.7 530.7,189.7 525.1,188.7 519.4,187.8 513.8,186.9 508.1,186.1 502.5,185.3 496.8,184.6 491.2,183.9 485.5,183.3 479.9,182.7 474.2,182.2 468.6,181.7 463,181.3 457.3,180.9 451.7,180.6 446,180.3 440.4,180 434.7,179.8 429.1,179.6 423.4,179.5 417.8,179.4 412.1,179.3 406.5,179.3" fill="rgba(238,118,118,0.38)"/>
<polygon points="406.5,206 412.1,206 417.8,206.1 423.4,206.1 429.1,206.2 434.7,206.4 440.4,206.5 446,206.7 451.7,207 457.3,207.2 463,207.5 468.6,207.8 474.2,208.2 479.9,208.6 485.5,209 491.2,209.4 496.8,209.9 502.5,210.5 508.1,211 513.8,211.6 519.4,212.3 525.1,212.9 530.7,213.7 536.4,214.4 542,215.2 542,216.5 536.4,215.7 530.7,214.9 525.1,214.2 519.4,213.5 513.8,212.8 508.1,212.2 502.5,211.6 496.8,211.1 491.2,210.6 485.5,210.1 479.9,209.7 474.2,209.3 468.6,209 463,208.6 457.3,208.3 451.7,208.1 446,207.8 440.4,207.6 434.7,207.5 429.1,207.3 423.4,207.2 417.8,207.2 412.1,207.1 406.5,207.1" fill="rgba(60,60,60,0.17)"/>
<polygon points="406.5,210 412.1,210 417.8,210.1 423.4,210.1 429.1,210.3 434.7,210.4 440.4,210.6 446,210.8 451.7,211 457.3,211.3 463,211.6 468.6,212 474.2,212.3 479.9,212.7 485.5,213.2 491.2,213.7 496.8,214.2 502.5,214.8 508.1,215.4 513.8,216 519.4,216.7 525.1,217.4 530.7,218.1 536.4,218.9 542,219.8 542,221 536.4,220.2 530.7,219.4 525.1,218.6 519.4,217.9 513.8,217.2 508.1,216.5 502.5,215.9 496.8,215.4 491.2,214.8 485.5,214.4 479.9,213.9 474.2,213.5 468.6,213.1 463,212.7 457.3,212.4 451.7,212.1 446,211.9 440.4,211.7 434.7,211.5 429.1,211.4 423.4,211.2 417.8,211.2 412.1,211.1 406.5,211.1" fill="rgba(60,60,60,0.17)"/>
<polygon points="406.5,207.9 412.1,207.9 417.8,207.9 423.4,208 429.1,208.1 434.7,208.2 440.4,208.4 446,208.6 451.7,208.8 457.3,209.1 463,209.4 468.6,209.7 474.2,210.1 479.9,210.5 485.5,210.9 491.2,211.4 496.8,211.9 502.5,212.4 508.1,213 513.8,213.6 519.4,214.3 525.1,215 530.7,215.7 536.4,216.5 542,217.3 542,218.9 536.4,218.1 530.7,217.3 525.1,216.5 519.4,215.8 513.8,215.2 508.1,214.5 502.5,214 496.8,213.4 491.2,212.9 485.5,212.4 479.9,212 474.2,211.6 468.6,211.2 463,210.8 457.3,210.5 451.7,210.3 446,210 440.4,209.8 434.7,209.6 429.1,209.5 423.4,209.4 417.8,209.3 412.1,209.3 406.5,209.2" fill="rgba(238,118,118,0.38)"/>
<polygon points="406.5,218.5 412.1,218.5 417.8,218.6 423.4,218.6 429.1,218.7 434.7,218.8 440.4,219 446,219.2 451.7,219.4 457.3,219.6 463,219.9 468.6,220.1 474.2,220.4 479.9,220.8 485.5,221.1 491.2,221.5 496.8,221.9 502.5,222.4 508.1,222.8 513.8,223.3 519.4,223.8 525.1,224.4 530.7,224.9 536.4,225.5 542,226.1 542,227.3 536.4,226.7 530.7,226.1 525.1,225.5 519.4,225 513.8,224.4 508.1,224 502.5,223.5 496.8,223.1 491.2,222.6 485.5,222.3 479.9,221.9 474.2,221.6 468.6,221.2 463,221 457.3,220.7 451.7,220.5 446,220.3 440.4,220.1 434.7,219.9 429.1,219.8 423.4,219.7 417.8,219.7 412.1,219.6 406.5,219.6" fill="rgba(60,60,60,0.11)"/>
<polygon points="406.5,222.5 412.1,222.5 417.8,222.6 423.4,222.6 429.1,222.7 434.7,222.9 440.4,223 446,223.2 451.7,223.4 457.3,223.6 463,223.9 468.6,224.2 474.2,224.5 479.9,224.8 485.5,225.2 491.2,225.6 496.8,226 502.5,226.4 508.1,226.9 513.8,227.4 519.4,227.9 525.1,228.5 530.7,229.1 536.4,229.7 542,230.3 542,231.4 536.4,230.8 530.7,230.2 525.1,229.6 519.4,229.1 513.8,228.5 508.1,228 502.5,227.6 496.8,227.1 491.2,226.7 485.5,226.3 479.9,225.9 474.2,225.6 468.6,225.3 463,225 457.3,224.7 451.7,224.5 446,224.3 440.4,224.1 434.7,224 429.1,223.8 423.4,223.7 417.8,223.7 412.1,223.6 406.5,223.6" fill="rgba(60,60,60,0.11)"/>
<polygon points="406.5,220.4 412.1,220.4 417.8,220.4 423.4,220.5 429.1,220.6 434.7,220.7 440.4,220.8 446,221 451.7,221.2 457.3,221.5 463,221.7 468.6,222 474.2,222.3 479.9,222.6 485.5,223 491.2,223.4 496.8,223.8 502.5,224.3 508.1,224.7 513.8,225.2 519.4,225.7 525.1,226.3 530.7,226.8 536.4,227.4 542,228 542,229.5 536.4,228.9 530.7,228.3 525.1,227.7 519.4,227.2 513.8,226.6 508.1,226.2 502.5,225.7 496.8,225.2 491.2,224.8 485.5,224.4 479.9,224.1 474.2,223.7 468.6,223.4 463,223.1 457.3,222.9 451.7,222.6 446,222.4 440.4,222.3 434.7,222.1 429.1,222 423.4,221.9 417.8,221.8 412.1,221.8 406.5,221.8" fill="rgba(238,118,118,0.24)"/>
<polygon points="406.5,237.2 412.1,237.2 417.8,237.3 423.4,237.3 429.1,237.4 434.7,237.4 440.4,237.5 446,237.7 451.7,237.8 457.3,237.9 463,238.1 468.6,238.3 474.2,238.5 479.9,238.7 485.5,238.9 491.2,239.2 496.8,239.4 502.5,239.7 508.1,240 513.8,240.3 519.4,240.7 525.1,241 530.7,241.4 536.4,241.8 542,242.2 542,243.3 536.4,242.9 530.7,242.5 525.1,242.1 519.4,241.8 513.8,241.5 508.1,241.1 502.5,240.8 496.8,240.5 491.2,240.3 485.5,240 479.9,239.8 474.2,239.6 468.6,239.4 463,239.2 457.3,239 451.7,238.9 446,238.8 440.4,238.6 434.7,238.5 429.1,238.5 423.4,238.4 417.8,238.4 412.1,238.3 406.5,238.3" fill="rgba(60,60,60,0.11)"/>
<polygon points="406.5,241.2 412.1,241.2 417.8,241.3 423.4,241.3 429.1,241.4 434.7,241.5 440.4,241.5 446,241.7 451.7,241.8 457.3,241.9 463,242.1 468.6,242.3 474.2,242.5 479.9,242.7 485.5,243 491.2,243.2 496.8,243.5 502.5,243.8 508.1,244.1 513.8,244.4 519.4,244.8 525.1,245.1 530.7,245.5 536.4,245.9 542,246.3 542,247.4 536.4,247 530.7,246.6 525.1,246.2 519.4,245.9 513.8,245.5 508.1,245.2 502.5,244.9 496.8,244.6 491.2,244.3 485.5,244.1 479.9,243.8 474.2,243.6 468.6,243.4 463,243.2 457.3,243.1 451.7,242.9 446,242.8 440.4,242.7 434.7,242.6 429.1,242.5 423.4,242.4 417.8,242.4 412.1,242.3 406.5,242.3" fill="rgba(60,60,60,0.11)"/>
<polygon points="406.5,239.1 412.1,239.1 417.8,239.1 423.4,239.2 429.1,239.2 434.7,239.3 440.4,239.4 446,239.5 451.7,239.6 457.3,239.8 463,240 468.6,240.1 474.2,240.3 479.9,240.6 485.5,240.8 491.2,241 496.8,241.3 502.5,241.6 508.1,241.9 513.8,242.2 519.4,242.6 525.1,242.9 530.7,243.3 536.4,243.7 542,244.1 542,245.5 536.4,245.1 530.7,244.7 525.1,244.3 519.4,244 513.8,243.6 508.1,243.3 502.5,243 496.8,242.7 491.2,242.5 485.5,242.2 479.9,242 474.2,241.7 468.6,241.5 463,241.4 457.3,241.2 451.7,241 446,240.9 440.4,240.8 434.7,240.7 429.1,240.6 423.4,240.6 417.8,240.5 412.1,240.5 406.5,240.5" fill="rgba(238,118,118,0.24)"/>
<polygon points="406.5,252.6 412.1,252.6 417.8,252.6 423.4,252.7 429.1,252.7 434.7,252.8 440.4,252.8 446,252.9 451.7,253 457.3,253.1 463,253.2 468.6,253.3 474.2,253.4 479.9,253.6 485.5,253.7 491.2,253.9 496.8,254 502.5,254.2 508.1,254.4 513.8,254.6 519.4,254.8 525.1,255 530.7,255.3 536.4,255.5 542,255.8 542,256.9 536.4,256.7 530.7,256.4 525.1,256.2 519.4,255.9 513.8,255.7 508.1,255.5 502.5,255.3 496.8,255.1 491.2,255 485.5,254.8 479.9,254.7 474.2,254.5 468.6,254.4 463,254.3 457.3,254.2 451.7,254.1 446,254 440.4,253.9 434.7,253.9 429.1,253.8 423.4,253.8 417.8,253.7 412.1,253.7 406.5,253.7" fill="rgba(60,60,60,0.11)"/>
<polygon points="406.5,256.6 412.1,256.6 417.8,256.6 423.4,256.7 429.1,256.7 434.7,256.8 440.4,256.8 446,256.9 451.7,257 457.3,257.1 463,257.2 468.6,257.3 474.2,257.4 479.9,257.6 485.5,257.7 491.2,257.9 496.8,258.1 502.5,258.3 508.1,258.5 513.8,258.7 519.4,258.9 525.1,259.1 530.7,259.4 536.4,259.6 542,259.9 542,261 536.4,260.8 530.7,260.5 525.1,260.3 519.4,260 513.8,259.8 508.1,259.6 502.5,259.4 496.8,259.2 491.2,259 485.5,258.9 479.9,258.7 474.2,258.6 468.6,258.4 463,258.3 457.3,258.2 451.7,258.1 446,258 440.4,257.9 434.7,257.9 429.1,257.8 423.4,257.8 417.8,257.7 412.1,257.7 406.5,257.7" fill="rgba(60,60,60,0.11)"/>
<polygon points="406.5,254.5 412.1,254.5 417.8,254.5 423.4,254.5 429.1,254.6 434.7,254.6 440.4,254.7 446,254.7 451.7,254.8 457.3,254.9 463,255 468.6,255.2 474.2,255.3 479.9,255.4 485.5,255.6 491.2,255.7 496.8,255.9 502.5,256.1 508.1,256.3 513.8,256.5 519.4,256.7 525.1,256.9 530.7,257.2 536.4,257.4 542,257.7 542,259.1 536.4,258.9 530.7,258.6 525.1,258.4 519.4,258.1 513.8,257.9 508.1,257.7 502.5,257.5 496.8,257.3 491.2,257.2 485.5,257 479.9,256.8 474.2,256.7 468.6,256.6 463,256.4 457.3,256.3 451.7,256.2 446,256.1 440.4,256.1 434.7,256 429.1,256 423.4,255.9 417.8,255.9 412.1,255.9 406.5,255.9" fill="rgba(238,118,118,0.24)"/>
<polygon points="406.5,263.1 412.1,263.2 417.8,263.2 423.4,263.2 429.1,263.2 434.7,263.2 440.4,263.3 446,263.3 451.7,263.4 457.3,263.5 463,263.5 468.6,263.6 474.2,263.7 479.9,263.8 485.5,263.9 491.2,264 496.8,264.1 502.5,264.2 508.1,264.4 513.8,264.5 519.4,264.6 525.1,264.8 530.7,264.9 536.4,265.1 542,265.3 542,266.4 536.4,266.2 530.7,266.1 525.1,265.9 519.4,265.8 513.8,265.6 508.1,265.5 502.5,265.3 496.8,265.2 491.2,265.1 485.5,265 479.9,264.9 474.2,264.8 468.6,264.7 463,264.6 457.3,264.6 451.7,264.5 446,264.4 440.4,264.4 434.7,264.3 429.1,264.3 423.4,264.3 417.8,264.3 412.1,264.3 406.5,264.2" fill="rgba(60,60,60,0.11)"/>
<polygon points="406.5,267.1 412.1,267.2 417.8,267.2 423.4,267.2 429.1,267.2 434.7,267.2 440.4,267.3 446,267.3 451.7,267.4 457.3,267.5 463,267.5 468.6,267.6 474.2,267.7 479.9,267.8 485.5,267.9 491.2,268 496.8,268.1 502.5,268.3 508.1,268.4 513.8,268.6 519.4,268.7 525.1,268.9 530.7,269 536.4,269.2 542,269.4 542,270.5 536.4,270.3 530.7,270.2 525.1,270 519.4,269.8 513.8,269.7 508.1,269.5 502.5,269.4 496.8,269.3 491.2,269.1 485.5,269 479.9,268.9 474.2,268.8 468.6,268.7 463,268.6 457.3,268.6 451.7,268.5 446,268.4 440.4,268.4 434.7,268.3 429.1,268.3 423.4,268.3 417.8,268.3 412.1,268.3 406.5,268.2" fill="rgba(60,60,60,0.11)"/>
<polygon points="406.5,265 412.1,265 417.8,265 423.4,265 429.1,265.1 434.7,265.1 440.4,265.1 446,265.2 451.7,265.2 457.3,265.3 463,265.4 468.6,265.5 474.2,265.5 479.9,265.6 485.5,265.7 491.2,265.9 496.8,266 502.5,266.1 508.1,266.2 513.8,266.4 519.4,266.5 525.1,266.7 530.7,266.8 536.4,267 542,267.2 542,268.6 536.4,268.4 530.7,268.3 525.1,268.1 519.4,267.9 513.8,267.8 508.1,267.7 502.5,267.5 496.8,267.4 491.2,267.3 485.5,267.2 479.9,267.1 474.2,267 468.6,266.9 463,266.8 457.3,266.7 451.7,266.6 446,266.6 440.4,266.5 434.7,266.5 429.1,266.5 423.4,266.4 417.8,266.4 412.1,266.4 406.5,266.4" fill="rgba(238,118,118,0.24)"/>
<polygon points="406.5,276.1 412.1,276.1 417.8,276.1 423.4,276.1 429.1,276.1 434.7,276.2 440.4,276.2 446,276.2 451.7,276.2 457.3,276.3 463,276.3 468.6,276.3 474.2,276.4 479.9,276.4 485.5,276.5 491.2,276.5 496.8,276.6 502.5,276.6 508.1,276.7 513.8,276.8 519.4,276.8 525.1,276.9 530.7,277 536.4,277.1 542,277.2 542,278.3 536.4,278.2 530.7,278.1 525.1,278 519.4,278 513.8,277.9 508.1,277.8 502.5,277.7 496.8,277.7 491.2,277.6 485.5,277.6 479.9,277.5 474.2,277.5 468.6,277.4 463,277.4 457.3,277.4 451.7,277.3 446,277.3 440.4,277.3 434.7,277.3 429.1,277.2 423.4,277.2 417.8,277.2 412.1,277.2 406.5,277.2" fill="rgba(60,60,60,0.10)"/>
<polygon points="406.5,280.1 412.1,280.1 417.8,280.1 423.4,280.1 429.1,280.1 434.7,280.2 440.4,280.2 446,280.2 451.7,280.2 457.3,280.3 463,280.3 468.6,280.4 474.2,280.4 479.9,280.4 485.5,280.5 491.2,280.6 496.8,280.6 502.5,280.7 508.1,280.8 513.8,280.8 519.4,280.9 525.1,281 530.7,281.1 536.4,281.2 542,281.3 542,282.4 536.4,282.3 530.7,282.2 525.1,282.1 519.4,282 513.8,281.9 508.1,281.9 502.5,281.8 496.8,281.7 491.2,281.7 485.5,281.6 479.9,281.6 474.2,281.5 468.6,281.5 463,281.4 457.3,281.4 451.7,281.3 446,281.3 440.4,281.3 434.7,281.3 429.1,281.2 423.4,281.2 417.8,281.2 412.1,281.2 406.5,281.2" fill="rgba(60,60,60,0.10)"/>
<polygon points="406.5,278 412.1,278 417.8,278 423.4,278 429.1,278 434.7,278 440.4,278 446,278.1 451.7,278.1 457.3,278.1 463,278.1 468.6,278.2 474.2,278.2 479.9,278.3 485.5,278.3 491.2,278.4 496.8,278.4 502.5,278.5 508.1,278.6 513.8,278.6 519.4,278.7 525.1,278.8 530.7,278.9 536.4,279 542,279 542,280.5 536.4,280.4 530.7,280.3 525.1,280.2 519.4,280.1 513.8,280.1 508.1,280 502.5,279.9 496.8,279.9 491.2,279.8 485.5,279.7 479.9,279.7 474.2,279.6 468.6,279.6 463,279.6 457.3,279.5 451.7,279.5 446,279.5 440.4,279.4 434.7,279.4 429.1,279.4 423.4,279.4 417.8,279.4 412.1,279.4 406.5,279.4" fill="rgba(238,118,118,0.23)"/>
<polygon points="406.5,197.6 412.1,197.6 417.8,197.7 423.4,197.8 429.1,197.9 434.7,198.1 440.4,198.3 446,198.5 451.7,198.8 457.3,199.1 463,199.5 468.6,199.9 474.2,200.3 479.9,200.8 485.5,201.3 491.2,201.9 496.8,202.5 502.5,203.1 508.1,203.8 513.8,204.5 519.4,205.3 525.1,206.1 530.7,207 536.4,208 542,208.9 542,210.2 536.4,209.2 530.7,208.3 525.1,207.4 519.4,206.5 513.8,205.7 508.1,205 502.5,204.3 496.8,203.6 491.2,203 485.5,202.5 479.9,201.9 474.2,201.5 468.6,201 463,200.6 457.3,200.2 451.7,199.9 446,199.6 440.4,199.4 434.7,199.2 429.1,199 423.4,198.9 417.8,198.8 412.1,198.7 406.5,198.7" fill="rgba(60,60,60,0.14)"/>
<polygon points="406.5,201.6 412.1,201.6 417.8,201.7 423.4,201.8 429.1,201.9 434.7,202.1 440.4,202.3 446,202.6 451.7,202.9 457.3,203.2 463,203.6 468.6,204 474.2,204.5 479.9,205 485.5,205.5 491.2,206.1 496.8,206.8 502.5,207.4 508.1,208.2 513.8,208.9 519.4,209.8 525.1,210.7 530.7,211.6 536.4,212.6 542,213.6 542,214.9 536.4,213.8 530.7,212.8 525.1,211.9 519.4,211 513.8,210.1 508.1,209.4 502.5,208.6 496.8,207.9 491.2,207.3 485.5,206.7 479.9,206.1 474.2,205.6 468.6,205.2 463,204.7 457.3,204.3 451.7,204 446,203.7 440.4,203.4 434.7,203.2 429.1,203 423.4,202.9 417.8,202.8 412.1,202.7 406.5,202.7" fill="rgba(60,60,60,0.14)"/>
<polygon points="406.5,199.5 412.1,199.5 417.8,199.6 423.4,199.6 429.1,199.8 434.7,200 440.4,200.2 446,200.4 451.7,200.7 457.3,201 463,201.4 468.6,201.8 474.2,202.2 479.9,202.7 485.5,203.3 491.2,203.8 496.8,204.4 502.5,205.1 508.1,205.8 513.8,206.6 519.4,207.4 525.1,208.2 530.7,209.1 536.4,210.1 542,211.1 542,212.7 536.4,211.7 530.7,210.7 525.1,209.8 519.4,208.9 513.8,208.1 508.1,207.3 502.5,206.6 496.8,205.9 491.2,205.3 485.5,204.7 479.9,204.2 474.2,203.7 468.6,203.2 463,202.8 457.3,202.5 451.7,202.1 446,201.8 440.4,201.6 434.7,201.4 429.1,201.2 423.4,201.1 417.8,201 412.1,200.9 406.5,200.9" fill="rgba(238,118,118,0.31)"/>
<polygon points="406.5,227.6 412.1,227.6 417.8,227.7 423.4,227.7 429.1,227.8 434.7,228 440.4,228.1 446,228.3 451.7,228.5 457.3,228.8 463,229.1 468.6,229.4 474.2,229.7 479.9,230.1 485.5,230.4 491.2,230.9 496.8,231.3 502.5,231.8 508.1,232.3 513.8,232.8 519.4,233.4 525.1,234 530.7,234.6 536.4,235.2 542,235.9 542,237 536.4,236.3 530.7,235.7 525.1,235.1 519.4,234.5 513.8,233.9 508.1,233.4 502.5,232.9 496.8,232.4 491.2,232 485.5,231.6 479.9,231.2 474.2,230.8 468.6,230.5 463,230.2 457.3,229.9 451.7,229.6 446,229.4 440.4,229.2 434.7,229.1 429.1,228.9 423.4,228.8 417.8,228.8 412.1,228.7 406.5,228.7" fill="rgba(60,60,60,0.11)"/>
<polygon points="406.5,231.6 412.1,231.6 417.8,231.7 423.4,231.7 429.1,231.8 434.7,232 440.4,232.1 446,232.3 451.7,232.6 457.3,232.8 463,233.1 468.6,233.4 474.2,233.7 479.9,234.1 485.5,234.5 491.2,234.9 496.8,235.4 502.5,235.9 508.1,236.4 513.8,236.9 519.4,237.5 525.1,238.1 530.7,238.7 536.4,239.3 542,240 542,241.1 536.4,240.5 530.7,239.8 525.1,239.2 519.4,238.6 513.8,238 508.1,237.5 502.5,237 496.8,236.5 491.2,236 485.5,235.6 479.9,235.2 474.2,234.8 468.6,234.5 463,234.2 457.3,233.9 451.7,233.7 446,233.4 440.4,233.2 434.7,233.1 429.1,232.9 423.4,232.8 417.8,232.8 412.1,232.7 406.5,232.7" fill="rgba(60,60,60,0.11)"/>
<polygon points="406.5,229.4 412.1,229.5 417.8,229.5 423.4,229.6 429.1,229.7 434.7,229.8 440.4,230 446,230.2 451.7,230.4 457.3,230.6 463,230.9 468.6,231.2 474.2,231.6 479.9,231.9 485.5,232.3 491.2,232.7 496.8,233.2 502.5,233.7 508.1,234.2 513.8,234.7 519.4,235.3 525.1,235.9 530.7,236.5 536.4,237.1 542,237.8 542,239.2 536.4,238.6 530.7,237.9 525.1,237.3 519.4,236.7 513.8,236.1 508.1,235.6 502.5,235.1 496.8,234.6 491.2,234.2 485.5,233.7 479.9,233.3 474.2,233 468.6,232.6 463,232.3 457.3,232 451.7,231.8 446,231.6 440.4,231.4 434.7,231.2 429.1,231.1 423.4,231 417.8,230.9 412.1,230.9 406.5,230.8" fill="rgba(238,118,118,0.24)"/>
<polygon points="406.5,240.1 412.1,240.1 417.8,240.2 423.4,240.2 429.1,240.3 434.7,240.4 440.4,240.5 446,240.7 451.7,240.9 457.3,241.1 463,241.3 468.6,241.5 474.2,241.8 479.9,242.1 485.5,242.4 491.2,242.7 496.8,243.1 502.5,243.5 508.1,243.9 513.8,244.3 519.4,244.8 525.1,245.3 530.7,245.7 536.4,246.3 542,246.8 542,247.9 536.4,247.4 530.7,246.9 525.1,246.4 519.4,245.9 513.8,245.5 508.1,245 502.5,244.6 496.8,244.2 491.2,243.9 485.5,243.5 479.9,243.2 474.2,242.9 468.6,242.6 463,242.4 457.3,242.2 451.7,242 446,241.8 440.4,241.6 434.7,241.5 429.1,241.4 423.4,241.3 417.8,241.3 412.1,241.2 406.5,241.2" fill="rgba(60,60,60,0.11)"/>
<polygon points="406.5,244.1 412.1,244.1 417.8,244.2 423.4,244.2 429.1,244.3 434.7,244.4 440.4,244.5 446,244.7 451.7,244.9 457.3,245.1 463,245.3 468.6,245.6 474.2,245.8 479.9,246.1 485.5,246.5 491.2,246.8 496.8,247.2 502.5,247.6 508.1,248 513.8,248.4 519.4,248.9 525.1,249.3 530.7,249.9 536.4,250.4 542,250.9 542,252.1 536.4,251.5 530.7,251 525.1,250.5 519.4,250 513.8,249.5 508.1,249.1 502.5,248.7 496.8,248.3 491.2,247.9 485.5,247.6 479.9,247.2 474.2,246.9 468.6,246.7 463,246.4 457.3,246.2 451.7,246 446,245.8 440.4,245.6 434.7,245.5 429.1,245.4 423.4,245.3 417.8,245.3 412.1,245.2 406.5,245.2" fill="rgba(60,60,60,0.11)"/>
<polygon points="406.5,242 412.1,242 417.8,242 423.4,242.1 429.1,242.2 434.7,242.3 440.4,242.4 446,242.5 451.7,242.7 457.3,242.9 463,243.1 468.6,243.4 474.2,243.7 479.9,244 485.5,244.3 491.2,244.6 496.8,245 502.5,245.4 508.1,245.8 513.8,246.2 519.4,246.7 525.1,247.1 530.7,247.6 536.4,248.2 542,248.7 542,250.2 536.4,249.6 530.7,249.1 525.1,248.6 519.4,248.1 513.8,247.6 508.1,247.2 502.5,246.8 496.8,246.4 491.2,246 485.5,245.7 479.9,245.4 474.2,245.1 468.6,244.8 463,244.6 457.3,244.3 451.7,244.1 446,243.9 440.4,243.8 434.7,243.7 429.1,243.6 423.4,243.5 417.8,243.4 412.1,243.4 406.5,243.4" fill="rgba(238,118,118,0.24)"/>
<polygon points="406.5,258.8 412.1,258.8 417.8,258.9 423.4,258.9 429.1,259 434.7,259 440.4,259.1 446,259.2 451.7,259.3 457.3,259.5 463,259.6 468.6,259.8 474.2,260 479.9,260.2 485.5,260.4 491.2,260.6 496.8,260.8 502.5,261.1 508.1,261.4 513.8,261.7 519.4,262 525.1,262.3 530.7,262.6 536.4,263 542,263.3 542,264.5 536.4,264.1 530.7,263.8 525.1,263.4 519.4,263.1 513.8,262.8 508.1,262.5 502.5,262.2 496.8,262 491.2,261.7 485.5,261.5 479.9,261.3 474.2,261.1 468.6,260.9 463,260.7 457.3,260.6 451.7,260.4 446,260.3 440.4,260.2 434.7,260.1 429.1,260.1 423.4,260 417.8,260 412.1,259.9 406.5,259.9" fill="rgba(60,60,60,0.11)"/>
<polygon points="406.5,262.8 412.1,262.8 417.8,262.9 423.4,262.9 429.1,263 434.7,263 440.4,263.1 446,263.2 451.7,263.3 457.3,263.5 463,263.6 468.6,263.8 474.2,264 479.9,264.2 485.5,264.4 491.2,264.6 496.8,264.9 502.5,265.2 508.1,265.4 513.8,265.7 519.4,266.1 525.1,266.4 530.7,266.7 536.4,267.1 542,267.5 542,268.6 536.4,268.2 530.7,267.8 525.1,267.5 519.4,267.2 513.8,266.9 508.1,266.6 502.5,266.3 496.8,266 491.2,265.8 485.5,265.5 479.9,265.3 474.2,265.1 468.6,264.9 463,264.7 457.3,264.6 451.7,264.5 446,264.3 440.4,264.2 434.7,264.1 429.1,264.1 423.4,264 417.8,264 412.1,263.9 406.5,263.9" fill="rgba(60,60,60,0.11)"/>
<polygon points="406.5,260.7 412.1,260.7 417.8,260.7 423.4,260.8 429.1,260.8 434.7,260.9 440.4,261 446,261.1 451.7,261.2 457.3,261.3 463,261.5 468.6,261.6 474.2,261.8 479.9,262 485.5,262.2 491.2,262.5 496.8,262.7 502.5,263 508.1,263.3 513.8,263.6 519.4,263.9 525.1,264.2 530.7,264.5 536.4,264.9 542,265.2 542,266.7 536.4,266.3 530.7,266 525.1,265.6 519.4,265.3 513.8,265 508.1,264.7 502.5,264.4 496.8,264.1 491.2,263.9 485.5,263.7 479.9,263.4 474.2,263.2 468.6,263.1 463,262.9 457.3,262.7 451.7,262.6 446,262.5 440.4,262.4 434.7,262.3 429.1,262.2 423.4,262.2 417.8,262.1 412.1,262.1 406.5,262.1" fill="rgba(238,118,118,0.24)"/>
<polygon points="406.5,274.2 412.1,274.2 417.8,274.2 423.4,274.3 429.1,274.3 434.7,274.4 440.4,274.4 446,274.5 451.7,274.6 457.3,274.6 463,274.7 468.6,274.9 474.2,275 479.9,275.1 485.5,275.3 491.2,275.4 496.8,275.6 502.5,275.7 508.1,275.9 513.8,276.1 519.4,276.3 525.1,276.5 530.7,276.8 536.4,277 542,277.3 542,278.4 536.4,278.1 530.7,277.9 525.1,277.7 519.4,277.4 513.8,277.2 508.1,277 502.5,276.9 496.8,276.7 491.2,276.5 485.5,276.4 479.9,276.2 474.2,276.1 468.6,276 463,275.9 457.3,275.8 451.7,275.7 446,275.6 440.4,275.5 434.7,275.5 429.1,275.4 423.4,275.4 417.8,275.3 412.1,275.3 406.5,275.3" fill="rgba(60,60,60,0.10)"/>
<polygon points="406.5,278.2 412.1,278.2 417.8,278.2 423.4,278.3 429.1,278.3 434.7,278.4 440.4,278.4 446,278.5 451.7,278.6 457.3,278.7 463,278.8 468.6,278.9 474.2,279 479.9,279.1 485.5,279.3 491.2,279.4 496.8,279.6 502.5,279.8 508.1,280 513.8,280.2 519.4,280.4 525.1,280.6 530.7,280.9 536.4,281.1 542,281.4 542,282.5 536.4,282.2 530.7,282 525.1,281.7 519.4,281.5 513.8,281.3 508.1,281.1 502.5,280.9 496.8,280.7 491.2,280.6 485.5,280.4 479.9,280.3 474.2,280.1 468.6,280 463,279.9 457.3,279.8 451.7,279.7 446,279.6 440.4,279.5 434.7,279.5 429.1,279.4 423.4,279.4 417.8,279.3 412.1,279.3 406.5,279.3" fill="rgba(60,60,60,0.10)"/>
<polygon points="406.5,276.1 412.1,276.1 417.8,276.1 423.4,276.1 429.1,276.2 434.7,276.2 440.4,276.3 446,276.3 451.7,276.4 457.3,276.5 463,276.6 468.6,276.7 474.2,276.8 479.9,277 485.5,277.1 491.2,277.3 496.8,277.4 502.5,277.6 508.1,277.8 513.8,278 519.4,278.2 525.1,278.4 530.7,278.7 536.4,278.9 542,279.1 542,280.6 536.4,280.3 530.7,280.1 525.1,279.9 519.4,279.6 513.8,279.4 508.1,279.2 502.5,279 496.8,278.9 491.2,278.7 485.5,278.5 479.9,278.4 474.2,278.3 468.6,278.1 463,278 457.3,277.9 451.7,277.8 446,277.7 440.4,277.7 434.7,277.6 429.1,277.6 423.4,277.5 417.8,277.5 412.1,277.5 406.5,277.5" fill="rgba(238,118,118,0.23)"/>
<polygon points="406.5,284.7 412.1,284.8 417.8,284.8 423.4,284.8 429.1,284.8 434.7,284.8 440.4,284.9 446,284.9 451.7,285 457.3,285.1 463,285.1 468.6,285.2 474.2,285.3 479.9,285.4 485.5,285.5 491.2,285.6 496.8,285.7 502.5,285.8 508.1,286 513.8,286.1 519.4,286.2 525.1,286.4 530.7,286.5 536.4,286.7 542,286.9 542,288 536.4,287.8 530.7,287.7 525.1,287.5 519.4,287.3 513.8,287.2 508.1,287.1 502.5,286.9 496.8,286.8 491.2,286.7 485.5,286.6 479.9,286.5 474.2,286.4 468.6,286.3 463,286.2 457.3,286.2 451.7,286.1 446,286 440.4,286 434.7,285.9 429.1,285.9 423.4,285.9 417.8,285.9 412.1,285.9 406.5,285.8" fill="rgba(60,60,60,0.09)"/>
<polygon points="406.5,288.8 412.1,288.8 417.8,288.8 423.4,288.8 429.1,288.8 434.7,288.8 440.4,288.9 446,288.9 451.7,289 457.3,289.1 463,289.1 468.6,289.2 474.2,289.3 479.9,289.4 485.5,289.5 491.2,289.6 496.8,289.7 502.5,289.9 508.1,290 513.8,290.1 519.4,290.3 525.1,290.5 530.7,290.6 536.4,290.8 542,291 542,292.1 536.4,291.9 530.7,291.7 525.1,291.6 519.4,291.4 513.8,291.3 508.1,291.1 502.5,291 496.8,290.9 491.2,290.7 485.5,290.6 479.9,290.5 474.2,290.4 468.6,290.3 463,290.2 457.3,290.2 451.7,290.1 446,290 440.4,290 434.7,289.9 429.1,289.9 423.4,289.9 417.8,289.9 412.1,289.9 406.5,289.9" fill="rgba(60,60,60,0.09)"/>
<polygon points="406.5,286.6 412.1,286.6 417.8,286.6 423.4,286.6 429.1,286.7 434.7,286.7 440.4,286.7 446,286.8 451.7,286.8 457.3,286.9 463,287 468.6,287.1 474.2,287.1 479.9,287.2 485.5,287.3 491.2,287.5 496.8,287.6 502.5,287.7 508.1,287.8 513.8,288 519.4,288.1 525.1,288.3 530.7,288.4 536.4,288.6 542,288.8 542,290.2 536.4,290 530.7,289.9 525.1,289.7 519.4,289.5 513.8,289.4 508.1,289.2 502.5,289.1 496.8,289 491.2,288.9 485.5,288.8 479.9,288.6 474.2,288.6 468.6,288.5 463,288.4 457.3,288.3 451.7,288.2 446,288.2 440.4,288.1 434.7,288.1 429.1,288.1 423.4,288 417.8,288 412.1,288 406.5,288" fill="rgba(238,118,118,0.21)"/>
<polygon points="406.5,297.7 412.1,297.7 417.8,297.7 423.4,297.7 429.1,297.7 434.7,297.8 440.4,297.8 446,297.8 451.7,297.8 457.3,297.9 463,297.9 468.6,298 474.2,298 479.9,298 485.5,298.1 491.2,298.2 496.8,298.2 502.5,298.3 508.1,298.4 513.8,298.4 519.4,298.5 525.1,298.6 530.7,298.7 536.4,298.8 542,298.9 542,300 536.4,299.9 530.7,299.8 525.1,299.7 519.4,299.6 513.8,299.5 508.1,299.5 502.5,299.4 496.8,299.3 491.2,299.3 485.5,299.2 479.9,299.2 474.2,299.1 468.6,299.1 463,299 457.3,299 451.7,298.9 446,298.9 440.4,298.9 434.7,298.9 429.1,298.8 423.4,298.8 417.8,298.8 412.1,298.8 406.5,298.8" fill="rgba(60,60,60,0.08)"/>
<polygon points="406.5,301.7 412.1,301.7 417.8,301.7 423.4,301.7 429.1,301.7 434.7,301.8 440.4,301.8 446,301.8 451.7,301.8 457.3,301.9 463,301.9 468.6,302 474.2,302 479.9,302.1 485.5,302.1 491.2,302.2 496.8,302.3 502.5,302.3 508.1,302.4 513.8,302.5 519.4,302.6 525.1,302.7 530.7,302.7 536.4,302.8 542,302.9 542,304.1 536.4,304 530.7,303.9 525.1,303.8 519.4,303.7 513.8,303.6 508.1,303.5 502.5,303.4 496.8,303.4 491.2,303.3 485.5,303.2 479.9,303.2 474.2,303.1 468.6,303.1 463,303 457.3,303 451.7,303 446,302.9 440.4,302.9 434.7,302.9 429.1,302.8 423.4,302.8 417.8,302.8 412.1,302.8 406.5,302.8" fill="rgba(60,60,60,0.08)"/>
<polygon points="406.5,299.6 412.1,299.6 417.8,299.6 423.4,299.6 429.1,299.6 434.7,299.6 440.4,299.6 446,299.7 451.7,299.7 457.3,299.7 463,299.8 468.6,299.8 474.2,299.9 479.9,299.9 485.5,300 491.2,300 496.8,300.1 502.5,300.2 508.1,300.2 513.8,300.3 519.4,300.4 525.1,300.5 530.7,300.6 536.4,300.7 542,300.8 542,302.2 536.4,302.1 530.7,302 525.1,301.9 519.4,301.8 513.8,301.7 508.1,301.6 502.5,301.6 496.8,301.5 491.2,301.4 485.5,301.4 479.9,301.3 474.2,301.3 468.6,301.2 463,301.2 457.3,301.1 451.7,301.1 446,301.1 440.4,301 434.7,301 429.1,301 423.4,301 417.8,301 412.1,301 406.5,301" fill="rgba(238,118,118,0.19)"/>
<polygon points="406.5,257.6 412.1,257.6 417.8,257.6 423.4,257.7 429.1,257.7 434.7,257.8 440.4,258 446,258.1 451.7,258.2 457.3,258.4 463,258.6 468.6,258.8 474.2,259.1 479.9,259.4 485.5,259.6 491.2,259.9 496.8,260.3 502.5,260.6 508.1,261 513.8,261.4 519.4,261.8 525.1,262.2 530.7,262.6 536.4,263.1 542,263.6 542,264.7 536.4,264.2 530.7,263.8 525.1,263.3 519.4,262.9 513.8,262.5 508.1,262.1 502.5,261.7 496.8,261.4 491.2,261.1 485.5,260.7 479.9,260.5 474.2,260.2 468.6,260 463,259.7 457.3,259.5 451.7,259.4 446,259.2 440.4,259.1 434.7,258.9 429.1,258.8 423.4,258.8 417.8,258.7 412.1,258.7 406.5,258.7" fill="rgba(60,60,60,0.06)"/>
<polygon points="406.5,261.6 412.1,261.6 417.8,261.6 423.4,261.7 429.1,261.7 434.7,261.8 440.4,262 446,262.1 451.7,262.3 457.3,262.4 463,262.6 468.6,262.9 474.2,263.1 479.9,263.4 485.5,263.7 491.2,264 496.8,264.3 502.5,264.7 508.1,265 513.8,265.4 519.4,265.8 525.1,266.3 530.7,266.7 536.4,267.2 542,267.7 542,268.8 536.4,268.3 530.7,267.9 525.1,267.4 519.4,267 513.8,266.6 508.1,266.2 502.5,265.8 496.8,265.4 491.2,265.1 485.5,264.8 479.9,264.5 474.2,264.2 468.6,264 463,263.8 457.3,263.5 451.7,263.4 446,263.2 440.4,263.1 434.7,262.9 429.1,262.8 423.4,262.8 417.8,262.7 412.1,262.7 406.5,262.7" fill="rgba(60,60,60,0.06)"/>
<polygon points="406.5,259.4 412.1,259.4 417.8,259.5 423.4,259.5 429.1,259.6 434.7,259.7 440.4,259.8 446,259.9 451.7,260.1 457.3,260.3 463,260.5 468.6,260.7 474.2,261 479.9,261.2 485.5,261.5 491.2,261.8 496.8,262.1 502.5,262.5 508.1,262.9 513.8,263.2 519.4,263.7 525.1,264.1 530.7,264.5 536.4,265 542,265.5 542,266.9 536.4,266.4 530.7,266 525.1,265.5 519.4,265.1 513.8,264.7 508.1,264.3 502.5,263.9 496.8,263.6 491.2,263.2 485.5,262.9 479.9,262.6 474.2,262.4 468.6,262.1 463,261.9 457.3,261.7 451.7,261.5 446,261.3 440.4,261.2 434.7,261.1 429.1,261 423.4,260.9 417.8,260.9 412.1,260.8 406.5,260.8" fill="rgba(238,118,118,0.14)"/>
<polygon points="406.5,270.1 412.1,270.1 417.8,270.1 423.4,270.2 429.1,270.2 434.7,270.3 440.4,270.4 446,270.5 451.7,270.6 457.3,270.8 463,271 468.6,271.1 474.2,271.4 479.9,271.6 485.5,271.8 491.2,272.1 496.8,272.3 502.5,272.6 508.1,272.9 513.8,273.3 519.4,273.6 525.1,274 530.7,274.3 536.4,274.7 542,275.1 542,276.3 536.4,275.8 530.7,275.5 525.1,275.1 519.4,274.7 513.8,274.4 508.1,274.1 502.5,273.7 496.8,273.5 491.2,273.2 485.5,272.9 479.9,272.7 474.2,272.5 468.6,272.3 463,272.1 457.3,271.9 451.7,271.7 446,271.6 440.4,271.5 434.7,271.4 429.1,271.3 423.4,271.3 417.8,271.2 412.1,271.2 406.5,271.2" fill="rgba(60,60,60,0.11)"/>
<polygon points="406.5,274.1 412.1,274.1 417.8,274.1 423.4,274.2 429.1,274.2 434.7,274.3 440.4,274.4 446,274.5 451.7,274.7 457.3,274.8 463,275 468.6,275.2 474.2,275.4 479.9,275.6 485.5,275.8 491.2,276.1 496.8,276.4 502.5,276.7 508.1,277 513.8,277.3 519.4,277.7 525.1,278 530.7,278.4 536.4,278.8 542,279.2 542,280.4 536.4,279.9 530.7,279.5 525.1,279.2 519.4,278.8 513.8,278.4 508.1,278.1 502.5,277.8 496.8,277.5 491.2,277.2 485.5,277 479.9,276.7 474.2,276.5 468.6,276.3 463,276.1 457.3,275.9 451.7,275.8 446,275.6 440.4,275.5 434.7,275.4 429.1,275.3 423.4,275.3 417.8,275.2 412.1,275.2 406.5,275.2" fill="rgba(60,60,60,0.11)"/>
<polygon points="406.5,271.9 412.1,271.9 417.8,272 423.4,272 429.1,272.1 434.7,272.2 440.4,272.3 446,272.4 451.7,272.5 457.3,272.7 463,272.8 468.6,273 474.2,273.2 479.9,273.4 485.5,273.7 491.2,273.9 496.8,274.2 502.5,274.5 508.1,274.8 513.8,275.1 519.4,275.5 525.1,275.8 530.7,276.2 536.4,276.6 542,277 542,278.5 536.4,278 530.7,277.6 525.1,277.3 519.4,276.9 513.8,276.6 508.1,276.2 502.5,275.9 496.8,275.6 491.2,275.3 485.5,275.1 479.9,274.8 474.2,274.6 468.6,274.4 463,274.2 457.3,274.1 451.7,273.9 446,273.8 440.4,273.7 434.7,273.6 429.1,273.5 423.4,273.4 417.8,273.4 412.1,273.3 406.5,273.3" fill="rgba(238,118,118,0.24)"/>
<polygon points="406.5,288.8 412.1,288.8 417.8,288.8 423.4,288.9 429.1,288.9 434.7,289 440.4,289 446,289.1 451.7,289.2 457.3,289.3 463,289.4 468.6,289.6 474.2,289.7 479.9,289.9 485.5,290 491.2,290.2 496.8,290.4 502.5,290.6 508.1,290.8 513.8,291.1 519.4,291.3 525.1,291.6 530.7,291.8 536.4,292.1 542,292.4 542,293.5 536.4,293.2 530.7,292.9 525.1,292.7 519.4,292.4 513.8,292.2 508.1,291.9 502.5,291.7 496.8,291.5 491.2,291.3 485.5,291.1 479.9,291 474.2,290.8 468.6,290.7 463,290.5 457.3,290.4 451.7,290.3 446,290.2 440.4,290.1 434.7,290.1 429.1,290 423.4,290 417.8,289.9 412.1,289.9 406.5,289.9" fill="rgba(60,60,60,0.10)"/>
<polygon points="406.5,292.8 412.1,292.8 417.8,292.8 423.4,292.9 429.1,292.9 434.7,293 440.4,293 446,293.1 451.7,293.2 457.3,293.3 463,293.4 468.6,293.6 474.2,293.7 479.9,293.9 485.5,294.1 491.2,294.2 496.8,294.4 502.5,294.7 508.1,294.9 513.8,295.1 519.4,295.4 525.1,295.6 530.7,295.9 536.4,296.2 542,296.5 542,297.6 536.4,297.3 530.7,297 525.1,296.7 519.4,296.5 513.8,296.2 508.1,296 502.5,295.8 496.8,295.6 491.2,295.4 485.5,295.2 479.9,295 474.2,294.8 468.6,294.7 463,294.5 457.3,294.4 451.7,294.3 446,294.2 440.4,294.1 434.7,294.1 429.1,294 423.4,294 417.8,293.9 412.1,293.9 406.5,293.9" fill="rgba(60,60,60,0.10)"/>
<polygon points="406.5,290.7 412.1,290.7 417.8,290.7 423.4,290.7 429.1,290.8 434.7,290.8 440.4,290.9 446,291 451.7,291.1 457.3,291.2 463,291.3 468.6,291.4 474.2,291.6 479.9,291.7 485.5,291.9 491.2,292.1 496.8,292.3 502.5,292.5 508.1,292.7 513.8,292.9 519.4,293.2 525.1,293.4 530.7,293.7 536.4,294 542,294.3 542,295.7 536.4,295.4 530.7,295.1 525.1,294.9 519.4,294.6 513.8,294.4 508.1,294.1 502.5,293.9 496.8,293.7 491.2,293.5 485.5,293.3 479.9,293.1 474.2,293 468.6,292.8 463,292.7 457.3,292.6 451.7,292.5 446,292.4 440.4,292.3 434.7,292.2 429.1,292.2 423.4,292.1 417.8,292.1 412.1,292.1 406.5,292.1" fill="rgba(238,118,118,0.22)"/>
<polygon points="406.5,304.2 412.1,304.2 417.8,304.2 423.4,304.2 429.1,304.3 434.7,304.3 440.4,304.3 446,304.4 451.7,304.5 457.3,304.5 463,304.6 468.6,304.7 474.2,304.8 479.9,304.9 485.5,305.1 491.2,305.2 496.8,305.3 502.5,305.5 508.1,305.6 513.8,305.8 519.4,305.9 525.1,306.1 530.7,306.3 536.4,306.5 542,306.7 542,307.8 536.4,307.6 530.7,307.4 525.1,307.2 519.4,307.1 513.8,306.9 508.1,306.7 502.5,306.6 496.8,306.4 491.2,306.3 485.5,306.2 479.9,306 474.2,305.9 468.6,305.8 463,305.7 457.3,305.6 451.7,305.6 446,305.5 440.4,305.4 434.7,305.4 429.1,305.4 423.4,305.3 417.8,305.3 412.1,305.3 406.5,305.3" fill="rgba(60,60,60,0.09)"/>
<polygon points="406.5,308.2 412.1,308.2 417.8,308.2 423.4,308.2 429.1,308.3 434.7,308.3 440.4,308.4 446,308.4 451.7,308.5 457.3,308.6 463,308.6 468.6,308.7 474.2,308.8 479.9,309 485.5,309.1 491.2,309.2 496.8,309.4 502.5,309.5 508.1,309.7 513.8,309.8 519.4,310 525.1,310.2 530.7,310.4 536.4,310.6 542,310.8 542,311.9 536.4,311.7 530.7,311.5 525.1,311.3 519.4,311.1 513.8,310.9 508.1,310.8 502.5,310.6 496.8,310.5 491.2,310.3 485.5,310.2 479.9,310.1 474.2,309.9 468.6,309.8 463,309.7 457.3,309.7 451.7,309.6 446,309.5 440.4,309.5 434.7,309.4 429.1,309.4 423.4,309.3 417.8,309.3 412.1,309.3 406.5,309.3" fill="rgba(60,60,60,0.09)"/>
<polygon points="406.5,306 412.1,306 417.8,306.1 423.4,306.1 429.1,306.1 434.7,306.2 440.4,306.2 446,306.3 451.7,306.3 457.3,306.4 463,306.5 468.6,306.6 474.2,306.7 479.9,306.8 485.5,306.9 491.2,307 496.8,307.2 502.5,307.3 508.1,307.5 513.8,307.6 519.4,307.8 525.1,308 530.7,308.2 536.4,308.4 542,308.6 542,310 536.4,309.8 530.7,309.6 525.1,309.4 519.4,309.2 513.8,309.1 508.1,308.9 502.5,308.7 496.8,308.6 491.2,308.5 485.5,308.3 479.9,308.2 474.2,308.1 468.6,308 463,307.9 457.3,307.8 451.7,307.7 446,307.7 440.4,307.6 434.7,307.6 429.1,307.5 423.4,307.5 417.8,307.5 412.1,307.4 406.5,307.4" fill="rgba(238,118,118,0.19)"/>
<polygon points="406.5,314.7 412.1,314.7 417.8,314.7 423.4,314.7 429.1,314.8 434.7,314.8 440.4,314.8 446,314.9 451.7,314.9 457.3,315 463,315 468.6,315.1 474.2,315.2 479.9,315.3 485.5,315.3 491.2,315.4 496.8,315.5 502.5,315.6 508.1,315.8 513.8,315.9 519.4,316 525.1,316.1 530.7,316.3 536.4,316.4 542,316.6 542,317.7 536.4,317.5 530.7,317.4 525.1,317.2 519.4,317.1 513.8,317 508.1,316.9 502.5,316.8 496.8,316.6 491.2,316.5 485.5,316.5 479.9,316.4 474.2,316.3 468.6,316.2 463,316.1 457.3,316.1 451.7,316 446,316 440.4,315.9 434.7,315.9 429.1,315.9 423.4,315.8 417.8,315.8 412.1,315.8 406.5,315.8" fill="rgba(60,60,60,0.08)"/>
<polygon points="406.5,318.7 412.1,318.7 417.8,318.7 423.4,318.7 429.1,318.8 434.7,318.8 440.4,318.8 446,318.9 451.7,318.9 457.3,319 463,319.1 468.6,319.1 474.2,319.2 479.9,319.3 485.5,319.4 491.2,319.5 496.8,319.6 502.5,319.7 508.1,319.8 513.8,319.9 519.4,320 525.1,320.2 530.7,320.3 536.4,320.5 542,320.6 542,321.8 536.4,321.6 530.7,321.4 525.1,321.3 519.4,321.2 513.8,321 508.1,320.9 502.5,320.8 496.8,320.7 491.2,320.6 485.5,320.5 479.9,320.4 474.2,320.3 468.6,320.2 463,320.2 457.3,320.1 451.7,320 446,320 440.4,319.9 434.7,319.9 429.1,319.9 423.4,319.9 417.8,319.8 412.1,319.8 406.5,319.8" fill="rgba(60,60,60,0.08)"/>
<polygon points="406.5,316.6 412.1,316.6 417.8,316.6 423.4,316.6 429.1,316.6 434.7,316.7 440.4,316.7 446,316.7 451.7,316.8 457.3,316.8 463,316.9 468.6,317 474.2,317 479.9,317.1 485.5,317.2 491.2,317.3 496.8,317.4 502.5,317.5 508.1,317.6 513.8,317.7 519.4,317.9 525.1,318 530.7,318.1 536.4,318.3 542,318.4 542,319.9 536.4,319.7 530.7,319.6 525.1,319.4 519.4,319.3 513.8,319.2 508.1,319 502.5,318.9 496.8,318.8 491.2,318.7 485.5,318.6 479.9,318.5 474.2,318.4 468.6,318.4 463,318.3 457.3,318.2 451.7,318.2 446,318.1 440.4,318.1 434.7,318.1 429.1,318 423.4,318 417.8,318 412.1,318 406.5,318" fill="rgba(238,118,118,0.18)"/>
<polygon points="406.5,282.6 412.1,282.6 417.8,282.6 423.4,282.7 429.1,282.7 434.7,282.8 440.4,282.9 446,283 451.7,283.1 457.3,283.2 463,283.3 468.6,283.5 474.2,283.7 479.9,283.9 485.5,284.1 491.2,284.3 496.8,284.5 502.5,284.8 508.1,285 513.8,285.3 519.4,285.6 525.1,285.9 530.7,286.2 536.4,286.5 542,286.9 542,288 536.4,287.7 530.7,287.3 525.1,287 519.4,286.7 513.8,286.4 508.1,286.1 502.5,285.9 496.8,285.6 491.2,285.4 485.5,285.2 479.9,285 474.2,284.8 468.6,284.6 463,284.4 457.3,284.3 451.7,284.2 446,284.1 440.4,284 434.7,283.9 429.1,283.8 423.4,283.8 417.8,283.7 412.1,283.7 406.5,283.7" fill="rgba(60,60,60,0.05)"/>
<polygon points="406.5,286.6 412.1,286.6 417.8,286.6 423.4,286.7 429.1,286.7 434.7,286.8 440.4,286.9 446,287 451.7,287.1 457.3,287.2 463,287.4 468.6,287.5 474.2,287.7 479.9,287.9 485.5,288.1 491.2,288.3 496.8,288.5 502.5,288.8 508.1,289.1 513.8,289.3 519.4,289.6 525.1,290 530.7,290.3 536.4,290.6 542,291 542,292.1 536.4,291.7 530.7,291.4 525.1,291.1 519.4,290.8 513.8,290.5 508.1,290.2 502.5,289.9 496.8,289.7 491.2,289.4 485.5,289.2 479.9,289 474.2,288.8 468.6,288.6 463,288.5 457.3,288.3 451.7,288.2 446,288.1 440.4,288 434.7,287.9 429.1,287.8 423.4,287.8 417.8,287.7 412.1,287.7 406.5,287.7" fill="rgba(60,60,60,0.05)"/>
<polygon points="406.5,284.4 412.1,284.4 417.8,284.5 423.4,284.5 429.1,284.6 434.7,284.6 440.4,284.7 446,284.8 451.7,284.9 457.3,285.1 463,285.2 468.6,285.4 474.2,285.5 479.9,285.7 485.5,285.9 491.2,286.1 496.8,286.4 502.5,286.6 508.1,286.9 513.8,287.2 519.4,287.5 525.1,287.8 530.7,288.1 536.4,288.4 542,288.8 542,290.2 536.4,289.9 530.7,289.5 525.1,289.2 519.4,288.9 513.8,288.6 508.1,288.3 502.5,288 496.8,287.8 491.2,287.6 485.5,287.3 479.9,287.1 474.2,286.9 468.6,286.8 463,286.6 457.3,286.5 451.7,286.3 446,286.2 440.4,286.1 434.7,286 429.1,286 423.4,285.9 417.8,285.9 412.1,285.8 406.5,285.8" fill="rgba(238,118,118,0.11)"/>
<polygon points="406.5,301.3 412.1,301.3 417.8,301.3 423.4,301.4 429.1,301.4 434.7,301.4 440.4,301.5 446,301.6 451.7,301.7 457.3,301.8 463,301.9 468.6,302 474.2,302.1 479.9,302.2 485.5,302.4 491.2,302.5 496.8,302.7 502.5,302.9 508.1,303.1 513.8,303.3 519.4,303.5 525.1,303.7 530.7,303.9 536.4,304.2 542,304.4 542,305.6 536.4,305.3 530.7,305.1 525.1,304.8 519.4,304.6 513.8,304.4 508.1,304.2 502.5,304 496.8,303.8 491.2,303.6 485.5,303.5 479.9,303.3 474.2,303.2 468.6,303.1 463,303 457.3,302.9 451.7,302.8 446,302.7 440.4,302.6 434.7,302.5 429.1,302.5 423.4,302.5 417.8,302.4 412.1,302.4 406.5,302.4" fill="rgba(60,60,60,0.08)"/>
<polygon points="406.5,305.3 412.1,305.3 417.8,305.3 423.4,305.4 429.1,305.4 434.7,305.4 440.4,305.5 446,305.6 451.7,305.7 457.3,305.8 463,305.9 468.6,306 474.2,306.1 479.9,306.3 485.5,306.4 491.2,306.6 496.8,306.7 502.5,306.9 508.1,307.1 513.8,307.3 519.4,307.5 525.1,307.8 530.7,308 536.4,308.2 542,308.5 542,309.6 536.4,309.4 530.7,309.1 525.1,308.9 519.4,308.7 513.8,308.4 508.1,308.2 502.5,308 496.8,307.8 491.2,307.7 485.5,307.5 479.9,307.4 474.2,307.2 468.6,307.1 463,307 457.3,306.9 451.7,306.8 446,306.7 440.4,306.6 434.7,306.6 429.1,306.5 423.4,306.5 417.8,306.4 412.1,306.4 406.5,306.4" fill="rgba(60,60,60,0.08)"/>
<polygon points="406.5,303.2 412.1,303.2 417.8,303.2 423.4,303.2 429.1,303.2 434.7,303.3 440.4,303.4 446,303.4 451.7,303.5 457.3,303.6 463,303.7 468.6,303.8 474.2,304 479.9,304.1 485.5,304.2 491.2,304.4 496.8,304.6 502.5,304.7 508.1,304.9 513.8,305.1 519.4,305.4 525.1,305.6 530.7,305.8 536.4,306.1 542,306.3 542,307.7 536.4,307.5 530.7,307.2 525.1,307 519.4,306.8 513.8,306.6 508.1,306.4 502.5,306.2 496.8,306 491.2,305.8 485.5,305.6 479.9,305.5 474.2,305.4 468.6,305.2 463,305.1 457.3,305 451.7,304.9 446,304.8 440.4,304.8 434.7,304.7 429.1,304.6 423.4,304.6 417.8,304.6 412.1,304.6 406.5,304.6" fill="rgba(238,118,118,0.19)"/>
<polygon points="406.5,316.7 412.1,316.7 417.8,316.7 423.4,316.7 429.1,316.8 434.7,316.8 440.4,316.8 446,316.9 451.7,316.9 457.3,317 463,317.1 468.6,317.2 474.2,317.3 479.9,317.4 485.5,317.5 491.2,317.6 496.8,317.7 502.5,317.8 508.1,318 513.8,318.1 519.4,318.2 525.1,318.4 530.7,318.6 536.4,318.7 542,318.9 542,320 536.4,319.9 530.7,319.7 525.1,319.5 519.4,319.4 513.8,319.2 508.1,319.1 502.5,318.9 496.8,318.8 491.2,318.7 485.5,318.6 479.9,318.5 474.2,318.4 468.6,318.3 463,318.2 457.3,318.1 451.7,318 446,318 440.4,317.9 434.7,317.9 429.1,317.9 423.4,317.8 417.8,317.8 412.1,317.8 406.5,317.8" fill="rgba(60,60,60,0.07)"/>
<polygon points="406.5,320.7 412.1,320.7 417.8,320.7 423.4,320.7 429.1,320.8 434.7,320.8 440.4,320.8 446,320.9 451.7,321 457.3,321 463,321.1 468.6,321.2 474.2,321.3 479.9,321.4 485.5,321.5 491.2,321.6 496.8,321.7 502.5,321.9 508.1,322 513.8,322.1 519.4,322.3 525.1,322.5 530.7,322.6 536.4,322.8 542,323 542,324.1 536.4,323.9 530.7,323.7 525.1,323.6 519.4,323.4 513.8,323.3 508.1,323.1 502.5,323 496.8,322.8 491.2,322.7 485.5,322.6 479.9,322.5 474.2,322.4 468.6,322.3 463,322.2 457.3,322.1 451.7,322.1 446,322 440.4,321.9 434.7,321.9 429.1,321.9 423.4,321.8 417.8,321.8 412.1,321.8 406.5,321.8" fill="rgba(60,60,60,0.07)"/>
<polygon points="406.5,318.5 412.1,318.6 417.8,318.6 423.4,318.6 429.1,318.6 434.7,318.6 440.4,318.7 446,318.7 451.7,318.8 457.3,318.9 463,318.9 468.6,319 474.2,319.1 479.9,319.2 485.5,319.3 491.2,319.4 496.8,319.6 502.5,319.7 508.1,319.8 513.8,320 519.4,320.1 525.1,320.3 530.7,320.4 536.4,320.6 542,320.8 542,322.2 536.4,322 530.7,321.9 525.1,321.7 519.4,321.5 513.8,321.4 508.1,321.2 502.5,321.1 496.8,321 491.2,320.8 485.5,320.7 479.9,320.6 474.2,320.5 468.6,320.4 463,320.3 457.3,320.3 451.7,320.2 446,320.1 440.4,320.1 434.7,320 429.1,320 423.4,320 417.8,320 412.1,320 406.5,320" fill="rgba(238,118,118,0.17)"/>
<polygon points="406.5,234.2 412.1,234.2 417.8,234.3 423.4,234.4 429.1,234.5 434.7,234.7 440.4,234.9 446,235.2 451.7,235.5 457.3,235.8 463,236.2 468.6,236.7 474.2,237.1 479.9,237.7 485.5,238.2 491.2,238.8 496.8,239.4 502.5,240.1 508.1,240.8 513.8,241.5 519.4,242.3 525.1,243.1 530.7,244 536.4,244.9 542,245.8 542,246.9 536.4,246 530.7,245.1 525.1,244.3 519.4,243.4 513.8,242.7 508.1,241.9 502.5,241.2 496.8,240.5 491.2,239.9 485.5,239.3 479.9,238.8 474.2,238.3 468.6,237.8 463,237.3 457.3,237 451.7,236.6 446,236.3 440.4,236 434.7,235.8 429.1,235.6 423.4,235.5 417.8,235.4 412.1,235.3 406.5,235.3" fill="rgba(238,118,118,0.06)"/>
<polygon points="406.5,238.2 412.1,238.2 417.8,238.3 423.4,238.4 429.1,238.5 434.7,238.7 440.4,238.9 446,239.2 451.7,239.5 457.3,239.9 463,240.3 468.6,240.7 474.2,241.2 479.9,241.7 485.5,242.3 491.2,242.8 496.8,243.5 502.5,244.2 508.1,244.9 513.8,245.6 519.4,246.4 525.1,247.2 530.7,248.1 536.4,249 542,249.9 542,251.1 536.4,250.1 530.7,249.2 525.1,248.4 519.4,247.5 513.8,246.7 508.1,246 502.5,245.3 496.8,244.6 491.2,244 485.5,243.4 479.9,242.8 474.2,242.3 468.6,241.8 463,241.4 457.3,241 451.7,240.6 446,240.3 440.4,240 434.7,239.8 429.1,239.6 423.4,239.5 417.8,239.4 412.1,239.3 406.5,239.3" fill="rgba(238,118,118,0.06)"/>
<polygon points="406.5,236 412.1,236 417.8,236.1 423.4,236.2 429.1,236.4 434.7,236.5 440.4,236.8 446,237 451.7,237.4 457.3,237.7 463,238.1 468.6,238.5 474.2,239 479.9,239.5 485.5,240.1 491.2,240.7 496.8,241.3 502.5,242 508.1,242.7 513.8,243.4 519.4,244.2 525.1,245 530.7,245.9 536.4,246.8 542,247.7 542,249.2 536.4,248.2 530.7,247.3 525.1,246.5 519.4,245.6 513.8,244.9 508.1,244.1 502.5,243.4 496.8,242.7 491.2,242.1 485.5,241.5 479.9,240.9 474.2,240.4 468.6,239.9 463,239.5 457.3,239.1 451.7,238.8 446,238.4 440.4,238.2 434.7,237.9 429.1,237.8 423.4,237.6 417.8,237.5 412.1,237.4 406.5,237.4" fill="rgba(60,60,60,0.34)"/>
<polygon points="406.5,264.1 412.1,264.2 417.8,264.2 423.4,264.3 429.1,264.4 434.7,264.5 440.4,264.7 446,264.8 451.7,265.1 457.3,265.3 463,265.6 468.6,265.9 474.2,266.2 479.9,266.5 485.5,266.9 491.2,267.3 496.8,267.8 502.5,268.2 508.1,268.7 513.8,269.3 519.4,269.8 525.1,270.4 530.7,271 536.4,271.6 542,272.2 542,273.4 536.4,272.7 530.7,272.1 525.1,271.5 519.4,270.9 513.8,270.4 508.1,269.8 502.5,269.4 496.8,268.9 491.2,268.5 485.5,268 479.9,267.7 474.2,267.3 468.6,267 463,266.7 457.3,266.4 451.7,266.2 446,265.9 440.4,265.8 434.7,265.6 429.1,265.5 423.4,265.4 417.8,265.3 412.1,265.3 406.5,265.2" fill="rgba(238,118,118,0.06)"/>
<polygon points="406.5,268.1 412.1,268.2 417.8,268.2 423.4,268.3 429.1,268.4 434.7,268.5 440.4,268.7 446,268.8 451.7,269.1 457.3,269.3 463,269.6 468.6,269.9 474.2,270.2 479.9,270.6 485.5,271 491.2,271.4 496.8,271.8 502.5,272.3 508.1,272.8 513.8,273.3 519.4,273.9 525.1,274.4 530.7,275.1 536.4,275.7 542,276.3 542,277.5 536.4,276.8 530.7,276.2 525.1,275.6 519.4,275 513.8,274.4 508.1,273.9 502.5,273.4 496.8,272.9 491.2,272.5 485.5,272.1 479.9,271.7 474.2,271.3 468.6,271 463,270.7 457.3,270.4 451.7,270.2 446,270 440.4,269.8 434.7,269.6 429.1,269.5 423.4,269.4 417.8,269.3 412.1,269.3 406.5,269.2" fill="rgba(238,118,118,0.06)"/>
<polygon points="406.5,266 412.1,266 417.8,266 423.4,266.1 429.1,266.2 434.7,266.3 440.4,266.5 446,266.7 451.7,266.9 457.3,267.2 463,267.4 468.6,267.7 474.2,268.1 479.9,268.4 485.5,268.8 491.2,269.2 496.8,269.6 502.5,270.1 508.1,270.6 513.8,271.1 519.4,271.7 525.1,272.3 530.7,272.9 536.4,273.5 542,274.1 542,275.6 536.4,274.9 530.7,274.3 525.1,273.7 519.4,273.1 513.8,272.6 508.1,272 502.5,271.5 496.8,271.1 491.2,270.6 485.5,270.2 479.9,269.8 474.2,269.5 468.6,269.1 463,268.8 457.3,268.6 451.7,268.3 446,268.1 440.4,267.9 434.7,267.8 429.1,267.6 423.4,267.5 417.8,267.4 412.1,267.4 406.5,267.4" fill="rgba(60,60,60,0.32)"/>
<polygon points="406.5,276.7 412.1,276.7 417.8,276.7 423.4,276.8 429.1,276.8 434.7,276.9 440.4,277.1 446,277.2 451.7,277.4 457.3,277.6 463,277.8 468.6,278.1 474.2,278.3 479.9,278.6 485.5,279 491.2,279.3 496.8,279.7 502.5,280 508.1,280.5 513.8,280.9 519.4,281.3 525.1,281.8 530.7,282.3 536.4,282.8 542,283.4 542,284.5 536.4,283.9 530.7,283.4 525.1,282.9 519.4,282.5 513.8,282 508.1,281.6 502.5,281.2 496.8,280.8 491.2,280.4 485.5,280.1 479.9,279.7 474.2,279.5 468.6,279.2 463,278.9 457.3,278.7 451.7,278.5 446,278.3 440.4,278.2 434.7,278 429.1,277.9 423.4,277.9 417.8,277.8 412.1,277.8 406.5,277.8" fill="rgba(238,118,118,0.05)"/>
<polygon points="406.5,280.6 412.1,280.7 417.8,280.7 423.4,280.8 429.1,280.8 434.7,280.9 440.4,281.1 446,281.2 451.7,281.4 457.3,281.6 463,281.8 468.6,282.1 474.2,282.4 479.9,282.7 485.5,283 491.2,283.3 496.8,283.7 502.5,284.1 508.1,284.5 513.8,284.9 519.4,285.4 525.1,285.9 530.7,286.4 536.4,286.9 542,287.5 542,288.6 536.4,288 530.7,287.5 525.1,287 519.4,286.5 513.8,286.1 508.1,285.6 502.5,285.2 496.8,284.8 491.2,284.4 485.5,284.1 479.9,283.8 474.2,283.5 468.6,283.2 463,283 457.3,282.7 451.7,282.5 446,282.3 440.4,282.2 434.7,282.1 429.1,281.9 423.4,281.9 417.8,281.8 412.1,281.8 406.5,281.7" fill="rgba(238,118,118,0.05)"/>
<polygon points="406.5,278.5 412.1,278.5 417.8,278.5 423.4,278.6 429.1,278.7 434.7,278.8 440.4,278.9 446,279.1 451.7,279.3 457.3,279.5 463,279.7 468.6,279.9 474.2,280.2 479.9,280.5 485.5,280.8 491.2,281.2 496.8,281.5 502.5,281.9 508.1,282.3 513.8,282.8 519.4,283.2 525.1,283.7 530.7,284.2 536.4,284.7 542,285.3 542,286.7 536.4,286.1 530.7,285.6 525.1,285.1 519.4,284.6 513.8,284.2 508.1,283.7 502.5,283.3 496.8,282.9 491.2,282.6 485.5,282.2 479.9,281.9 474.2,281.6 468.6,281.3 463,281.1 457.3,280.9 451.7,280.7 446,280.5 440.4,280.3 434.7,280.2 429.1,280.1 423.4,280 417.8,279.9 412.1,279.9 406.5,279.9" fill="rgba(60,60,60,0.28)"/>
<polygon points="406.5,295.4 412.1,295.4 417.8,295.4 423.4,295.4 429.1,295.5 434.7,295.6 440.4,295.7 446,295.8 451.7,295.9 457.3,296 463,296.2 468.6,296.4 474.2,296.6 479.9,296.8 485.5,297 491.2,297.2 496.8,297.5 502.5,297.8 508.1,298.1 513.8,298.4 519.4,298.7 525.1,299 530.7,299.4 536.4,299.7 542,300.1 542,301.2 536.4,300.9 530.7,300.5 525.1,300.1 519.4,299.8 513.8,299.5 508.1,299.2 502.5,298.9 496.8,298.6 491.2,298.3 485.5,298.1 479.9,297.9 474.2,297.7 468.6,297.5 463,297.3 457.3,297.1 451.7,297 446,296.9 440.4,296.8 434.7,296.7 429.1,296.6 423.4,296.5 417.8,296.5 412.1,296.5 406.5,296.5" fill="rgba(238,118,118,0.05)"/>
<polygon points="406.5,299.4 412.1,299.4 417.8,299.4 423.4,299.4 429.1,299.5 434.7,299.6 440.4,299.7 446,299.8 451.7,299.9 457.3,300.1 463,300.2 468.6,300.4 474.2,300.6 479.9,300.8 485.5,301 491.2,301.3 496.8,301.5 502.5,301.8 508.1,302.1 513.8,302.4 519.4,302.7 525.1,303.1 530.7,303.4 536.4,303.8 542,304.2 542,305.3 536.4,304.9 530.7,304.6 525.1,304.2 519.4,303.9 513.8,303.5 508.1,303.2 502.5,302.9 496.8,302.6 491.2,302.4 485.5,302.1 479.9,301.9 474.2,301.7 468.6,301.5 463,301.3 457.3,301.2 451.7,301 446,300.9 440.4,300.8 434.7,300.7 429.1,300.6 423.4,300.5 417.8,300.5 412.1,300.5 406.5,300.5" fill="rgba(238,118,118,0.05)"/>
<polygon points="406.5,297.2 412.1,297.2 417.8,297.3 423.4,297.3 429.1,297.4 434.7,297.4 440.4,297.5 446,297.6 451.7,297.8 457.3,297.9 463,298.1 468.6,298.2 474.2,298.4 479.9,298.6 485.5,298.9 491.2,299.1 496.8,299.4 502.5,299.6 508.1,299.9 513.8,300.2 519.4,300.6 525.1,300.9 530.7,301.2 536.4,301.6 542,302 542,303.4 536.4,303 530.7,302.7 525.1,302.3 519.4,302 513.8,301.6 508.1,301.3 502.5,301 496.8,300.8 491.2,300.5 485.5,300.3 479.9,300 474.2,299.8 468.6,299.6 463,299.5 457.3,299.3 451.7,299.2 446,299 440.4,298.9 434.7,298.8 429.1,298.8 423.4,298.7 417.8,298.7 412.1,298.6 406.5,298.6" fill="rgba(60,60,60,0.25)"/>
<polygon points="406.5,310.8 412.1,310.8 417.8,310.8 423.4,310.8 429.1,310.9 434.7,310.9 440.4,311 446,311 451.7,311.1 457.3,311.2 463,311.3 468.6,311.5 474.2,311.6 479.9,311.8 485.5,311.9 491.2,312.1 496.8,312.3 502.5,312.5 508.1,312.7 513.8,312.9 519.4,313.1 525.1,313.3 530.7,313.6 536.4,313.9 542,314.1 542,315.2 536.4,315 530.7,314.7 525.1,314.5 519.4,314.2 513.8,314 508.1,313.8 502.5,313.6 496.8,313.4 491.2,313.2 485.5,313 479.9,312.9 474.2,312.7 468.6,312.6 463,312.5 457.3,312.3 451.7,312.2 446,312.1 440.4,312.1 434.7,312 429.1,312 423.4,311.9 417.8,311.9 412.1,311.9 406.5,311.9" fill="rgba(238,118,118,0.04)"/>
<polygon points="406.5,314.8 412.1,314.8 417.8,314.8 423.4,314.8 429.1,314.9 434.7,314.9 440.4,315 446,315.1 451.7,315.1 457.3,315.2 463,315.4 468.6,315.5 474.2,315.6 479.9,315.8 485.5,315.9 491.2,316.1 496.8,316.3 502.5,316.5 508.1,316.7 513.8,316.9 519.4,317.2 525.1,317.4 530.7,317.7 536.4,317.9 542,318.2 542,319.3 536.4,319 530.7,318.8 525.1,318.5 519.4,318.3 513.8,318 508.1,317.8 502.5,317.6 496.8,317.4 491.2,317.2 485.5,317 479.9,316.9 474.2,316.7 468.6,316.6 463,316.5 457.3,316.3 451.7,316.2 446,316.2 440.4,316.1 434.7,316 429.1,316 423.4,315.9 417.8,315.9 412.1,315.9 406.5,315.9" fill="rgba(238,118,118,0.04)"/>
<polygon points="406.5,312.6 412.1,312.6 417.8,312.6 423.4,312.7 429.1,312.7 434.7,312.8 440.4,312.8 446,312.9 451.7,313 457.3,313.1 463,313.2 468.6,313.3 474.2,313.5 479.9,313.6 485.5,313.8 491.2,313.9 496.8,314.1 502.5,314.3 508.1,314.5 513.8,314.7 519.4,315 525.1,315.2 530.7,315.5 536.4,315.7 542,316 542,317.4 536.4,317.2 530.7,316.9 525.1,316.6 519.4,316.4 513.8,316.2 508.1,315.9 502.5,315.7 496.8,315.5 491.2,315.4 485.5,315.2 479.9,315 474.2,314.9 468.6,314.7 463,314.6 457.3,314.5 451.7,314.4 446,314.3 440.4,314.2 434.7,314.2 429.1,314.1 423.4,314.1 417.8,314 412.1,314 406.5,314" fill="rgba(60,60,60,0.22)"/>
<polygon points="406.5,255.8 412.1,255.8 417.8,255.8 423.4,255.9 429.1,256 434.7,256.2 440.4,256.4 446,256.6 451.7,256.9 457.3,257.2 463,257.5 468.6,257.9 474.2,258.3 479.9,258.7 485.5,259.2 491.2,259.7 496.8,260.2 502.5,260.7 508.1,261.3 513.8,262 519.4,262.6 525.1,263.3 530.7,264 536.4,264.8 542,265.6 542,266.7 536.4,265.9 530.7,265.2 525.1,264.4 519.4,263.7 513.8,263.1 508.1,262.5 502.5,261.9 496.8,261.3 491.2,260.8 485.5,260.3 479.9,259.8 474.2,259.4 468.6,259 463,258.6 457.3,258.3 451.7,258 446,257.7 440.4,257.5 434.7,257.3 429.1,257.1 423.4,257 417.8,256.9 412.1,256.9 406.5,256.9" fill="rgba(238,118,118,0.06)"/>
<polygon points="406.5,259.8 412.1,259.8 417.8,259.8 423.4,259.9 429.1,260.1 434.7,260.2 440.4,260.4 446,260.6 451.7,260.9 457.3,261.2 463,261.5 468.6,261.9 474.2,262.3 479.9,262.7 485.5,263.2 491.2,263.7 496.8,264.2 502.5,264.8 508.1,265.4 513.8,266 519.4,266.7 525.1,267.4 530.7,268.1 536.4,268.9 542,269.7 542,270.8 536.4,270 530.7,269.3 525.1,268.5 519.4,267.8 513.8,267.2 508.1,266.5 502.5,265.9 496.8,265.3 491.2,264.8 485.5,264.3 479.9,263.8 474.2,263.4 468.6,263 463,262.6 457.3,262.3 451.7,262 446,261.7 440.4,261.5 434.7,261.3 429.1,261.2 423.4,261 417.8,260.9 412.1,260.9 406.5,260.9" fill="rgba(238,118,118,0.06)"/>
<polygon points="406.5,257.6 412.1,257.6 417.8,257.7 423.4,257.8 429.1,257.9 434.7,258.1 440.4,258.2 446,258.5 451.7,258.7 457.3,259 463,259.4 468.6,259.7 474.2,260.1 479.9,260.6 485.5,261 491.2,261.5 496.8,262.1 502.5,262.6 508.1,263.2 513.8,263.8 519.4,264.5 525.1,265.2 530.7,265.9 536.4,266.7 542,267.5 542,268.9 536.4,268.1 530.7,267.4 525.1,266.6 519.4,265.9 513.8,265.3 508.1,264.6 502.5,264 496.8,263.5 491.2,262.9 485.5,262.4 479.9,262 474.2,261.5 468.6,261.1 463,260.8 457.3,260.4 451.7,260.1 446,259.9 440.4,259.7 434.7,259.5 429.1,259.3 423.4,259.2 417.8,259.1 412.1,259 406.5,259" fill="rgba(60,60,60,0.31)"/>
<polygon points="406.5,285.7 412.1,285.8 417.8,285.8 423.4,285.9 429.1,285.9 434.7,286.1 440.4,286.2 446,286.4 451.7,286.5 457.3,286.8 463,287 468.6,287.3 474.2,287.5 479.9,287.8 485.5,288.2 491.2,288.5 496.8,288.9 502.5,289.3 508.1,289.8 513.8,290.2 519.4,290.7 525.1,291.2 530.7,291.7 536.4,292.3 542,292.9 542,294 536.4,293.4 530.7,292.9 525.1,292.3 519.4,291.8 513.8,291.3 508.1,290.9 502.5,290.4 496.8,290 491.2,289.7 485.5,289.3 479.9,289 474.2,288.6 468.6,288.4 463,288.1 457.3,287.9 451.7,287.6 446,287.5 440.4,287.3 434.7,287.2 429.1,287 423.4,287 417.8,286.9 412.1,286.9 406.5,286.8" fill="rgba(238,118,118,0.06)"/>
<polygon points="406.5,289.7 412.1,289.8 417.8,289.8 423.4,289.9 429.1,289.9 434.7,290.1 440.4,290.2 446,290.4 451.7,290.6 457.3,290.8 463,291 468.6,291.3 474.2,291.6 479.9,291.9 485.5,292.2 491.2,292.6 496.8,293 502.5,293.4 508.1,293.8 513.8,294.3 519.4,294.8 525.1,295.3 530.7,295.8 536.4,296.4 542,296.9 542,298.1 536.4,297.5 530.7,296.9 525.1,296.4 519.4,295.9 513.8,295.4 508.1,294.9 502.5,294.5 496.8,294.1 491.2,293.7 485.5,293.3 479.9,293 474.2,292.7 468.6,292.4 463,292.1 457.3,291.9 451.7,291.7 446,291.5 440.4,291.3 434.7,291.2 429.1,291 423.4,291 417.8,290.9 412.1,290.9 406.5,290.8" fill="rgba(238,118,118,0.06)"/>
<polygon points="406.5,287.6 412.1,287.6 417.8,287.6 423.4,287.7 429.1,287.8 434.7,287.9 440.4,288 446,288.2 451.7,288.4 457.3,288.6 463,288.8 468.6,289.1 474.2,289.4 479.9,289.7 485.5,290 491.2,290.4 496.8,290.8 502.5,291.2 508.1,291.6 513.8,292.1 519.4,292.6 525.1,293.1 530.7,293.6 536.4,294.2 542,294.7 542,296.2 536.4,295.6 530.7,295 525.1,294.5 519.4,294 513.8,293.5 508.1,293.1 502.5,292.6 496.8,292.2 491.2,291.8 485.5,291.5 479.9,291.1 474.2,290.8 468.6,290.5 463,290.3 457.3,290 451.7,289.8 446,289.6 440.4,289.4 434.7,289.3 429.1,289.2 423.4,289.1 417.8,289 412.1,289 406.5,289" fill="rgba(60,60,60,0.34)"/>
<polygon points="406.5,298.2 412.1,298.3 417.8,298.3 423.4,298.3 429.1,298.4 434.7,298.5 440.4,298.6 446,298.8 451.7,298.9 457.3,299.1 463,299.3 468.6,299.5 474.2,299.8 479.9,300 485.5,300.3 491.2,300.6 496.8,300.9 502.5,301.3 508.1,301.6 513.8,302 519.4,302.4 525.1,302.9 530.7,303.3 536.4,303.8 542,304.3 542,305.4 536.4,304.9 530.7,304.4 525.1,304 519.4,303.5 513.8,303.1 508.1,302.8 502.5,302.4 496.8,302 491.2,301.7 485.5,301.4 479.9,301.1 474.2,300.9 468.6,300.6 463,300.4 457.3,300.2 451.7,300 446,299.9 440.4,299.7 434.7,299.6 429.1,299.5 423.4,299.4 417.8,299.4 412.1,299.4 406.5,299.4" fill="rgba(238,118,118,0.06)"/>
<polygon points="406.5,302.2 412.1,302.3 417.8,302.3 423.4,302.3 429.1,302.4 434.7,302.5 440.4,302.6 446,302.8 451.7,302.9 457.3,303.1 463,303.3 468.6,303.5 474.2,303.8 479.9,304 485.5,304.3 491.2,304.6 496.8,305 502.5,305.3 508.1,305.7 513.8,306.1 519.4,306.5 525.1,306.9 530.7,307.4 536.4,307.8 542,308.3 542,309.5 536.4,309 530.7,308.5 525.1,308 519.4,307.6 513.8,307.2 508.1,306.8 502.5,306.4 496.8,306.1 491.2,305.8 485.5,305.4 479.9,305.2 474.2,304.9 468.6,304.6 463,304.4 457.3,304.2 451.7,304 446,303.9 440.4,303.7 434.7,303.6 429.1,303.5 423.4,303.4 417.8,303.4 412.1,303.4 406.5,303.4" fill="rgba(238,118,118,0.06)"/>
<polygon points="406.5,300.1 412.1,300.1 417.8,300.1 423.4,300.2 429.1,300.3 434.7,300.4 440.4,300.5 446,300.6 451.7,300.8 457.3,301 463,301.2 468.6,301.4 474.2,301.6 479.9,301.9 485.5,302.2 491.2,302.5 496.8,302.8 502.5,303.1 508.1,303.5 513.8,303.9 519.4,304.3 525.1,304.7 530.7,305.2 536.4,305.7 542,306.1 542,307.6 536.4,307.1 530.7,306.6 525.1,306.2 519.4,305.7 513.8,305.3 508.1,304.9 502.5,304.6 496.8,304.2 491.2,303.9 485.5,303.6 479.9,303.3 474.2,303 468.6,302.8 463,302.6 457.3,302.4 451.7,302.2 446,302 440.4,301.9 434.7,301.8 429.1,301.7 423.4,301.6 417.8,301.5 412.1,301.5 406.5,301.5" fill="rgba(60,60,60,0.34)"/>
<polygon points="406.5,317 412.1,317 417.8,317 423.4,317 429.1,317.1 434.7,317.2 440.4,317.2 446,317.3 451.7,317.5 457.3,317.6 463,317.7 468.6,317.9 474.2,318.1 479.9,318.3 485.5,318.5 491.2,318.7 496.8,318.9 502.5,319.2 508.1,319.4 513.8,319.7 519.4,320 525.1,320.3 530.7,320.6 536.4,321 542,321.3 542,322.5 536.4,322.1 530.7,321.8 525.1,321.4 519.4,321.1 513.8,320.8 508.1,320.5 502.5,320.3 496.8,320 491.2,319.8 485.5,319.6 479.9,319.4 474.2,319.2 468.6,319 463,318.8 457.3,318.7 451.7,318.6 446,318.4 440.4,318.3 434.7,318.3 429.1,318.2 423.4,318.1 417.8,318.1 412.1,318.1 406.5,318.1" fill="rgba(238,118,118,0.06)"/>
<polygon points="406.5,321 412.1,321 417.8,321 423.4,321 429.1,321.1 434.7,321.2 440.4,321.2 446,321.4 451.7,321.5 457.3,321.6 463,321.7 468.6,321.9 474.2,322.1 479.9,322.3 485.5,322.5 491.2,322.7 496.8,323 502.5,323.2 508.1,323.5 513.8,323.8 519.4,324.1 525.1,324.4 530.7,324.7 536.4,325 542,325.4 542,326.5 536.4,326.2 530.7,325.8 525.1,325.5 519.4,325.2 513.8,324.9 508.1,324.6 502.5,324.3 496.8,324.1 491.2,323.8 485.5,323.6 479.9,323.4 474.2,323.2 468.6,323 463,322.8 457.3,322.7 451.7,322.6 446,322.5 440.4,322.4 434.7,322.3 429.1,322.2 423.4,322.1 417.8,322.1 412.1,322.1 406.5,322.1" fill="rgba(238,118,118,0.06)"/>
<polygon points="406.5,318.8 412.1,318.8 417.8,318.9 423.4,318.9 429.1,318.9 434.7,319 440.4,319.1 446,319.2 451.7,319.3 457.3,319.4 463,319.6 468.6,319.7 474.2,319.9 479.9,320.1 485.5,320.3 491.2,320.5 496.8,320.8 502.5,321 508.1,321.3 513.8,321.6 519.4,321.9 525.1,322.2 530.7,322.5 536.4,322.9 542,323.2 542,324.6 536.4,324.3 530.7,323.9 525.1,323.6 519.4,323.3 513.8,323 508.1,322.7 502.5,322.4 496.8,322.2 491.2,322 485.5,321.7 479.9,321.5 474.2,321.3 468.6,321.2 463,321 457.3,320.8 451.7,320.7 446,320.6 440.4,320.5 434.7,320.4 429.1,320.3 423.4,320.3 417.8,320.3 412.1,320.2 406.5,320.2" fill="rgba(60,60,60,0.34)"/>
<polygon points="406.5,315.7 412.1,315.7 417.8,315.7 423.4,315.8 429.1,315.9 434.7,315.9 440.4,316.1 446,316.2 451.7,316.3 457.3,316.5 463,316.7 468.6,316.9 474.2,317.1 479.9,317.3 485.5,317.6 491.2,317.9 496.8,318.2 502.5,318.5 508.1,318.8 513.8,319.2 519.4,319.5 525.1,319.9 530.7,320.3 536.4,320.7 542,321.2 542,322.3 536.4,321.9 530.7,321.4 525.1,321 519.4,320.6 513.8,320.3 508.1,319.9 502.5,319.6 496.8,319.3 491.2,319 485.5,318.7 479.9,318.4 474.2,318.2 468.6,318 463,317.8 457.3,317.6 451.7,317.4 446,317.3 440.4,317.2 434.7,317.1 429.1,317 423.4,316.9 417.8,316.8 412.1,316.8 406.5,316.8" fill="rgba(238,118,118,0.04)"/>
<polygon points="406.5,319.7 412.1,319.7 417.8,319.7 423.4,319.8 429.1,319.9 434.7,320 440.4,320.1 446,320.2 451.7,320.3 457.3,320.5 463,320.7 468.6,320.9 474.2,321.1 479.9,321.3 485.5,321.6 491.2,321.9 496.8,322.2 502.5,322.5 508.1,322.8 513.8,323.2 519.4,323.6 525.1,324 530.7,324.4 536.4,324.8 542,325.3 542,326.4 536.4,325.9 530.7,325.5 525.1,325.1 519.4,324.7 513.8,324.3 508.1,324 502.5,323.6 496.8,323.3 491.2,323 485.5,322.7 479.9,322.5 474.2,322.2 468.6,322 463,321.8 457.3,321.6 451.7,321.4 446,321.3 440.4,321.2 434.7,321.1 429.1,321 423.4,320.9 417.8,320.8 412.1,320.8 406.5,320.8" fill="rgba(238,118,118,0.04)"/>
<polygon points="406.5,317.6 412.1,317.6 417.8,317.6 423.4,317.6 429.1,317.7 434.7,317.8 440.4,317.9 446,318 451.7,318.2 457.3,318.3 463,318.5 468.6,318.7 474.2,318.9 479.9,319.2 485.5,319.4 491.2,319.7 496.8,320 502.5,320.3 508.1,320.7 513.8,321 519.4,321.4 525.1,321.8 530.7,322.2 536.4,322.6 542,323.1 542,324.5 536.4,324 530.7,323.6 525.1,323.2 519.4,322.8 513.8,322.4 508.1,322.1 502.5,321.7 496.8,321.4 491.2,321.1 485.5,320.9 479.9,320.6 474.2,320.4 468.6,320.1 463,319.9 457.3,319.7 451.7,319.6 446,319.4 440.4,319.3 434.7,319.2 429.1,319.1 423.4,319 417.8,319 412.1,319 406.5,319" fill="rgba(60,60,60,0.22)"/>
<polygon points="406.5,277.4 412.1,277.4 417.8,277.4 423.4,277.5 429.1,277.6 434.7,277.7 440.4,277.9 446,278.1 451.7,278.3 457.3,278.6 463,278.9 468.6,279.2 474.2,279.5 479.9,279.9 485.5,280.3 491.2,280.7 496.8,281.2 502.5,281.6 508.1,282.2 513.8,282.7 519.4,283.3 525.1,283.9 530.7,284.5 536.4,285.1 542,285.8 542,286.9 536.4,286.3 530.7,285.6 525.1,285 519.4,284.4 513.8,283.8 508.1,283.3 502.5,282.8 496.8,282.3 491.2,281.8 485.5,281.4 479.9,281 474.2,280.6 468.6,280.3 463,280 457.3,279.7 451.7,279.4 446,279.2 440.4,279 434.7,278.8 429.1,278.7 423.4,278.6 417.8,278.5 412.1,278.5 406.5,278.5" fill="rgba(238,118,118,0.02)"/>
<polygon points="406.5,281.4 412.1,281.4 417.8,281.4 423.4,281.5 429.1,281.6 434.7,281.7 440.4,281.9 446,282.1 451.7,282.3 457.3,282.6 463,282.9 468.6,283.2 474.2,283.5 479.9,283.9 485.5,284.3 491.2,284.7 496.8,285.2 502.5,285.7 508.1,286.2 513.8,286.8 519.4,287.3 525.1,287.9 530.7,288.6 536.4,289.2 542,289.9 542,291 536.4,290.3 530.7,289.7 525.1,289.1 519.4,288.4 513.8,287.9 508.1,287.3 502.5,286.8 496.8,286.3 491.2,285.9 485.5,285.4 479.9,285 474.2,284.6 468.6,284.3 463,284 457.3,283.7 451.7,283.4 446,283.2 440.4,283 434.7,282.8 429.1,282.7 423.4,282.6 417.8,282.5 412.1,282.5 406.5,282.5" fill="rgba(238,118,118,0.02)"/>
<polygon points="406.5,279.2 412.1,279.2 417.8,279.3 423.4,279.4 429.1,279.5 434.7,279.6 440.4,279.8 446,280 451.7,280.2 457.3,280.4 463,280.7 468.6,281 474.2,281.4 479.9,281.7 485.5,282.1 491.2,282.6 496.8,283 502.5,283.5 508.1,284 513.8,284.6 519.4,285.1 525.1,285.7 530.7,286.4 536.4,287 542,287.7 542,289.1 536.4,288.5 530.7,287.8 525.1,287.2 519.4,286.6 513.8,286 508.1,285.4 502.5,284.9 496.8,284.4 491.2,284 485.5,283.6 479.9,283.2 474.2,282.8 468.6,282.4 463,282.1 457.3,281.8 451.7,281.6 446,281.4 440.4,281.2 434.7,281 429.1,280.9 423.4,280.8 417.8,280.7 412.1,280.6 406.5,280.6" fill="rgba(60,60,60,0.09)"/>
<polygon points="406.5,307.3 412.1,307.4 417.8,307.4 423.4,307.4 429.1,307.5 434.7,307.6 440.4,307.7 446,307.9 451.7,308.1 457.3,308.2 463,308.5 468.6,308.7 474.2,308.9 479.9,309.2 485.5,309.5 491.2,309.8 496.8,310.2 502.5,310.5 508.1,310.9 513.8,311.3 519.4,311.8 525.1,312.2 530.7,312.7 536.4,313.2 542,313.7 542,314.8 536.4,314.3 530.7,313.8 525.1,313.3 519.4,312.9 513.8,312.4 508.1,312 502.5,311.6 496.8,311.3 491.2,310.9 485.5,310.6 479.9,310.3 474.2,310 468.6,309.8 463,309.6 457.3,309.3 451.7,309.2 446,309 440.4,308.8 434.7,308.7 429.1,308.6 423.4,308.5 417.8,308.5 412.1,308.5 406.5,308.4" fill="rgba(238,118,118,0.04)"/>
<polygon points="406.5,311.3 412.1,311.4 417.8,311.4 423.4,311.4 429.1,311.5 434.7,311.6 440.4,311.7 446,311.9 451.7,312.1 457.3,312.3 463,312.5 468.6,312.7 474.2,313 479.9,313.2 485.5,313.5 491.2,313.9 496.8,314.2 502.5,314.6 508.1,315 513.8,315.4 519.4,315.8 525.1,316.3 530.7,316.7 536.4,317.2 542,317.7 542,318.9 536.4,318.3 530.7,317.9 525.1,317.4 519.4,316.9 513.8,316.5 508.1,316.1 502.5,315.7 496.8,315.3 491.2,315 485.5,314.6 479.9,314.3 474.2,314.1 468.6,313.8 463,313.6 457.3,313.4 451.7,313.2 446,313 440.4,312.8 434.7,312.7 429.1,312.6 423.4,312.5 417.8,312.5 412.1,312.5 406.5,312.4" fill="rgba(238,118,118,0.04)"/>
<polygon points="406.5,309.2 412.1,309.2 417.8,309.2 423.4,309.3 429.1,309.4 434.7,309.5 440.4,309.6 446,309.7 451.7,309.9 457.3,310.1 463,310.3 468.6,310.5 474.2,310.8 479.9,311.1 485.5,311.4 491.2,311.7 496.8,312 502.5,312.4 508.1,312.8 513.8,313.2 519.4,313.6 525.1,314.1 530.7,314.6 536.4,315 542,315.6 542,317 536.4,316.5 530.7,316 525.1,315.5 519.4,315 513.8,314.6 508.1,314.2 502.5,313.8 496.8,313.5 491.2,313.1 485.5,312.8 479.9,312.5 474.2,312.2 468.6,311.9 463,311.7 457.3,311.5 451.7,311.3 446,311.1 440.4,311 434.7,310.9 429.1,310.8 423.4,310.7 417.8,310.6 412.1,310.6 406.5,310.6" fill="rgba(60,60,60,0.22)"/>
<polygon points="406.5,270.7 412.1,270.7 417.8,270.8 423.4,270.9 429.1,271 434.7,271.2 440.4,271.4 446,271.7 451.7,271.9 457.3,272.3 463,272.6 468.6,273 474.2,273.5 479.9,273.9 485.5,274.5 491.2,275 496.8,275.6 502.5,276.2 508.1,276.9 513.8,277.6 519.4,278.3 525.1,279.1 530.7,279.9 536.4,280.7 542,281.6 542,282.7 536.4,281.8 530.7,281 525.1,280.2 519.4,279.4 513.8,278.7 508.1,278 502.5,277.3 496.8,276.7 491.2,276.1 485.5,275.6 479.9,275.1 474.2,274.6 468.6,274.1 463,273.7 457.3,273.4 451.7,273 446,272.8 440.4,272.5 434.7,272.3 429.1,272.1 423.4,272 417.8,271.9 412.1,271.8 406.5,271.8" fill="rgba(60,60,60,0.03)"/>
<polygon points="406.5,274.7 412.1,274.7 417.8,274.8 423.4,274.9 429.1,275 434.7,275.2 440.4,275.4 446,275.7 451.7,276 457.3,276.3 463,276.6 468.6,277.1 474.2,277.5 479.9,278 485.5,278.5 491.2,279 496.8,279.6 502.5,280.3 508.1,280.9 513.8,281.6 519.4,282.4 525.1,283.1 530.7,283.9 536.4,284.8 542,285.7 542,286.8 536.4,285.9 530.7,285.1 525.1,284.3 519.4,283.5 513.8,282.8 508.1,282 502.5,281.4 496.8,280.8 491.2,280.2 485.5,279.6 479.9,279.1 474.2,278.6 468.6,278.2 463,277.8 457.3,277.4 451.7,277.1 446,276.8 440.4,276.5 434.7,276.3 429.1,276.1 423.4,276 417.8,275.9 412.1,275.8 406.5,275.8" fill="rgba(60,60,60,0.03)"/>
<polygon points="406.5,272.6 412.1,272.6 417.8,272.6 423.4,272.7 429.1,272.9 434.7,273 440.4,273.3 446,273.5 451.7,273.8 457.3,274.1 463,274.5 468.6,274.9 474.2,275.3 479.9,275.8 485.5,276.3 491.2,276.9 496.8,277.5 502.5,278.1 508.1,278.8 513.8,279.5 519.4,280.2 525.1,281 530.7,281.8 536.4,282.6 542,283.5 542,284.9 536.4,284 530.7,283.2 525.1,282.4 519.4,281.6 513.8,280.9 508.1,280.2 502.5,279.5 496.8,278.9 491.2,278.3 485.5,277.7 479.9,277.2 474.2,276.7 468.6,276.3 463,275.9 457.3,275.5 451.7,275.2 446,274.9 440.4,274.7 434.7,274.4 429.1,274.3 423.4,274.1 417.8,274 412.1,274 406.5,274" fill="rgba(238,118,118,0.07)"/>
<polygon points="406.5,292.3 412.1,292.3 417.8,292.4 423.4,292.5 429.1,292.6 434.7,292.7 440.4,292.9 446,293.1 451.7,293.4 457.3,293.6 463,293.9 468.6,294.3 474.2,294.7 479.9,295.1 485.5,295.5 491.2,296 496.8,296.5 502.5,297 508.1,297.6 513.8,298.2 519.4,298.8 525.1,299.4 530.7,300.1 536.4,300.9 542,301.6 542,302.7 536.4,302 530.7,301.3 525.1,300.6 519.4,299.9 513.8,299.3 508.1,298.7 502.5,298.1 496.8,297.6 491.2,297.1 485.5,296.6 479.9,296.2 474.2,295.8 468.6,295.4 463,295.1 457.3,294.7 451.7,294.5 446,294.2 440.4,294 434.7,293.8 429.1,293.7 423.4,293.6 417.8,293.5 412.1,293.4 406.5,293.4" fill="rgba(60,60,60,0.08)"/>
<polygon points="406.5,296.3 412.1,296.3 417.8,296.4 423.4,296.5 429.1,296.6 434.7,296.7 440.4,296.9 446,297.1 451.7,297.4 457.3,297.6 463,298 468.6,298.3 474.2,298.7 479.9,299.1 485.5,299.5 491.2,300 496.8,300.5 502.5,301.1 508.1,301.6 513.8,302.2 519.4,302.9 525.1,303.5 530.7,304.2 536.4,304.9 542,305.7 542,306.8 536.4,306 530.7,305.3 525.1,304.6 519.4,304 513.8,303.3 508.1,302.7 502.5,302.2 496.8,301.6 491.2,301.1 485.5,300.6 479.9,300.2 474.2,299.8 468.6,299.4 463,299.1 457.3,298.8 451.7,298.5 446,298.2 440.4,298 434.7,297.8 429.1,297.7 423.4,297.6 417.8,297.5 412.1,297.4 406.5,297.4" fill="rgba(60,60,60,0.08)"/>
<polygon points="406.5,294.2 412.1,294.2 417.8,294.2 423.4,294.3 429.1,294.4 434.7,294.6 440.4,294.8 446,295 451.7,295.2 457.3,295.5 463,295.8 468.6,296.1 474.2,296.5 479.9,296.9 485.5,297.4 491.2,297.8 496.8,298.3 502.5,298.9 508.1,299.4 513.8,300 519.4,300.7 525.1,301.3 530.7,302 536.4,302.7 542,303.5 542,304.9 536.4,304.2 530.7,303.4 525.1,302.7 519.4,302.1 513.8,301.5 508.1,300.9 502.5,300.3 496.8,299.8 491.2,299.3 485.5,298.8 479.9,298.3 474.2,297.9 468.6,297.6 463,297.2 457.3,296.9 451.7,296.6 446,296.4 440.4,296.2 434.7,296 429.1,295.8 423.4,295.7 417.8,295.6 412.1,295.6 406.5,295.6" fill="rgba(238,118,118,0.17)"/>
<polygon points="406.5,313.9 412.1,313.9 417.8,314 423.4,314 429.1,314.1 434.7,314.3 440.4,314.4 446,314.6 451.7,314.8 457.3,315.1 463,315.3 468.6,315.6 474.2,316 479.9,316.3 485.5,316.7 491.2,317.1 496.8,317.5 502.5,318 508.1,318.5 513.8,319 519.4,319.6 525.1,320.1 530.7,320.7 536.4,321.3 542,322 542,323.1 536.4,322.5 530.7,321.8 525.1,321.2 519.4,320.7 513.8,320.1 508.1,319.6 502.5,319.1 496.8,318.6 491.2,318.2 485.5,317.8 479.9,317.4 474.2,317.1 468.6,316.7 463,316.4 457.3,316.2 451.7,315.9 446,315.7 440.4,315.5 434.7,315.4 429.1,315.2 423.4,315.1 417.8,315.1 412.1,315 406.5,315" fill="rgba(60,60,60,0.08)"/>
<polygon points="406.5,317.9 412.1,317.9 417.8,318 423.4,318 429.1,318.1 434.7,318.3 440.4,318.4 446,318.6 451.7,318.8 457.3,319.1 463,319.3 468.6,319.6 474.2,320 479.9,320.3 485.5,320.7 491.2,321.1 496.8,321.6 502.5,322 508.1,322.5 513.8,323.1 519.4,323.6 525.1,324.2 530.7,324.8 536.4,325.4 542,326.1 542,327.2 536.4,326.5 530.7,325.9 525.1,325.3 519.4,324.7 513.8,324.2 508.1,323.6 502.5,323.1 496.8,322.7 491.2,322.2 485.5,321.8 479.9,321.4 474.2,321.1 468.6,320.7 463,320.4 457.3,320.2 451.7,319.9 446,319.7 440.4,319.5 434.7,319.4 429.1,319.2 423.4,319.1 417.8,319.1 412.1,319 406.5,319" fill="rgba(60,60,60,0.08)"/>
<polygon points="406.5,315.8 412.1,315.8 417.8,315.8 423.4,315.9 429.1,316 434.7,316.1 440.4,316.3 446,316.5 451.7,316.7 457.3,316.9 463,317.2 468.6,317.5 474.2,317.8 479.9,318.2 485.5,318.5 491.2,319 496.8,319.4 502.5,319.9 508.1,320.4 513.8,320.9 519.4,321.4 525.1,322 530.7,322.6 536.4,323.2 542,323.9 542,325.3 536.4,324.6 530.7,324 525.1,323.4 519.4,322.8 513.8,322.3 508.1,321.8 502.5,321.3 496.8,320.8 491.2,320.4 485.5,320 479.9,319.6 474.2,319.2 468.6,318.9 463,318.6 457.3,318.3 451.7,318.1 446,317.9 440.4,317.7 434.7,317.5 429.1,317.4 423.4,317.3 417.8,317.2 412.1,317.2 406.5,317.2" fill="rgba(238,118,118,0.17)"/>
<polygon points="407.3,41 542,41 542,92.6" fill="#fff"/>
</g>
<rect x="53" y="40" width="133.4" height="266" stroke="#1e1e1e" stroke-width="1.15" fill="none"/>
<rect x="233.2" y="39" width="135" height="266.2" stroke="#1e1e1e" stroke-width="1.15" fill="none"/>
<rect x="406.8" y="40.9" width="135.2" height="265.3" stroke="#1e1e1e" stroke-width="1.15" fill="none"/>
<path d="M95.3,40v3 M123.5,40v3 M151.5,40v3 M179.8,40v3 M53,77.8h3 M53,116h3 M53,154.3h3 M53,192.6h3 M53,231.2h3 M53,270h3 M301.6,38.9v3 M233.3,83.7h3 M233.3,129.3h3 M233.3,174.1h3 M233.3,218.8h3 M233.3,263.7h3 M475.2,40.9v3 M406.5,85.4h3 M406.5,130.7h3 M406.5,175.7h3 M406.5,220.5h3 M406.5,264.9h3" stroke="#1e1e1e" stroke-width="1.15" fill="none"/>
<path d="M67.3,40 L67.3,88.8 L80.9,88.8 L80.9,112.5 L95,112.5 L95,150.6 L109.1,150.6 L109.1,169.5 L123.3,169.5 L123.3,200.7 L136.9,200.7 L136.9,231.3 L150.9,231.3 L150.9,254.4 L165.1,254.4 L165.1,281.6 L178.9,281.6 L178.9,306" stroke="#333" stroke-width="1.1" fill="none"/>
<text x="82.2" y="13.9" font-size="13.5" text-anchor="start" font-family="Liberation Serif, serif" fill="#1a1a1a" textLength="78.3" lengthAdjust="spacingAndGlyphs">Velocity(m/s)</text>
<text x="273.3" y="14.4" font-size="13.5" text-anchor="start" font-family="Liberation Serif, serif" fill="#1a1a1a" textLength="57" lengthAdjust="spacingAndGlyphs">Offset(m)</text>
<text x="440" y="14.4" font-size="13.5" text-anchor="start" font-family="Liberation Serif, serif" fill="#1a1a1a" textLength="56.8" lengthAdjust="spacingAndGlyphs">Offset(m)</text>
<text x="64.9" y="31.6" font-size="12" text-anchor="middle" font-family="Liberation Serif, serif" fill="#1a1a1a" >2000</text>
<text x="92.9" y="31.6" font-size="12" text-anchor="middle" font-family="Liberation Serif, serif" fill="#1a1a1a" >3000</text>
<text x="122.9" y="31.6" font-size="12" text-anchor="middle" font-family="Liberation Serif, serif" fill="#1a1a1a" >4000</text>
<text x="152.5" y="31.6" font-size="12" text-anchor="middle" font-family="Liberation Serif, serif" fill="#1a1a1a" >5000</text>
<text x="181.9" y="31.6" font-size="12" text-anchor="middle" font-family="Liberation Serif, serif" fill="#1a1a1a" >6000</text>
<text x="236.4" y="31.6" font-size="12" text-anchor="middle" font-family="Liberation Serif, serif" fill="#1a1a1a" >0</text>
<text x="298" y="31.6" font-size="12" text-anchor="middle" font-family="Liberation Serif, serif" fill="#1a1a1a" >1000</text>
<text x="357.7" y="31.6" font-size="12" text-anchor="middle" font-family="Liberation Serif, serif" fill="#1a1a1a" >2000</text>
<text x="410" y="31.6" font-size="12" text-anchor="middle" font-family="Liberation Serif, serif" fill="#1a1a1a" >0</text>
<text x="473.3" y="31.6" font-size="12" text-anchor="middle" font-family="Liberation Serif, serif" fill="#1a1a1a" >1000</text>
<text x="534" y="31.6" font-size="12" text-anchor="middle" font-family="Liberation Serif, serif" fill="#1a1a1a" >2000</text>
<text x="46.3" y="46" font-size="12" text-anchor="end" font-family="Liberation Serif, serif" fill="#1a1a1a" >0</text>
<text x="47.8" y="81.8" font-size="12" text-anchor="end" font-family="Liberation Serif, serif" fill="#1a1a1a" >500</text>
<text x="47.8" y="120" font-size="12" text-anchor="end" font-family="Liberation Serif, serif" fill="#1a1a1a" >1000</text>
<text x="47.8" y="158.3" font-size="12" text-anchor="end" font-family="Liberation Serif, serif" fill="#1a1a1a" >1500</text>
<text x="47.8" y="196.6" font-size="12" text-anchor="end" font-family="Liberation Serif, serif" fill="#1a1a1a" >2000</text>
<text x="47.8" y="235.2" font-size="12" text-anchor="end" font-family="Liberation Serif, serif" fill="#1a1a1a" >2500</text>
<text x="47.8" y="274.2" font-size="12" text-anchor="end" font-family="Liberation Serif, serif" fill="#1a1a1a" >3000</text>
<text x="47.8" y="310.2" font-size="12" text-anchor="end" font-family="Liberation Serif, serif" fill="#1a1a1a" >3500</text>
<text x="228.4" y="46.2" font-size="12" text-anchor="end" font-family="Liberation Serif, serif" fill="#1a1a1a" >0</text>
<text x="229.9" y="86.7" font-size="12" text-anchor="end" font-family="Liberation Serif, serif" fill="#1a1a1a" >0.5</text>
<text x="227.4" y="133.4" font-size="12" text-anchor="end" font-family="Liberation Serif, serif" fill="#1a1a1a" >1</text>
<text x="229.9" y="178.1" font-size="12" text-anchor="end" font-family="Liberation Serif, serif" fill="#1a1a1a" >1.5</text>
<text x="228.9" y="222.8" font-size="12" text-anchor="end" font-family="Liberation Serif, serif" fill="#1a1a1a" >2</text>
<text x="229.9" y="267.7" font-size="12" text-anchor="end" font-family="Liberation Serif, serif" fill="#1a1a1a" >2.5</text>
<text x="225.9" y="306.6" font-size="12" text-anchor="end" font-family="Liberation Serif, serif" fill="#1a1a1a" >3</text>
<text x="401.3" y="47.6" font-size="12" text-anchor="end" font-family="Liberation Serif, serif" fill="#1a1a1a" >0</text>
<text x="404.3" y="88.5" font-size="12" text-anchor="end" font-family="Liberation Serif, serif" fill="#1a1a1a" >0.5</text>
<text x="400.2" y="134.7" font-size="12" text-anchor="end" font-family="Liberation Serif, serif" fill="#1a1a1a" >1</text>
<text x="404.3" y="180.1" font-size="12" text-anchor="end" font-family="Liberation Serif, serif" fill="#1a1a1a" >1.5</text>
<text x="401.5" y="224.2" font-size="12" text-anchor="end" font-family="Liberation Serif, serif" fill="#1a1a1a" >2</text>
<text x="404.3" y="268.6" font-size="12" text-anchor="end" font-family="Liberation Serif, serif" fill="#1a1a1a" >2.5</text>
<text x="403" y="307.4" font-size="12" text-anchor="end" font-family="Liberation Serif, serif" fill="#1a1a1a" >3</text>
<text x="14.3" y="173.3" font-size="13.5" text-anchor="middle" font-family="Liberation Serif, serif" fill="#1a1a1a" textLength="57.5" lengthAdjust="spacingAndGlyphs" transform="rotate(-90 14.3 173.3)">Depth(m)</text>
<text x="211.1" y="172.5" font-size="13.5" text-anchor="middle" font-family="Liberation Serif, serif" fill="#1a1a1a" textLength="44.5" lengthAdjust="spacingAndGlyphs" transform="rotate(-90 211.1 172.5)">Time(s)</text>
<text x="386.6" y="173.8" font-size="13.5" text-anchor="middle" font-family="Liberation Serif, serif" fill="#1a1a1a" textLength="44.5" lengthAdjust="spacingAndGlyphs" transform="rotate(-90 386.6 173.8)">Time(s)</text>
<text x="117.6" y="321.3" font-size="14.2" text-anchor="middle" font-family="Liberation Serif, serif" fill="#1a1a1a" >(a)</text>
<text x="300.6" y="321.3" font-size="14.2" text-anchor="middle" font-family="Liberation Serif, serif" fill="#1a1a1a" >(b)</text>
<text x="480.5" y="321.3" font-size="14.2" text-anchor="middle" font-family="Liberation Serif, serif" fill="#1a1a1a" >(c)</text>
</svg>
</body></html>
